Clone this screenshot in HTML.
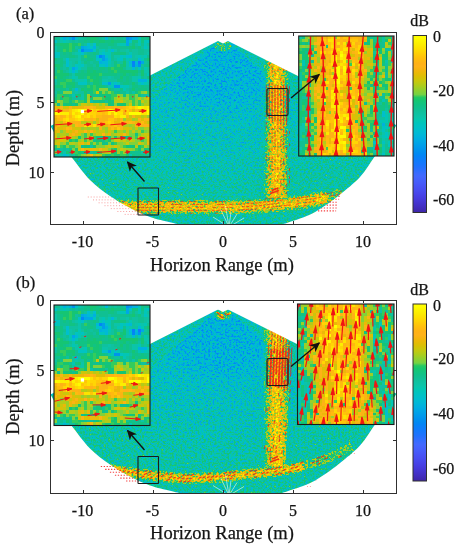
<!DOCTYPE html>
<html lang="en"><head><meta charset="utf-8"><title>Figure</title>
<style>html,body{margin:0;padding:0;background:#fff;}body{width:461px;height:550px;overflow:hidden;}svg{display:block;}text{font-family:"Liberation Serif", "Times New Roman", serif;fill:#141414;stroke:#141414;stroke-width:0.25px;}</style>
</head><body>
<svg width="461" height="550" viewBox="0 0 461 550">
<defs>
<filter id="cmA" x="0" y="0" width="461" height="550" filterUnits="userSpaceOnUse" color-interpolation-filters="sRGB">
<feTurbulence type="fractalNoise" baseFrequency="0.47 0.52" numOctaves="2" seed="7" result="t"/>
<feColorMatrix in="t" type="matrix" values="1 0 0 0 0  1 0 0 0 0  1 0 0 0 0  0 0 0 0 1" result="n0"/>
<feComponentTransfer in="n0" result="n"><feFuncR type="table" tableValues="0 0.02 0.16 0.5 0.8 0.9 0.94"/><feFuncG type="table" tableValues="0 0.02 0.16 0.5 0.8 0.9 0.94"/><feFuncB type="table" tableValues="0 0.02 0.16 0.5 0.8 0.9 0.94"/></feComponentTransfer>
<feComposite in="SourceGraphic" in2="n" operator="arithmetic" k1="0.400" k2="0.800" k3="0.080" k4="-0.040" result="s"/>
<feComponentTransfer in="s"><feFuncR type="table" tableValues="0.242 0.250 0.258 0.265 0.271 0.275 0.278 0.280 0.281 0.281 0.280 0.276 0.270 0.260 0.222 0.176 0.129 0.093 0.066 0.044 0.016 0.000 0.000 0.000 0.000 0.000 0.000 0.000 0.000 0.000 0.000 0.000 0.000 0.018 0.047 0.055 0.063 0.063 0.063 0.071 0.086 0.141 0.459 0.531 0.601 0.670 0.737 0.797 0.845 0.889 0.931 0.967 1.000 1.000 1.000 1.000 1.000 1.000 0.997 0.990 0.988 0.992 0.998 0.992"/><feFuncG type="table" tableValues="0.150 0.165 0.182 0.198 0.215 0.234 0.256 0.278 0.301 0.323 0.345 0.367 0.389 0.412 0.420 0.430 0.443 0.458 0.476 0.493 0.512 0.540 0.568 0.596 0.624 0.652 0.677 0.702 0.725 0.742 0.753 0.763 0.772 0.781 0.769 0.761 0.753 0.753 0.761 0.769 0.776 0.792 0.823 0.818 0.811 0.803 0.793 0.780 0.758 0.738 0.720 0.707 0.700 0.696 0.722 0.752 0.787 0.828 0.868 0.902 0.933 0.961 0.988 1.000"/><feFuncB type="table" tableValues="0.660 0.708 0.751 0.795 0.836 0.871 0.899 0.922 0.941 0.958 0.972 0.983 0.991 0.995 0.999 0.998 0.994 0.991 0.989 0.976 0.964 0.949 0.935 0.924 0.915 0.903 0.886 0.865 0.841 0.815 0.789 0.761 0.728 0.689 0.659 0.635 0.604 0.565 0.525 0.486 0.439 0.384 0.265 0.213 0.161 0.115 0.077 0.044 0.021 0.019 0.033 0.066 0.095 0.086 0.065 0.045 0.029 0.017 0.004 0.000 0.000 0.000 0.000 0.000"/><feFuncA type="linear" slope="0" intercept="1"/></feComponentTransfer><feGaussianBlur stdDeviation="0.5"/>
</filter>
<filter id="cmB" x="0" y="0" width="461" height="550" filterUnits="userSpaceOnUse" color-interpolation-filters="sRGB">
<feTurbulence type="fractalNoise" baseFrequency="0.47 0.52" numOctaves="2" seed="23" result="t"/>
<feColorMatrix in="t" type="matrix" values="1 0 0 0 0  1 0 0 0 0  1 0 0 0 0  0 0 0 0 1" result="n0"/>
<feComponentTransfer in="n0" result="n"><feFuncR type="table" tableValues="0 0.02 0.16 0.5 0.8 0.9 0.94"/><feFuncG type="table" tableValues="0 0.02 0.16 0.5 0.8 0.9 0.94"/><feFuncB type="table" tableValues="0 0.02 0.16 0.5 0.8 0.9 0.94"/></feComponentTransfer>
<feComposite in="SourceGraphic" in2="n" operator="arithmetic" k1="0.400" k2="0.800" k3="0.080" k4="-0.040" result="s"/>
<feComponentTransfer in="s"><feFuncR type="table" tableValues="0.242 0.250 0.258 0.265 0.271 0.275 0.278 0.280 0.281 0.281 0.280 0.276 0.270 0.260 0.222 0.176 0.129 0.093 0.066 0.044 0.016 0.000 0.000 0.000 0.000 0.000 0.000 0.000 0.000 0.000 0.000 0.000 0.000 0.018 0.047 0.055 0.063 0.063 0.063 0.071 0.086 0.141 0.459 0.531 0.601 0.670 0.737 0.797 0.845 0.889 0.931 0.967 1.000 1.000 1.000 1.000 1.000 1.000 0.997 0.990 0.988 0.992 0.998 0.992"/><feFuncG type="table" tableValues="0.150 0.165 0.182 0.198 0.215 0.234 0.256 0.278 0.301 0.323 0.345 0.367 0.389 0.412 0.420 0.430 0.443 0.458 0.476 0.493 0.512 0.540 0.568 0.596 0.624 0.652 0.677 0.702 0.725 0.742 0.753 0.763 0.772 0.781 0.769 0.761 0.753 0.753 0.761 0.769 0.776 0.792 0.823 0.818 0.811 0.803 0.793 0.780 0.758 0.738 0.720 0.707 0.700 0.696 0.722 0.752 0.787 0.828 0.868 0.902 0.933 0.961 0.988 1.000"/><feFuncB type="table" tableValues="0.660 0.708 0.751 0.795 0.836 0.871 0.899 0.922 0.941 0.958 0.972 0.983 0.991 0.995 0.999 0.998 0.994 0.991 0.989 0.976 0.964 0.949 0.935 0.924 0.915 0.903 0.886 0.865 0.841 0.815 0.789 0.761 0.728 0.689 0.659 0.635 0.604 0.565 0.525 0.486 0.439 0.384 0.265 0.213 0.161 0.115 0.077 0.044 0.021 0.019 0.033 0.066 0.095 0.086 0.065 0.045 0.029 0.017 0.004 0.000 0.000 0.000 0.000 0.000"/><feFuncA type="linear" slope="0" intercept="1"/></feComponentTransfer><feGaussianBlur stdDeviation="0.5"/>
</filter>
<linearGradient id="cb" x1="0" y1="0" x2="0" y2="1">
<stop offset="0.0000" stop-color="#fdff00"/>
<stop offset="0.0159" stop-color="#fffc00"/>
<stop offset="0.0317" stop-color="#fdf500"/>
<stop offset="0.0476" stop-color="#fcee00"/>
<stop offset="0.0635" stop-color="#fce600"/>
<stop offset="0.0794" stop-color="#fedd01"/>
<stop offset="0.0952" stop-color="#ffd304"/>
<stop offset="0.1111" stop-color="#ffc907"/>
<stop offset="0.1270" stop-color="#ffc00b"/>
<stop offset="0.1429" stop-color="#ffb810"/>
<stop offset="0.1587" stop-color="#ffb116"/>
<stop offset="0.1746" stop-color="#ffb318"/>
<stop offset="0.1905" stop-color="#f7b411"/>
<stop offset="0.2063" stop-color="#edb808"/>
<stop offset="0.2222" stop-color="#e3bc05"/>
<stop offset="0.2381" stop-color="#d7c105"/>
<stop offset="0.2540" stop-color="#cbc70b"/>
<stop offset="0.2698" stop-color="#bcca14"/>
<stop offset="0.2857" stop-color="#abcd1d"/>
<stop offset="0.3016" stop-color="#99cf29"/>
<stop offset="0.3175" stop-color="#87d136"/>
<stop offset="0.3333" stop-color="#75d244"/>
<stop offset="0.3492" stop-color="#24ca62"/>
<stop offset="0.3651" stop-color="#16c670"/>
<stop offset="0.3810" stop-color="#12c47c"/>
<stop offset="0.3968" stop-color="#10c286"/>
<stop offset="0.4127" stop-color="#10c090"/>
<stop offset="0.4286" stop-color="#10c09a"/>
<stop offset="0.4444" stop-color="#0ec2a2"/>
<stop offset="0.4603" stop-color="#0cc4a8"/>
<stop offset="0.4762" stop-color="#05c7b0"/>
<stop offset="0.4921" stop-color="#00c5ba"/>
<stop offset="0.5079" stop-color="#00c3c2"/>
<stop offset="0.5238" stop-color="#00c0c9"/>
<stop offset="0.5397" stop-color="#00bdd0"/>
<stop offset="0.5556" stop-color="#00b9d6"/>
<stop offset="0.5714" stop-color="#00b3dc"/>
<stop offset="0.5873" stop-color="#00ade2"/>
<stop offset="0.6032" stop-color="#00a6e6"/>
<stop offset="0.6190" stop-color="#009fe9"/>
<stop offset="0.6349" stop-color="#0098ec"/>
<stop offset="0.6508" stop-color="#0091ee"/>
<stop offset="0.6667" stop-color="#008af2"/>
<stop offset="0.6825" stop-color="#0483f6"/>
<stop offset="0.6984" stop-color="#0b7ef9"/>
<stop offset="0.7143" stop-color="#1179fc"/>
<stop offset="0.7302" stop-color="#1875fd"/>
<stop offset="0.7460" stop-color="#2171fd"/>
<stop offset="0.7619" stop-color="#2d6eff"/>
<stop offset="0.7778" stop-color="#396bff"/>
<stop offset="0.7937" stop-color="#4269fe"/>
<stop offset="0.8095" stop-color="#4563fd"/>
<stop offset="0.8254" stop-color="#465efb"/>
<stop offset="0.8413" stop-color="#4758f8"/>
<stop offset="0.8571" stop-color="#4852f4"/>
<stop offset="0.8730" stop-color="#484df0"/>
<stop offset="0.8889" stop-color="#4747eb"/>
<stop offset="0.9048" stop-color="#4741e5"/>
<stop offset="0.9206" stop-color="#463cde"/>
<stop offset="0.9365" stop-color="#4537d5"/>
<stop offset="0.9524" stop-color="#4332cb"/>
<stop offset="0.9683" stop-color="#422ec0"/>
<stop offset="0.9841" stop-color="#402ab4"/>
<stop offset="1.0000" stop-color="#3e26a8"/>
</linearGradient>
<clipPath id="ri0"><rect x="298.5" y="36" width="95.5" height="120"/></clipPath><clipPath id="ri1"><rect x="297.5" y="35.5" width="96.5" height="120.5"/></clipPath>
<clipPath id="secA"><path d="M218 41L223 43.5L228 41L396.5 125.3C394.9 127.6 390.6 133.9 387.0 139.0C383.4 144.1 379.5 149.7 375.0 156.0C370.5 162.3 365.8 170.6 360.0 177.0C354.2 183.4 345.7 189.8 340.0 194.5C334.3 199.2 330.6 201.8 326.0 205.0C321.4 208.2 316.6 211.2 312.3 213.5C308.0 215.8 304.1 217.0 300.0 218.6C295.9 220.2 290.5 221.8 287.5 222.8C284.5 223.8 282.9 224.2 282.0 224.5L179.0 224.5C177.5 224.1 174.8 223.6 170.0 222.3C165.2 221.1 156.7 219.4 150.0 217.0C143.3 214.6 136.7 211.5 130.0 208.0C123.3 204.5 116.7 200.7 110.0 196.0C103.3 191.3 96.4 186.5 90.0 180.0C83.6 173.5 76.4 163.3 71.4 157.0C66.4 150.7 63.5 147.2 60.0 142.0C56.5 136.8 52.1 128.7 50.5 126.0Z"/></clipPath>
<radialGradient id="gBlue" gradientUnits="userSpaceOnUse" cx="223" cy="38" r="200"><stop offset="0.00" stop-color="#6f6f6f"/><stop offset="0.30" stop-color="#707070"/><stop offset="0.40" stop-color="#7c7c7c"/><stop offset="0.60" stop-color="#838383"/><stop offset="0.80" stop-color="#8b8b8b"/><stop offset="1.00" stop-color="#8c8c8c"/></radialGradient>
<linearGradient id="gV" x1="0" y1="0" x2="1" y2="0"><stop offset="0" stop-color="#fff" stop-opacity="0"/><stop offset="0.28" stop-color="#fff" stop-opacity="0.5"/><stop offset="0.5" stop-color="#fff" stop-opacity="0.74"/><stop offset="0.72" stop-color="#fff" stop-opacity="0.5"/><stop offset="1" stop-color="#fff" stop-opacity="0"/></linearGradient>
<linearGradient id="gH" x1="0" y1="0" x2="0" y2="1"><stop offset="0" stop-color="#fff" stop-opacity="0"/><stop offset="0.3" stop-color="#fff" stop-opacity="0.5"/><stop offset="0.5" stop-color="#fff" stop-opacity="0.62"/><stop offset="0.7" stop-color="#fff" stop-opacity="0.5"/><stop offset="1" stop-color="#fff" stop-opacity="0"/></linearGradient>
<marker id="ah" viewBox="0 0 10 10" refX="9" refY="5" markerWidth="11" markerHeight="10" markerUnits="userSpaceOnUse" orient="auto"><path d="M0 0.3L10 5L0 9.7L2.8 5Z" fill="#111"/></marker>
</defs>
<g transform="translate(0 0.0)">
<g stroke="#f03030" fill="none" opacity="0.5">
<path d="M87.8 197.0H150M93.0 199.9H150M98.6 202.8H150M104.5 205.7H150M110.8 208.6H150M117.4 211.5H150M124.7 214.4H150" stroke-width="0.9" stroke-dasharray="1 1.9"/>
</g>
<path d="M318 193.5H340.5M318 196.4H339.8M318 199.3H339.1M318 202.2H338.3M318 205.1H337.6M318 208.0H336.9M318 210.9H336.1" stroke="#f01010" fill="none" stroke-width="1.1" stroke-dasharray="1.3 1.6" opacity="0.8"/>
<g clip-path="url(#secA)"><g filter="url(#cmA)">
<rect x="0" y="0.0" width="461" height="550" fill="#8a8a8a"/>
<circle cx="223" cy="38" r="260" fill="url(#gBlue)"/>
<ellipse cx="223" cy="46" rx="9" ry="5.5" fill="#a1a1a1" opacity="0.75"/>
<path d="M217.5 43.5h1.6M220.5 45.6h1.6M229 46h1.6M224 48.5h1.2" stroke="#c2c2c2" stroke-width="1.2"/>
<path d="M218 41L38 129L40 201Z" fill="#8c8c8c" opacity="0.8"/>
<path d="M228 41L408 129L406 201Z" fill="#8c8c8c" opacity="0.8"/>
<rect x="263" y="50" width="27" height="148" fill="url(#gV)"/>
<path d="M60 207L225 207C250 207 290 205 322 198.5" fill="none" stroke="#fff" stroke-linecap="round" stroke-width="14.5" opacity="0.20"/>
<path d="M60 207L225 207C250 207 290 205 322 198.5" fill="none" stroke="#fff" stroke-linecap="round" stroke-width="10.5" opacity="0.30"/>
<path d="M60 207L225 207C250 207 290 205 322 198.5" fill="none" stroke="#fff" stroke-linecap="round" stroke-width="6.5" opacity="0.28"/>
<path d="M315 200C325 198 333 196 342 193" fill="none" stroke="#fff" stroke-width="10" opacity="0.22"/>
</g></g>
<g clip-path="url(#secA)" stroke="#f01818" fill="none">
<path d="M266.3 85.0v3.6M266.3 89.1v3.6M266.3 93.2v3.6M266.3 97.3v3.6M266.3 109.6v3.6M266.3 113.7v3.6M266.3 121.9v2.4M266.3 126.0v2.5M266.3 138.3v3.2M266.3 154.7v2.8M266.3 158.8v2.2M266.3 175.2v3.0M269.2 62.7v2.8M269.2 132.4v3.0M269.2 148.8v2.7M269.2 157.0v2.9M269.2 165.2v3.0M269.2 173.4v2.3M269.2 181.6v2.5M272.1 66.3v2.2M272.1 70.4v2.4M272.1 82.7v2.6M272.1 119.6v3.0M272.1 127.8v2.4M272.1 131.9v2.3M272.1 136.0v2.8M272.1 140.1v2.3M272.1 148.3v2.7M272.1 156.5v2.7M272.1 160.6v2.8M272.1 164.7v2.3M272.1 168.8v2.6M272.1 189.3v2.9M275.0 68.8v2.5M275.0 72.9v3.1M275.0 126.2v2.9M275.0 130.3v3.2M275.0 134.4v2.8M275.0 138.5v3.0M275.0 142.6v3.1M275.0 146.7v2.9M275.0 159.0v2.6M275.0 167.2v2.4M275.0 179.5v2.8M275.0 187.7v2.8M277.9 60.3v3.1M277.9 68.5v2.6M277.9 121.8v3.2M277.9 125.9v3.0M277.9 130.0v2.4M277.9 142.3v3.1M277.9 146.4v3.0M277.9 154.6v3.1M277.9 166.9v2.9M277.9 175.1v2.2M277.9 179.2v2.7M277.9 187.4v2.8M277.9 191.5v2.7M280.8 61.5v2.2M280.8 77.9v2.7M280.8 123.0v2.5M280.8 127.1v3.1M280.8 139.4v2.3M280.8 143.5v3.0M280.8 159.9v2.5M280.8 164.0v2.5M280.8 180.4v3.1M280.8 184.5v2.9M283.7 68.3v2.7M283.7 80.6v2.4M283.7 121.6v2.9M283.7 125.7v2.6M283.7 129.8v2.8M283.7 133.9v3.0M283.7 138.0v2.6M283.7 142.1v3.0M283.7 146.2v2.7M283.7 158.5v3.1M283.7 162.6v2.8M283.7 174.9v2.6M283.7 179.0v3.1M283.7 187.2v3.0M286.6 64.8v2.4M286.6 68.9v2.3M286.6 122.2v3.1M286.6 130.4v3.2M286.6 134.5v2.2M286.6 146.8v3.0M286.6 155.0v3.0M286.6 171.4v3.0M286.6 183.7v2.9M286.6 191.9v2.3M289.5 86.1v3.6M289.5 90.2v3.6M289.5 98.4v3.6M289.5 131.2v2.6M289.5 143.5v2.4M289.5 168.1v2.8M289.5 176.3v2.6M289.5 180.4v2.8" stroke-width="0.8" opacity="0.85"/>
<path d="M269.2 83.2v3.6M269.2 87.3v3.6M269.2 91.4v3.6M269.2 95.5v3.6M269.2 99.6v3.6M269.2 103.7v3.6M269.2 107.8v3.6M269.2 111.9v3.6M269.2 116.0v3.6M272.1 86.8v3.6M272.1 90.9v3.6M272.1 95.0v3.6M272.1 99.1v3.6M272.1 103.2v3.6M272.1 107.3v3.6M272.1 111.4v3.6M272.1 115.5v3.6M275.0 85.2v3.6M275.0 89.3v3.6M275.0 93.4v3.6M275.0 97.5v3.6M275.0 101.6v3.6M275.0 105.7v3.6M275.0 109.8v3.6M275.0 113.9v3.6M275.0 118.0v3.6M277.9 84.9v3.6M277.9 89.0v3.6M277.9 93.1v3.6M277.9 97.2v3.6M277.9 101.3v3.6M277.9 105.4v3.6M277.9 109.5v3.6M277.9 113.6v3.6M277.9 117.7v3.6M280.8 86.1v3.6M280.8 90.2v3.6M280.8 94.3v3.6M280.8 98.4v3.6M280.8 102.5v3.6M280.8 110.7v3.6M280.8 114.8v3.6M280.8 118.9v3.6M283.7 84.7v3.6M283.7 88.8v3.6M283.7 92.9v3.6M283.7 97.0v3.6M283.7 101.1v3.6M283.7 105.2v3.6M283.7 109.3v3.6M283.7 113.4v3.6M283.7 117.5v3.6M286.6 85.3v3.6M286.6 89.4v3.6M286.6 93.5v3.6M286.6 97.6v3.6M286.6 101.7v3.6M286.6 105.8v3.6M286.6 109.9v3.6M286.6 114.0v3.6M286.6 118.1v3.6" stroke-width="1.1" opacity="0.85"/>
<path d="M121.8 201.6l3.4 0.0M138.6 201.6l2.9 0.0M147.0 201.6l3.0 0.0M159.6 201.6l3.2 0.0M168.0 201.6l3.3 0.0M172.2 201.6l3.0 0.0M180.6 201.6l2.7 0.0M189.0 201.6l3.1 0.0M193.2 201.6l3.2 0.0M214.2 201.6l2.9 0.0M218.4 201.6l3.6 0.0M222.6 201.6l2.9 0.0M247.8 200.6l3.0 0.0M264.6 199.2l2.6 -0.7M268.8 198.8l3.1 -0.8M273.0 198.4l2.8 -0.7M277.2 197.9l2.6 -0.7M128.7 204.5l3.2 0.0M137.1 204.5l2.8 0.0M141.3 204.5l3.0 0.0M145.5 204.5l2.8 0.0M149.7 204.5l2.7 0.0M153.9 204.5l2.7 0.0M158.1 204.5l2.8 0.0M170.7 204.5l3.6 0.0M174.9 204.5l3.5 0.0M179.1 204.5l3.2 0.0M191.7 204.5l3.4 0.0M195.9 204.5l3.2 0.0M200.1 204.5l2.9 0.0M204.3 204.5l3.3 0.0M216.9 204.5l3.6 0.0M221.1 204.5l2.9 0.0M229.5 204.4l3.2 0.0M237.9 204.1l2.7 0.0M242.1 203.9l2.8 0.0M246.3 203.6l3.3 0.0M250.5 203.3l3.1 0.0M254.7 203.0l2.9 0.0M258.9 202.7l2.9 0.0M263.1 202.3l3.1 -0.8M267.3 201.9l3.1 -0.8M271.5 201.4l2.6 -0.7M275.7 201.0l3.5 -0.9M279.9 200.5l3.3 -0.8M292.5 199.0l2.6 -0.7M296.7 198.4l3.2 -0.8M300.9 197.8l3.4 -0.8M305.1 197.2l3.5 -0.9M321.9 194.6l3.2 -0.8M326.1 193.9l3.4 -0.8M330.3 193.2l2.7 -0.7M338.7 191.7l3.2 -0.8M137.0 207.4l3.6 0.0M141.2 207.4l3.1 0.0M145.4 207.4l2.9 0.0M149.6 207.4l2.6 0.0M153.8 207.4l3.2 0.0M158.0 207.4l2.8 0.0M162.2 207.4l2.6 0.0M170.6 207.4l3.5 0.0M179.0 207.4l2.7 0.0M187.4 207.4l2.9 0.0M195.8 207.4l3.3 0.0M200.0 207.4l3.2 0.0M212.6 207.4l3.5 0.0M221.0 207.4l2.9 0.0M225.2 207.4l2.9 0.0M229.4 207.3l3.3 0.0M242.0 206.8l2.9 0.0M246.2 206.5l3.3 0.0M250.4 206.2l2.7 0.0M254.6 205.9l3.2 0.0M258.8 205.6l3.5 0.0M263.0 205.2l2.6 -0.7M267.2 204.8l3.3 -0.8M271.4 204.4l3.2 -0.8M275.6 203.9l3.4 -0.9M288.2 202.4l2.8 -0.7M296.6 201.3l2.8 -0.7M305.0 200.1l3.5 -0.9M309.2 199.5l3.1 -0.8M313.4 198.9l3.4 -0.9M317.6 198.2l3.3 -0.8M330.2 196.1l3.6 -0.9M334.4 195.4l3.4 -0.9M338.6 194.7l3.0 -0.8M132.3 210.3l3.0 0.0M136.5 210.3l3.6 0.0M140.7 210.3l3.6 0.0M144.9 210.3l3.3 0.0M149.1 210.3l2.9 0.0M153.3 210.3l3.2 0.0M161.7 210.3l3.1 0.0M170.1 210.3l3.0 0.0M178.5 210.3l2.6 0.0M186.9 210.3l3.5 0.0M191.1 210.3l2.9 0.0M195.3 210.3l3.0 0.0M199.5 210.3l2.8 0.0M203.7 210.3l3.5 0.0M212.1 210.3l2.7 0.0M216.3 210.3l3.3 0.0M220.5 210.3l3.4 0.0M224.7 210.3l3.4 0.0M237.3 209.9l3.2 0.0M241.5 209.7l3.5 0.0M245.7 209.5l3.2 0.0M249.9 209.2l3.3 0.0M254.1 208.9l3.3 0.0M262.5 208.1l3.0 -0.7M266.7 207.7l2.8 -0.7M270.9 207.3l3.4 -0.9M275.1 206.9l2.9 -0.7M279.3 206.4l3.0 -0.7M283.5 205.9l3.6 -0.9M287.7 205.4l2.9 -0.7M296.1 204.3l3.2 -0.8M304.5 203.1l2.8 -0.7M308.7 202.5l2.8 -0.7M312.9 201.8l2.8 -0.7M342.3 196.9l3.3 -0.8M139.5 213.2l3.0 0.0M147.9 213.2l2.9 0.0M156.3 213.2l3.5 0.0M189.9 213.2l2.7 0.0M215.1 213.2l2.7 0.0M269.7 210.3l3.0 -0.8M294.9 207.3l2.9 -0.7M303.3 206.2l3.2 -0.8M320.1 203.6l2.7 -0.7M328.5 202.2l2.7 -0.7" stroke-width="0.9" opacity="0.70"/>
<path d="M272 190.5l6 -2.5M270 193.5l9 -3" stroke-width="1.6" opacity="0.85"/>
</g>
<g clip-path="url(#secA)" stroke="#fff" stroke-width="0.7" opacity="0.8"><path d="M229 227L221 210M229 227L225.5 206M229 227L231 212M229 227L237 214M229 227L244 218M229 227L213 217"/></g>
<rect x="50.5" y="32.5" width="346.0" height="192.0" fill="none" stroke="#303030" stroke-width="1" shape-rendering="crispEdges"/>
<path d="M83.0 224.5v-3.5M83.0 32.0v3.5M153.0 224.5v-3.5M153.0 32.0v3.5M223.0 224.5v-3.5M223.0 32.0v3.5M293.0 224.5v-3.5M293.0 32.0v3.5M363.0 224.5v-3.5M363.0 32.0v3.5M50.5 102.0h3.5M396.5 102.0h-3.5M50.5 172.0h3.5M396.5 172.0h-3.5" stroke="#303030" stroke-width="1" fill="none" shape-rendering="crispEdges"/>
<text x="82.5" y="247" font-size="16" text-anchor="middle">-10</text>
<text x="152.5" y="247" font-size="16" text-anchor="middle">-5</text>
<text x="223.0" y="247" font-size="16" text-anchor="middle">0</text>
<text x="293.0" y="247" font-size="16" text-anchor="middle">5</text>
<text x="363.0" y="247" font-size="16" text-anchor="middle">10</text>
<text x="44.5" y="37.5" font-size="16" text-anchor="end">0</text>
<text x="44.5" y="107.5" font-size="16" text-anchor="end">5</text>
<text x="44.5" y="177.5" font-size="16" text-anchor="end">10</text>
<text x="222" y="270.6" font-size="18.5" text-anchor="middle">Horizon Range (m)</text>
<text transform="translate(19.3 128) rotate(-90)" font-size="18.5" text-anchor="middle">Depth (m)</text>
<text x="16" y="19" font-size="16.5">(a)</text>
<rect x="413" y="35.5" width="13.5" height="177" fill="url(#cb)" stroke="#303030" stroke-width="1"/>
<text x="419.5" y="26" font-size="16" text-anchor="middle">dB</text>
<text x="433" y="42.0" font-size="16">0</text>
<text x="433" y="95.8" font-size="16">-20</text>
<text x="433" y="150.6" font-size="16">-40</text>
<text x="433" y="205.4" font-size="16">-60</text>
<rect x="267" y="88.5" width="21" height="27" rx="1.5" fill="none" stroke="#1a1a1a" stroke-width="1.1"/>
<rect x="138" y="188" width="20.5" height="27" rx="0.5" fill="none" stroke="#1a1a1a" stroke-width="1.1"/>
<g shape-rendering="crispEdges">
<path fill="#1179fc" d="M138.00 60.60h3.05v3.06h-3.05z"/>
<path fill="#0880f8" d="M132.00 60.60h3.05v3.06h-3.05z"/>
<path fill="#0188f3" d="M81.00 48.55h3.05v3.06h-3.05zM99.00 54.58h3.05v3.06h-3.05zM132.00 63.61h3.05v3.06h-3.05z"/>
<path fill="#0093ee" d="M72.00 36.50h3.05v3.06h-3.05zM126.00 36.50h3.05v3.06h-3.05zM138.00 63.61h3.05v3.06h-3.05zM114.00 84.70h6.05v3.06h-6.05z"/>
<path fill="#009dea" d="M129.00 36.50h3.05v3.06h-3.05zM102.00 54.58h3.05v3.06h-3.05zM102.00 57.59h3.05v3.06h-3.05zM108.00 81.69h3.05v3.06h-3.05z"/>
<path fill="#00a7e5" d="M126.00 39.51h3.05v3.06h-3.05zM126.00 42.52h3.05v3.06h-3.05zM81.00 45.54h3.05v3.06h-3.05zM84.00 48.55h9.05v3.06h-9.05zM141.00 60.60h3.05v3.06h-3.05zM72.00 66.62h3.05v3.06h-3.05z"/>
<path fill="#00b1de" d="M63.00 36.50h3.05v3.06h-3.05zM69.00 36.50h3.05v3.06h-3.05zM132.00 36.50h6.05v3.06h-6.05zM84.00 45.54h3.05v3.06h-3.05zM93.00 45.54h3.05v3.06h-3.05zM105.00 57.59h3.05v3.06h-3.05zM99.00 60.60h3.05v3.06h-3.05zM135.00 63.61h3.05v3.06h-3.05zM138.00 78.68h9.05v3.06h-9.05z"/>
<path fill="#00b9d6" d="M105.00 36.50h3.05v3.06h-3.05zM87.00 45.54h3.05v3.06h-3.05zM111.00 48.55h3.05v3.06h-3.05zM96.00 54.58h3.05v3.06h-3.05zM129.00 54.58h3.05v3.06h-3.05zM138.00 57.59h3.05v3.06h-3.05zM102.00 60.60h6.05v3.06h-6.05zM129.00 60.60h3.05v3.06h-3.05zM135.00 60.60h3.05v3.06h-3.05zM105.00 63.61h3.05v3.06h-3.05zM75.00 66.62h3.05v3.06h-3.05zM132.00 66.62h3.05v3.06h-3.05zM72.00 69.64h3.05v3.06h-3.05zM75.00 87.71h3.05v3.06h-3.05zM63.00 153.99h3.05v3.06h-3.05z"/>
<path fill="#00bfcc" d="M66.00 36.50h3.05v3.06h-3.05zM75.00 36.50h3.05v3.06h-3.05zM87.00 42.52h3.05v3.06h-3.05zM93.00 42.52h3.05v3.06h-3.05zM78.00 48.55h3.05v3.06h-3.05zM81.00 51.56h3.05v3.06h-3.05zM102.00 51.56h3.05v3.06h-3.05zM105.00 54.58h3.05v3.06h-3.05zM126.00 54.58h3.05v3.06h-3.05zM66.00 57.59h3.05v3.06h-3.05zM99.00 57.59h3.05v3.06h-3.05zM66.00 60.60h3.05v3.06h-3.05zM66.00 63.61h3.05v3.06h-3.05zM129.00 63.61h3.05v3.06h-3.05zM102.00 81.69h6.05v3.06h-6.05zM114.00 81.69h3.05v3.06h-3.05zM141.00 81.69h3.05v3.06h-3.05z"/>
<path fill="#00c3c2" d="M60.00 36.50h3.05v3.06h-3.05zM54.00 39.51h3.05v3.06h-3.05zM129.00 39.51h3.05v3.06h-3.05zM147.00 39.51h3.05v3.06h-3.05zM90.00 45.54h3.05v3.06h-3.05zM144.00 45.54h3.05v3.06h-3.05zM93.00 48.55h3.05v3.06h-3.05zM54.00 51.56h6.05v3.06h-6.05zM54.00 54.58h3.05v3.06h-3.05zM120.00 54.58h3.05v3.06h-3.05zM96.00 57.59h3.05v3.06h-3.05zM108.00 57.59h3.05v3.06h-3.05zM120.00 57.59h3.05v3.06h-3.05zM75.00 63.61h3.05v3.06h-3.05zM81.00 63.61h3.05v3.06h-3.05zM99.00 63.61h6.05v3.06h-6.05zM138.00 66.62h3.05v3.06h-3.05zM78.00 81.69h9.05v3.06h-9.05zM120.00 84.70h3.05v3.06h-3.05zM66.00 153.99h3.05v3.06h-3.05z"/>
<path fill="#02c6b5" d="M138.00 36.50h3.05v3.06h-3.05zM63.00 39.51h3.05v3.06h-3.05zM138.00 39.51h3.05v3.06h-3.05zM144.00 39.51h3.05v3.06h-3.05zM120.00 42.52h6.05v3.06h-6.05zM138.00 42.52h3.05v3.06h-3.05zM144.00 42.52h3.05v3.06h-3.05zM102.00 48.55h3.05v3.06h-3.05zM108.00 48.55h3.05v3.06h-3.05zM78.00 51.56h3.05v3.06h-3.05zM99.00 51.56h3.05v3.06h-3.05zM105.00 51.56h6.05v3.06h-6.05zM129.00 51.56h3.05v3.06h-3.05zM57.00 54.58h3.05v3.06h-3.05zM108.00 54.58h3.05v3.06h-3.05zM123.00 54.58h3.05v3.06h-3.05zM138.00 54.58h3.05v3.06h-3.05zM144.00 54.58h3.05v3.06h-3.05zM117.00 57.59h3.05v3.06h-3.05zM126.00 57.59h3.05v3.06h-3.05zM141.00 57.59h3.05v3.06h-3.05zM78.00 60.60h3.05v3.06h-3.05zM108.00 60.60h3.05v3.06h-3.05zM78.00 63.61h3.05v3.06h-3.05zM69.00 66.62h3.05v3.06h-3.05zM78.00 66.62h3.05v3.06h-3.05zM144.00 66.62h3.05v3.06h-3.05zM69.00 69.64h3.05v3.06h-3.05zM75.00 69.64h3.05v3.06h-3.05zM147.00 72.65h3.05v3.06h-3.05zM72.00 75.66h3.05v3.06h-3.05zM138.00 75.66h3.05v3.06h-3.05zM84.00 78.68h3.05v3.06h-3.05zM147.00 78.68h3.05v3.06h-3.05zM111.00 81.69h3.05v3.06h-3.05zM117.00 81.69h3.05v3.06h-3.05zM138.00 81.69h3.05v3.06h-3.05zM144.00 81.69h3.05v3.06h-3.05zM111.00 84.70h3.05v3.06h-3.05zM123.00 84.70h6.05v3.06h-6.05zM123.00 87.71h3.05v3.06h-3.05zM72.00 93.74h3.05v3.06h-3.05zM60.00 153.99h3.05v3.06h-3.05zM129.00 153.99h3.05v3.06h-3.05z"/>
<path fill="#0bc4a9" d="M78.00 36.50h3.05v3.06h-3.05zM60.00 39.51h3.05v3.06h-3.05zM66.00 39.51h3.05v3.06h-3.05zM90.00 42.52h3.05v3.06h-3.05zM117.00 42.52h3.05v3.06h-3.05zM54.00 45.54h3.05v3.06h-3.05zM147.00 45.54h3.05v3.06h-3.05zM54.00 48.55h3.05v3.06h-3.05zM99.00 48.55h3.05v3.06h-3.05zM114.00 48.55h3.05v3.06h-3.05zM126.00 48.55h3.05v3.06h-3.05zM75.00 51.56h3.05v3.06h-3.05zM147.00 51.56h3.05v3.06h-3.05zM78.00 54.58h3.05v3.06h-3.05zM114.00 54.58h6.05v3.06h-6.05zM135.00 54.58h3.05v3.06h-3.05zM141.00 54.58h3.05v3.06h-3.05zM78.00 57.59h3.05v3.06h-3.05zM129.00 57.59h3.05v3.06h-3.05zM69.00 60.60h3.05v3.06h-3.05zM126.00 60.60h3.05v3.06h-3.05zM69.00 63.61h3.05v3.06h-3.05zM108.00 63.61h3.05v3.06h-3.05zM126.00 63.61h3.05v3.06h-3.05zM126.00 66.62h6.05v3.06h-6.05zM144.00 69.64h6.05v3.06h-6.05zM72.00 72.65h3.05v3.06h-3.05zM75.00 75.66h3.05v3.06h-3.05zM108.00 75.66h3.05v3.06h-3.05zM132.00 75.66h6.05v3.06h-6.05zM54.00 78.68h3.05v3.06h-3.05zM75.00 78.68h9.05v3.06h-9.05zM102.00 78.68h6.05v3.06h-6.05zM132.00 78.68h6.05v3.06h-6.05zM147.00 81.69h3.05v3.06h-3.05zM108.00 84.70h3.05v3.06h-3.05zM75.00 90.72h3.05v3.06h-3.05zM126.00 90.72h3.05v3.06h-3.05zM132.00 90.72h3.05v3.06h-3.05zM81.00 93.74h3.05v3.06h-3.05zM81.00 96.75h3.05v3.06h-3.05zM90.00 99.76h3.05v3.06h-3.05zM90.00 144.95h3.05v3.06h-3.05zM63.00 150.98h3.05v3.06h-3.05zM141.00 150.98h3.05v3.06h-3.05zM57.00 153.99h3.05v3.06h-3.05z"/>
<path fill="#0fc19f" d="M81.00 36.50h3.05v3.06h-3.05zM102.00 36.50h3.05v3.06h-3.05zM108.00 36.50h3.05v3.06h-3.05zM114.00 36.50h3.05v3.06h-3.05zM123.00 36.50h3.05v3.06h-3.05zM57.00 39.51h3.05v3.06h-3.05zM69.00 39.51h3.05v3.06h-3.05zM75.00 39.51h3.05v3.06h-3.05zM84.00 42.52h3.05v3.06h-3.05zM129.00 42.52h3.05v3.06h-3.05zM135.00 42.52h3.05v3.06h-3.05zM147.00 42.52h3.05v3.06h-3.05zM75.00 45.54h3.05v3.06h-3.05zM96.00 45.54h3.05v3.06h-3.05zM108.00 45.54h3.05v3.06h-3.05zM141.00 45.54h3.05v3.06h-3.05zM105.00 48.55h3.05v3.06h-3.05zM120.00 48.55h6.05v3.06h-6.05zM132.00 48.55h6.05v3.06h-6.05zM144.00 48.55h6.05v3.06h-6.05zM72.00 51.56h3.05v3.06h-3.05zM84.00 51.56h3.05v3.06h-3.05zM126.00 51.56h3.05v3.06h-3.05zM132.00 51.56h6.05v3.06h-6.05zM144.00 51.56h3.05v3.06h-3.05zM132.00 54.58h3.05v3.06h-3.05zM63.00 57.59h3.05v3.06h-3.05zM69.00 57.59h9.05v3.06h-9.05zM114.00 57.59h3.05v3.06h-3.05zM132.00 57.59h6.05v3.06h-6.05zM72.00 60.60h3.05v3.06h-3.05zM81.00 60.60h3.05v3.06h-3.05zM90.00 60.60h3.05v3.06h-3.05zM111.00 60.60h3.05v3.06h-3.05zM117.00 60.60h6.05v3.06h-6.05zM144.00 60.60h3.05v3.06h-3.05zM63.00 63.61h3.05v3.06h-3.05zM72.00 63.61h3.05v3.06h-3.05zM84.00 63.61h3.05v3.06h-3.05zM93.00 63.61h3.05v3.06h-3.05zM111.00 63.61h3.05v3.06h-3.05zM141.00 63.61h3.05v3.06h-3.05zM63.00 66.62h3.05v3.06h-3.05zM81.00 66.62h6.05v3.06h-6.05zM135.00 66.62h3.05v3.06h-3.05zM147.00 66.62h3.05v3.06h-3.05zM66.00 69.64h3.05v3.06h-3.05zM138.00 72.65h3.05v3.06h-3.05zM144.00 72.65h3.05v3.06h-3.05zM69.00 75.66h3.05v3.06h-3.05zM102.00 75.66h6.05v3.06h-6.05zM111.00 75.66h3.05v3.06h-3.05zM144.00 75.66h3.05v3.06h-3.05zM108.00 78.68h9.05v3.06h-9.05zM54.00 81.69h3.05v3.06h-3.05zM90.00 81.69h3.05v3.06h-3.05zM129.00 84.70h3.05v3.06h-3.05zM66.00 87.71h3.05v3.06h-3.05zM72.00 87.71h3.05v3.06h-3.05zM78.00 87.71h3.05v3.06h-3.05zM114.00 87.71h6.05v3.06h-6.05zM126.00 87.71h3.05v3.06h-3.05zM54.00 90.72h3.05v3.06h-3.05zM72.00 90.72h3.05v3.06h-3.05zM78.00 90.72h6.05v3.06h-6.05zM141.00 93.74h9.05v3.06h-9.05zM72.00 96.75h9.05v3.06h-9.05zM105.00 99.76h3.05v3.06h-3.05zM57.00 147.96h6.05v3.06h-6.05zM66.00 147.96h3.05v3.06h-3.05zM57.00 150.98h3.05v3.06h-3.05zM87.00 150.98h6.05v3.06h-6.05zM126.00 150.98h3.05v3.06h-3.05zM54.00 153.99h3.05v3.06h-3.05zM69.00 153.99h6.05v3.06h-6.05zM147.00 153.99h3.05v3.06h-3.05z"/>
<path fill="#10c092" d="M54.00 36.50h6.05v3.06h-6.05zM84.00 36.50h3.05v3.06h-3.05zM99.00 36.50h3.05v3.06h-3.05zM111.00 36.50h3.05v3.06h-3.05zM117.00 36.50h6.05v3.06h-6.05zM144.00 36.50h3.05v3.06h-3.05zM72.00 39.51h3.05v3.06h-3.05zM78.00 39.51h6.05v3.06h-6.05zM87.00 39.51h3.05v3.06h-3.05zM54.00 42.52h3.05v3.06h-3.05zM81.00 42.52h3.05v3.06h-3.05zM99.00 42.52h9.05v3.06h-9.05zM114.00 42.52h3.05v3.06h-3.05zM141.00 42.52h3.05v3.06h-3.05zM57.00 45.54h3.05v3.06h-3.05zM78.00 45.54h3.05v3.06h-3.05zM99.00 45.54h9.05v3.06h-9.05zM111.00 45.54h18.05v3.06h-18.05zM135.00 45.54h3.05v3.06h-3.05zM57.00 48.55h3.05v3.06h-3.05zM75.00 48.55h3.05v3.06h-3.05zM96.00 48.55h3.05v3.06h-3.05zM117.00 48.55h3.05v3.06h-3.05zM129.00 48.55h3.05v3.06h-3.05zM138.00 48.55h6.05v3.06h-6.05zM60.00 51.56h3.05v3.06h-3.05zM66.00 51.56h3.05v3.06h-3.05zM87.00 51.56h6.05v3.06h-6.05zM96.00 51.56h3.05v3.06h-3.05zM111.00 51.56h3.05v3.06h-3.05zM138.00 51.56h6.05v3.06h-6.05zM60.00 54.58h9.05v3.06h-9.05zM75.00 54.58h3.05v3.06h-3.05zM81.00 54.58h3.05v3.06h-3.05zM90.00 54.58h6.05v3.06h-6.05zM111.00 54.58h3.05v3.06h-3.05zM147.00 54.58h3.05v3.06h-3.05zM57.00 57.59h3.05v3.06h-3.05zM81.00 57.59h6.05v3.06h-6.05zM93.00 57.59h3.05v3.06h-3.05zM111.00 57.59h3.05v3.06h-3.05zM123.00 57.59h3.05v3.06h-3.05zM144.00 57.59h3.05v3.06h-3.05zM54.00 60.60h6.05v3.06h-6.05zM63.00 60.60h3.05v3.06h-3.05zM75.00 60.60h3.05v3.06h-3.05zM87.00 60.60h3.05v3.06h-3.05zM93.00 60.60h6.05v3.06h-6.05zM147.00 60.60h3.05v3.06h-3.05zM87.00 63.61h6.05v3.06h-6.05zM144.00 63.61h3.05v3.06h-3.05zM54.00 66.62h3.05v3.06h-3.05zM60.00 66.62h3.05v3.06h-3.05zM66.00 66.62h3.05v3.06h-3.05zM93.00 66.62h6.05v3.06h-6.05zM105.00 66.62h3.05v3.06h-3.05zM123.00 66.62h3.05v3.06h-3.05zM141.00 66.62h3.05v3.06h-3.05zM54.00 69.64h3.05v3.06h-3.05zM63.00 69.64h3.05v3.06h-3.05zM78.00 69.64h3.05v3.06h-3.05zM84.00 69.64h3.05v3.06h-3.05zM102.00 69.64h6.05v3.06h-6.05zM138.00 69.64h3.05v3.06h-3.05zM69.00 72.65h3.05v3.06h-3.05zM117.00 72.65h3.05v3.06h-3.05zM126.00 72.65h3.05v3.06h-3.05zM66.00 75.66h3.05v3.06h-3.05zM84.00 75.66h3.05v3.06h-3.05zM114.00 75.66h6.05v3.06h-6.05zM123.00 75.66h3.05v3.06h-3.05zM129.00 75.66h3.05v3.06h-3.05zM141.00 75.66h3.05v3.06h-3.05zM72.00 78.68h3.05v3.06h-3.05zM123.00 78.68h3.05v3.06h-3.05zM129.00 78.68h3.05v3.06h-3.05zM75.00 81.69h3.05v3.06h-3.05zM87.00 81.69h3.05v3.06h-3.05zM120.00 81.69h3.05v3.06h-3.05zM129.00 81.69h3.05v3.06h-3.05zM135.00 81.69h3.05v3.06h-3.05zM75.00 84.70h9.05v3.06h-9.05zM105.00 84.70h3.05v3.06h-3.05zM138.00 84.70h3.05v3.06h-3.05zM144.00 84.70h6.05v3.06h-6.05zM54.00 87.71h6.05v3.06h-6.05zM111.00 87.71h3.05v3.06h-3.05zM129.00 87.71h3.05v3.06h-3.05zM135.00 87.71h3.05v3.06h-3.05zM147.00 87.71h3.05v3.06h-3.05zM60.00 90.72h3.05v3.06h-3.05zM87.00 90.72h3.05v3.06h-3.05zM114.00 90.72h3.05v3.06h-3.05zM120.00 90.72h6.05v3.06h-6.05zM129.00 90.72h3.05v3.06h-3.05zM54.00 93.74h3.05v3.06h-3.05zM69.00 93.74h3.05v3.06h-3.05zM93.00 93.74h6.05v3.06h-6.05zM93.00 99.76h6.05v3.06h-6.05zM57.00 102.78h3.05v3.06h-3.05zM72.00 102.78h3.05v3.06h-3.05zM105.00 135.91h3.05v3.06h-3.05zM120.00 135.91h6.05v3.06h-6.05zM93.00 138.93h3.05v3.06h-3.05zM102.00 138.93h3.05v3.06h-3.05zM105.00 141.94h3.05v3.06h-3.05zM81.00 144.95h3.05v3.06h-3.05zM63.00 147.96h3.05v3.06h-3.05zM60.00 150.98h3.05v3.06h-3.05zM69.00 150.98h3.05v3.06h-3.05zM84.00 150.98h3.05v3.06h-3.05zM93.00 150.98h3.05v3.06h-3.05zM132.00 150.98h9.05v3.06h-9.05zM135.00 153.99h3.05v3.06h-3.05zM144.00 153.99h3.05v3.06h-3.05z"/>
<path fill="#11c383" d="M87.00 36.50h3.05v3.06h-3.05zM96.00 36.50h3.05v3.06h-3.05zM141.00 36.50h3.05v3.06h-3.05zM147.00 36.50h3.05v3.06h-3.05zM84.00 39.51h3.05v3.06h-3.05zM93.00 39.51h6.05v3.06h-6.05zM105.00 39.51h6.05v3.06h-6.05zM114.00 39.51h12.05v3.06h-12.05zM132.00 39.51h6.05v3.06h-6.05zM141.00 39.51h3.05v3.06h-3.05zM57.00 42.52h3.05v3.06h-3.05zM96.00 42.52h3.05v3.06h-3.05zM108.00 42.52h6.05v3.06h-6.05zM132.00 42.52h3.05v3.06h-3.05zM60.00 45.54h3.05v3.06h-3.05zM129.00 45.54h3.05v3.06h-3.05zM138.00 45.54h3.05v3.06h-3.05zM60.00 48.55h3.05v3.06h-3.05zM72.00 48.55h3.05v3.06h-3.05zM63.00 51.56h3.05v3.06h-3.05zM69.00 51.56h3.05v3.06h-3.05zM93.00 51.56h3.05v3.06h-3.05zM114.00 51.56h12.05v3.06h-12.05zM69.00 54.58h6.05v3.06h-6.05zM87.00 54.58h3.05v3.06h-3.05zM54.00 57.59h3.05v3.06h-3.05zM60.00 57.59h3.05v3.06h-3.05zM87.00 57.59h6.05v3.06h-6.05zM60.00 60.60h3.05v3.06h-3.05zM84.00 60.60h3.05v3.06h-3.05zM114.00 60.60h3.05v3.06h-3.05zM60.00 63.61h3.05v3.06h-3.05zM96.00 63.61h3.05v3.06h-3.05zM114.00 63.61h3.05v3.06h-3.05zM120.00 63.61h3.05v3.06h-3.05zM147.00 63.61h3.05v3.06h-3.05zM87.00 66.62h6.05v3.06h-6.05zM99.00 66.62h6.05v3.06h-6.05zM81.00 69.64h3.05v3.06h-3.05zM90.00 69.64h3.05v3.06h-3.05zM96.00 69.64h6.05v3.06h-6.05zM108.00 69.64h3.05v3.06h-3.05zM117.00 69.64h3.05v3.06h-3.05zM54.00 72.65h3.05v3.06h-3.05zM75.00 72.65h12.05v3.06h-12.05zM102.00 72.65h15.05v3.06h-15.05zM120.00 72.65h3.05v3.06h-3.05zM129.00 72.65h3.05v3.06h-3.05zM135.00 72.65h3.05v3.06h-3.05zM57.00 75.66h3.05v3.06h-3.05zM63.00 75.66h3.05v3.06h-3.05zM78.00 75.66h6.05v3.06h-6.05zM93.00 75.66h3.05v3.06h-3.05zM99.00 75.66h3.05v3.06h-3.05zM126.00 75.66h3.05v3.06h-3.05zM147.00 75.66h3.05v3.06h-3.05zM57.00 78.68h6.05v3.06h-6.05zM87.00 78.68h3.05v3.06h-3.05zM99.00 78.68h3.05v3.06h-3.05zM117.00 78.68h6.05v3.06h-6.05zM126.00 78.68h3.05v3.06h-3.05zM57.00 81.69h3.05v3.06h-3.05zM99.00 81.69h3.05v3.06h-3.05zM123.00 81.69h6.05v3.06h-6.05zM54.00 84.70h3.05v3.06h-3.05zM66.00 84.70h6.05v3.06h-6.05zM84.00 84.70h3.05v3.06h-3.05zM102.00 84.70h3.05v3.06h-3.05zM132.00 84.70h6.05v3.06h-6.05zM141.00 84.70h3.05v3.06h-3.05zM60.00 87.71h6.05v3.06h-6.05zM84.00 87.71h3.05v3.06h-3.05zM120.00 87.71h3.05v3.06h-3.05zM138.00 87.71h9.05v3.06h-9.05zM90.00 90.72h3.05v3.06h-3.05zM117.00 90.72h3.05v3.06h-3.05zM135.00 90.72h3.05v3.06h-3.05zM75.00 93.74h3.05v3.06h-3.05zM90.00 93.74h3.05v3.06h-3.05zM99.00 93.74h3.05v3.06h-3.05zM105.00 93.74h6.05v3.06h-6.05zM123.00 93.74h3.05v3.06h-3.05zM138.00 93.74h3.05v3.06h-3.05zM60.00 96.75h3.05v3.06h-3.05zM69.00 99.76h3.05v3.06h-3.05zM99.00 99.76h6.05v3.06h-6.05zM111.00 99.76h3.05v3.06h-3.05zM63.00 102.78h3.05v3.06h-3.05zM111.00 102.78h3.05v3.06h-3.05zM135.00 132.90h3.05v3.06h-3.05zM96.00 135.91h6.05v3.06h-6.05zM108.00 135.91h3.05v3.06h-3.05zM126.00 135.91h3.05v3.06h-3.05zM102.00 141.94h3.05v3.06h-3.05zM111.00 141.94h3.05v3.06h-3.05zM87.00 144.95h3.05v3.06h-3.05zM129.00 144.95h3.05v3.06h-3.05zM138.00 144.95h3.05v3.06h-3.05zM54.00 147.96h3.05v3.06h-3.05zM69.00 147.96h3.05v3.06h-3.05zM144.00 147.96h6.05v3.06h-6.05zM81.00 150.98h3.05v3.06h-3.05zM129.00 150.98h3.05v3.06h-3.05zM144.00 150.98h3.05v3.06h-3.05zM108.00 153.99h3.05v3.06h-3.05zM132.00 153.99h3.05v3.06h-3.05zM138.00 153.99h6.05v3.06h-6.05z"/>
<path fill="#15c573" d="M90.00 36.50h6.05v3.06h-6.05zM90.00 39.51h3.05v3.06h-3.05zM99.00 39.51h6.05v3.06h-6.05zM111.00 39.51h3.05v3.06h-3.05zM60.00 42.52h9.05v3.06h-9.05zM72.00 42.52h6.05v3.06h-6.05zM63.00 45.54h6.05v3.06h-6.05zM72.00 45.54h3.05v3.06h-3.05zM132.00 45.54h3.05v3.06h-3.05zM66.00 48.55h3.05v3.06h-3.05zM147.00 57.59h3.05v3.06h-3.05zM123.00 60.60h3.05v3.06h-3.05zM54.00 63.61h6.05v3.06h-6.05zM123.00 63.61h3.05v3.06h-3.05zM57.00 66.62h3.05v3.06h-3.05zM108.00 66.62h3.05v3.06h-3.05zM114.00 66.62h9.05v3.06h-9.05zM60.00 69.64h3.05v3.06h-3.05zM87.00 69.64h3.05v3.06h-3.05zM93.00 69.64h3.05v3.06h-3.05zM111.00 69.64h3.05v3.06h-3.05zM120.00 69.64h18.05v3.06h-18.05zM141.00 69.64h3.05v3.06h-3.05zM57.00 72.65h12.05v3.06h-12.05zM87.00 72.65h12.05v3.06h-12.05zM123.00 72.65h3.05v3.06h-3.05zM132.00 72.65h3.05v3.06h-3.05zM141.00 72.65h3.05v3.06h-3.05zM60.00 75.66h3.05v3.06h-3.05zM90.00 75.66h3.05v3.06h-3.05zM96.00 75.66h3.05v3.06h-3.05zM120.00 75.66h3.05v3.06h-3.05zM63.00 78.68h3.05v3.06h-3.05zM93.00 78.68h6.05v3.06h-6.05zM66.00 81.69h9.05v3.06h-9.05zM93.00 81.69h6.05v3.06h-6.05zM132.00 81.69h3.05v3.06h-3.05zM57.00 84.70h6.05v3.06h-6.05zM72.00 84.70h3.05v3.06h-3.05zM90.00 84.70h3.05v3.06h-3.05zM96.00 84.70h6.05v3.06h-6.05zM69.00 87.71h3.05v3.06h-3.05zM81.00 87.71h3.05v3.06h-3.05zM87.00 87.71h6.05v3.06h-6.05zM96.00 87.71h3.05v3.06h-3.05zM108.00 87.71h3.05v3.06h-3.05zM132.00 87.71h3.05v3.06h-3.05zM57.00 90.72h3.05v3.06h-3.05zM84.00 90.72h3.05v3.06h-3.05zM99.00 90.72h3.05v3.06h-3.05zM63.00 93.74h6.05v3.06h-6.05zM78.00 93.74h3.05v3.06h-3.05zM84.00 93.74h3.05v3.06h-3.05zM102.00 93.74h3.05v3.06h-3.05zM54.00 96.75h3.05v3.06h-3.05zM69.00 96.75h3.05v3.06h-3.05zM84.00 96.75h3.05v3.06h-3.05zM90.00 96.75h3.05v3.06h-3.05zM105.00 96.75h6.05v3.06h-6.05zM54.00 99.76h3.05v3.06h-3.05zM84.00 99.76h3.05v3.06h-3.05zM108.00 99.76h3.05v3.06h-3.05zM66.00 102.78h6.05v3.06h-6.05zM75.00 102.78h3.05v3.06h-3.05zM108.00 102.78h3.05v3.06h-3.05zM117.00 102.78h9.05v3.06h-9.05zM78.00 135.91h3.05v3.06h-3.05zM102.00 135.91h3.05v3.06h-3.05zM114.00 135.91h3.05v3.06h-3.05zM69.00 138.93h3.05v3.06h-3.05zM75.00 138.93h3.05v3.06h-3.05zM96.00 138.93h6.05v3.06h-6.05zM108.00 138.93h3.05v3.06h-3.05zM63.00 144.95h3.05v3.06h-3.05zM84.00 144.95h3.05v3.06h-3.05zM93.00 144.95h3.05v3.06h-3.05zM126.00 144.95h3.05v3.06h-3.05zM132.00 144.95h3.05v3.06h-3.05zM75.00 147.96h3.05v3.06h-3.05zM114.00 147.96h3.05v3.06h-3.05zM138.00 147.96h3.05v3.06h-3.05zM66.00 150.98h3.05v3.06h-3.05zM78.00 150.98h3.05v3.06h-3.05zM96.00 150.98h3.05v3.06h-3.05zM111.00 150.98h6.05v3.06h-6.05zM75.00 153.99h3.05v3.06h-3.05zM105.00 153.99h3.05v3.06h-3.05zM114.00 153.99h6.05v3.06h-6.05zM126.00 153.99h3.05v3.06h-3.05z"/>
<path fill="#34cc5c" d="M69.00 42.52h3.05v3.06h-3.05zM78.00 42.52h3.05v3.06h-3.05zM69.00 45.54h3.05v3.06h-3.05zM63.00 48.55h3.05v3.06h-3.05zM69.00 48.55h3.05v3.06h-3.05zM84.00 54.58h3.05v3.06h-3.05zM117.00 63.61h3.05v3.06h-3.05zM111.00 66.62h3.05v3.06h-3.05zM57.00 69.64h3.05v3.06h-3.05zM114.00 69.64h3.05v3.06h-3.05zM99.00 72.65h3.05v3.06h-3.05zM54.00 75.66h3.05v3.06h-3.05zM87.00 75.66h3.05v3.06h-3.05zM66.00 78.68h6.05v3.06h-6.05zM90.00 78.68h3.05v3.06h-3.05zM60.00 81.69h6.05v3.06h-6.05zM63.00 84.70h3.05v3.06h-3.05zM87.00 84.70h3.05v3.06h-3.05zM93.00 84.70h3.05v3.06h-3.05zM93.00 87.71h3.05v3.06h-3.05zM93.00 90.72h3.05v3.06h-3.05zM105.00 90.72h3.05v3.06h-3.05zM111.00 90.72h3.05v3.06h-3.05zM138.00 90.72h3.05v3.06h-3.05zM147.00 90.72h3.05v3.06h-3.05zM57.00 93.74h6.05v3.06h-6.05zM111.00 93.74h6.05v3.06h-6.05zM129.00 93.74h6.05v3.06h-6.05zM57.00 96.75h3.05v3.06h-3.05zM63.00 96.75h6.05v3.06h-6.05zM102.00 96.75h3.05v3.06h-3.05zM111.00 96.75h3.05v3.06h-3.05zM129.00 96.75h6.05v3.06h-6.05zM63.00 99.76h6.05v3.06h-6.05zM72.00 99.76h3.05v3.06h-3.05zM78.00 99.76h6.05v3.06h-6.05zM132.00 99.76h3.05v3.06h-3.05zM138.00 99.76h3.05v3.06h-3.05zM132.00 102.78h3.05v3.06h-3.05zM138.00 102.78h3.05v3.06h-3.05zM114.00 129.89h3.05v3.06h-3.05zM141.00 129.89h3.05v3.06h-3.05zM84.00 132.90h3.05v3.06h-3.05zM90.00 132.90h3.05v3.06h-3.05zM84.00 135.91h3.05v3.06h-3.05zM93.00 135.91h3.05v3.06h-3.05zM129.00 135.91h3.05v3.06h-3.05zM135.00 135.91h3.05v3.06h-3.05zM72.00 138.93h3.05v3.06h-3.05zM84.00 138.93h3.05v3.06h-3.05zM105.00 138.93h3.05v3.06h-3.05zM141.00 138.93h3.05v3.06h-3.05zM66.00 141.94h3.05v3.06h-3.05zM90.00 141.94h3.05v3.06h-3.05zM96.00 141.94h3.05v3.06h-3.05zM114.00 141.94h3.05v3.06h-3.05zM54.00 144.95h3.05v3.06h-3.05zM60.00 144.95h3.05v3.06h-3.05zM69.00 144.95h6.05v3.06h-6.05zM123.00 144.95h3.05v3.06h-3.05zM141.00 144.95h3.05v3.06h-3.05zM111.00 147.96h3.05v3.06h-3.05zM135.00 147.96h3.05v3.06h-3.05zM72.00 150.98h6.05v3.06h-6.05zM99.00 150.98h3.05v3.06h-3.05zM120.00 150.98h3.05v3.06h-3.05zM147.00 150.98h3.05v3.06h-3.05zM78.00 153.99h3.05v3.06h-3.05zM102.00 153.99h3.05v3.06h-3.05zM111.00 153.99h3.05v3.06h-3.05zM120.00 153.99h6.05v3.06h-6.05z"/>
<path fill="#81d13b" d="M99.00 87.71h9.05v3.06h-9.05zM63.00 90.72h9.05v3.06h-9.05zM102.00 90.72h3.05v3.06h-3.05zM108.00 90.72h3.05v3.06h-3.05zM141.00 90.72h3.05v3.06h-3.05zM120.00 93.74h3.05v3.06h-3.05zM126.00 93.74h3.05v3.06h-3.05zM135.00 93.74h3.05v3.06h-3.05zM93.00 96.75h9.05v3.06h-9.05zM123.00 96.75h3.05v3.06h-3.05zM135.00 96.75h3.05v3.06h-3.05zM141.00 96.75h3.05v3.06h-3.05zM60.00 99.76h3.05v3.06h-3.05zM75.00 99.76h3.05v3.06h-3.05zM126.00 99.76h3.05v3.06h-3.05zM135.00 99.76h3.05v3.06h-3.05zM54.00 102.78h3.05v3.06h-3.05zM60.00 102.78h3.05v3.06h-3.05zM78.00 102.78h3.05v3.06h-3.05zM105.00 102.78h3.05v3.06h-3.05zM114.00 102.78h3.05v3.06h-3.05zM126.00 102.78h3.05v3.06h-3.05zM135.00 102.78h3.05v3.06h-3.05zM141.00 102.78h3.05v3.06h-3.05zM138.00 126.88h6.05v3.06h-6.05zM60.00 129.89h3.05v3.06h-3.05zM123.00 129.89h3.05v3.06h-3.05zM129.00 129.89h3.05v3.06h-3.05zM135.00 129.89h3.05v3.06h-3.05zM144.00 129.89h3.05v3.06h-3.05zM81.00 132.90h3.05v3.06h-3.05zM129.00 132.90h6.05v3.06h-6.05zM138.00 132.90h3.05v3.06h-3.05zM57.00 135.91h3.05v3.06h-3.05zM81.00 135.91h3.05v3.06h-3.05zM111.00 135.91h3.05v3.06h-3.05zM117.00 135.91h3.05v3.06h-3.05zM132.00 135.91h3.05v3.06h-3.05zM90.00 138.93h3.05v3.06h-3.05zM111.00 138.93h3.05v3.06h-3.05zM135.00 138.93h6.05v3.06h-6.05zM144.00 138.93h3.05v3.06h-3.05zM60.00 141.94h3.05v3.06h-3.05zM99.00 141.94h3.05v3.06h-3.05zM108.00 141.94h3.05v3.06h-3.05zM117.00 141.94h6.05v3.06h-6.05zM129.00 141.94h9.05v3.06h-9.05zM144.00 141.94h3.05v3.06h-3.05zM66.00 144.95h3.05v3.06h-3.05zM75.00 144.95h3.05v3.06h-3.05zM96.00 144.95h9.05v3.06h-9.05zM120.00 144.95h3.05v3.06h-3.05zM147.00 144.95h3.05v3.06h-3.05zM72.00 147.96h3.05v3.06h-3.05zM108.00 147.96h3.05v3.06h-3.05zM132.00 147.96h3.05v3.06h-3.05zM141.00 147.96h3.05v3.06h-3.05zM54.00 150.98h3.05v3.06h-3.05zM81.00 153.99h3.05v3.06h-3.05z"/>
<path fill="#9bcf28" d="M144.00 90.72h3.05v3.06h-3.05zM87.00 93.74h3.05v3.06h-3.05zM117.00 93.74h3.05v3.06h-3.05zM87.00 96.75h3.05v3.06h-3.05zM114.00 96.75h3.05v3.06h-3.05zM126.00 96.75h3.05v3.06h-3.05zM123.00 99.76h3.05v3.06h-3.05zM129.00 99.76h3.05v3.06h-3.05zM144.00 99.76h3.05v3.06h-3.05zM99.00 102.78h3.05v3.06h-3.05zM147.00 114.83h3.05v3.06h-3.05zM123.00 117.84h3.05v3.06h-3.05zM132.00 117.84h3.05v3.06h-3.05zM93.00 120.85h3.05v3.06h-3.05zM129.00 123.86h3.05v3.06h-3.05zM81.00 126.88h3.05v3.06h-3.05zM87.00 126.88h3.05v3.06h-3.05zM96.00 126.88h3.05v3.06h-3.05zM105.00 126.88h3.05v3.06h-3.05zM132.00 126.88h3.05v3.06h-3.05zM105.00 129.89h3.05v3.06h-3.05zM117.00 129.89h3.05v3.06h-3.05zM147.00 129.89h3.05v3.06h-3.05zM57.00 132.90h3.05v3.06h-3.05zM66.00 132.90h3.05v3.06h-3.05zM93.00 132.90h3.05v3.06h-3.05zM111.00 132.90h3.05v3.06h-3.05zM66.00 135.91h3.05v3.06h-3.05zM75.00 135.91h3.05v3.06h-3.05zM87.00 135.91h3.05v3.06h-3.05zM66.00 138.93h3.05v3.06h-3.05zM78.00 138.93h3.05v3.06h-3.05zM87.00 138.93h3.05v3.06h-3.05zM126.00 138.93h3.05v3.06h-3.05zM63.00 141.94h3.05v3.06h-3.05zM75.00 141.94h3.05v3.06h-3.05zM93.00 141.94h3.05v3.06h-3.05zM123.00 141.94h3.05v3.06h-3.05zM57.00 144.95h3.05v3.06h-3.05zM117.00 147.96h3.05v3.06h-3.05zM126.00 147.96h6.05v3.06h-6.05zM102.00 150.98h3.05v3.06h-3.05zM117.00 150.98h3.05v3.06h-3.05zM123.00 150.98h3.05v3.06h-3.05zM84.00 153.99h3.05v3.06h-3.05zM93.00 153.99h3.05v3.06h-3.05z"/>
<path fill="#b4cb18" d="M120.00 96.75h3.05v3.06h-3.05zM138.00 96.75h3.05v3.06h-3.05zM144.00 96.75h3.05v3.06h-3.05zM57.00 99.76h3.05v3.06h-3.05zM87.00 99.76h3.05v3.06h-3.05zM114.00 99.76h6.05v3.06h-6.05zM147.00 99.76h3.05v3.06h-3.05zM87.00 102.78h3.05v3.06h-3.05zM93.00 102.78h3.05v3.06h-3.05zM144.00 102.78h6.05v3.06h-6.05zM141.00 114.83h3.05v3.06h-3.05zM135.00 117.84h3.05v3.06h-3.05zM81.00 120.85h6.05v3.06h-6.05zM72.00 123.86h3.05v3.06h-3.05zM123.00 123.86h6.05v3.06h-6.05zM132.00 123.86h3.05v3.06h-3.05zM84.00 126.88h3.05v3.06h-3.05zM90.00 126.88h6.05v3.06h-6.05zM102.00 126.88h3.05v3.06h-3.05zM144.00 126.88h6.05v3.06h-6.05zM63.00 129.89h3.05v3.06h-3.05zM96.00 129.89h3.05v3.06h-3.05zM111.00 129.89h3.05v3.06h-3.05zM120.00 129.89h3.05v3.06h-3.05zM138.00 129.89h3.05v3.06h-3.05zM60.00 132.90h6.05v3.06h-6.05zM87.00 132.90h3.05v3.06h-3.05zM114.00 132.90h3.05v3.06h-3.05zM141.00 132.90h3.05v3.06h-3.05zM72.00 135.91h3.05v3.06h-3.05zM90.00 135.91h3.05v3.06h-3.05zM144.00 135.91h3.05v3.06h-3.05zM54.00 138.93h3.05v3.06h-3.05zM81.00 138.93h3.05v3.06h-3.05zM120.00 138.93h3.05v3.06h-3.05zM132.00 138.93h3.05v3.06h-3.05zM69.00 141.94h6.05v3.06h-6.05zM84.00 141.94h3.05v3.06h-3.05zM141.00 141.94h3.05v3.06h-3.05zM78.00 144.95h3.05v3.06h-3.05zM105.00 144.95h3.05v3.06h-3.05zM111.00 144.95h3.05v3.06h-3.05zM117.00 144.95h3.05v3.06h-3.05zM135.00 144.95h3.05v3.06h-3.05zM144.00 144.95h3.05v3.06h-3.05zM123.00 147.96h3.05v3.06h-3.05zM105.00 150.98h6.05v3.06h-6.05zM99.00 153.99h3.05v3.06h-3.05z"/>
<path fill="#cbc70b" d="M96.00 90.72h3.05v3.06h-3.05zM117.00 96.75h3.05v3.06h-3.05zM141.00 99.76h3.05v3.06h-3.05zM81.00 102.78h6.05v3.06h-6.05zM96.00 102.78h3.05v3.06h-3.05zM102.00 102.78h3.05v3.06h-3.05zM129.00 102.78h3.05v3.06h-3.05zM63.00 105.79h3.05v3.06h-3.05zM129.00 114.83h3.05v3.06h-3.05zM144.00 114.83h3.05v3.06h-3.05zM60.00 120.85h3.05v3.06h-3.05zM87.00 120.85h3.05v3.06h-3.05zM147.00 120.85h3.05v3.06h-3.05zM63.00 123.86h6.05v3.06h-6.05zM102.00 123.86h3.05v3.06h-3.05zM75.00 126.88h6.05v3.06h-6.05zM129.00 126.88h3.05v3.06h-3.05zM135.00 126.88h3.05v3.06h-3.05zM69.00 129.89h3.05v3.06h-3.05zM99.00 129.89h6.05v3.06h-6.05zM108.00 129.89h3.05v3.06h-3.05zM126.00 129.89h3.05v3.06h-3.05zM132.00 129.89h3.05v3.06h-3.05zM54.00 132.90h3.05v3.06h-3.05zM78.00 132.90h3.05v3.06h-3.05zM96.00 132.90h6.05v3.06h-6.05zM105.00 132.90h3.05v3.06h-3.05zM117.00 132.90h3.05v3.06h-3.05zM126.00 132.90h3.05v3.06h-3.05zM144.00 132.90h6.05v3.06h-6.05zM60.00 135.91h3.05v3.06h-3.05zM138.00 135.91h6.05v3.06h-6.05zM57.00 138.93h3.05v3.06h-3.05zM63.00 138.93h3.05v3.06h-3.05zM114.00 138.93h3.05v3.06h-3.05zM123.00 138.93h3.05v3.06h-3.05zM129.00 138.93h3.05v3.06h-3.05zM54.00 141.94h3.05v3.06h-3.05zM126.00 141.94h3.05v3.06h-3.05zM108.00 144.95h3.05v3.06h-3.05zM78.00 147.96h3.05v3.06h-3.05zM105.00 147.96h3.05v3.06h-3.05zM120.00 147.96h3.05v3.06h-3.05zM87.00 153.99h3.05v3.06h-3.05zM96.00 153.99h3.05v3.06h-3.05z"/>
<path fill="#ddbf05" d="M147.00 96.75h3.05v3.06h-3.05zM120.00 99.76h3.05v3.06h-3.05zM90.00 102.78h3.05v3.06h-3.05zM57.00 105.79h3.05v3.06h-3.05zM66.00 105.79h3.05v3.06h-3.05zM72.00 105.79h3.05v3.06h-3.05zM96.00 105.79h9.05v3.06h-9.05zM132.00 108.80h3.05v3.06h-3.05zM141.00 108.80h3.05v3.06h-3.05zM135.00 114.83h6.05v3.06h-6.05zM96.00 117.84h3.05v3.06h-3.05zM126.00 117.84h6.05v3.06h-6.05zM141.00 117.84h3.05v3.06h-3.05zM90.00 120.85h3.05v3.06h-3.05zM96.00 120.85h3.05v3.06h-3.05zM60.00 123.86h3.05v3.06h-3.05zM57.00 126.88h6.05v3.06h-6.05zM72.00 126.88h3.05v3.06h-3.05zM123.00 126.88h6.05v3.06h-6.05zM54.00 129.89h3.05v3.06h-3.05zM78.00 129.89h6.05v3.06h-6.05zM87.00 129.89h3.05v3.06h-3.05zM93.00 129.89h3.05v3.06h-3.05zM120.00 132.90h3.05v3.06h-3.05zM54.00 135.91h3.05v3.06h-3.05zM60.00 138.93h3.05v3.06h-3.05zM117.00 138.93h3.05v3.06h-3.05zM147.00 138.93h3.05v3.06h-3.05zM57.00 141.94h3.05v3.06h-3.05zM78.00 141.94h3.05v3.06h-3.05zM138.00 141.94h3.05v3.06h-3.05zM114.00 144.95h3.05v3.06h-3.05zM84.00 147.96h6.05v3.06h-6.05zM96.00 147.96h3.05v3.06h-3.05zM102.00 147.96h3.05v3.06h-3.05z"/>
<path fill="#ecb808" d="M54.00 105.79h3.05v3.06h-3.05zM75.00 105.79h9.05v3.06h-9.05zM60.00 108.80h3.05v3.06h-3.05zM138.00 108.80h3.05v3.06h-3.05zM54.00 117.84h3.05v3.06h-3.05zM117.00 117.84h3.05v3.06h-3.05zM54.00 120.85h6.05v3.06h-6.05zM114.00 120.85h6.05v3.06h-6.05zM135.00 120.85h6.05v3.06h-6.05zM144.00 120.85h3.05v3.06h-3.05zM54.00 123.86h3.05v3.06h-3.05zM69.00 123.86h3.05v3.06h-3.05zM105.00 123.86h3.05v3.06h-3.05zM63.00 126.88h3.05v3.06h-3.05zM108.00 126.88h3.05v3.06h-3.05zM114.00 126.88h3.05v3.06h-3.05zM57.00 129.89h3.05v3.06h-3.05zM66.00 129.89h3.05v3.06h-3.05zM72.00 129.89h3.05v3.06h-3.05zM69.00 132.90h3.05v3.06h-3.05zM75.00 132.90h3.05v3.06h-3.05zM108.00 132.90h3.05v3.06h-3.05zM63.00 135.91h3.05v3.06h-3.05zM69.00 135.91h3.05v3.06h-3.05zM147.00 135.91h3.05v3.06h-3.05zM81.00 141.94h3.05v3.06h-3.05zM87.00 141.94h3.05v3.06h-3.05zM147.00 141.94h3.05v3.06h-3.05zM90.00 147.96h6.05v3.06h-6.05z"/>
<path fill="#fab414" d="M60.00 105.79h3.05v3.06h-3.05zM69.00 105.79h3.05v3.06h-3.05zM84.00 105.79h3.05v3.06h-3.05zM93.00 105.79h3.05v3.06h-3.05zM105.00 105.79h3.05v3.06h-3.05zM111.00 105.79h3.05v3.06h-3.05zM63.00 108.80h6.05v3.06h-6.05zM123.00 111.81h3.05v3.06h-3.05zM54.00 114.83h3.05v3.06h-3.05zM102.00 114.83h6.05v3.06h-6.05zM126.00 114.83h3.05v3.06h-3.05zM132.00 114.83h3.05v3.06h-3.05zM102.00 117.84h6.05v3.06h-6.05zM114.00 117.84h3.05v3.06h-3.05zM144.00 117.84h6.05v3.06h-6.05zM72.00 120.85h3.05v3.06h-3.05zM78.00 120.85h3.05v3.06h-3.05zM132.00 120.85h3.05v3.06h-3.05zM57.00 123.86h3.05v3.06h-3.05zM99.00 123.86h3.05v3.06h-3.05zM120.00 123.86h3.05v3.06h-3.05zM135.00 123.86h3.05v3.06h-3.05zM141.00 123.86h3.05v3.06h-3.05zM147.00 123.86h3.05v3.06h-3.05zM99.00 126.88h3.05v3.06h-3.05zM120.00 126.88h3.05v3.06h-3.05zM75.00 129.89h3.05v3.06h-3.05zM72.00 132.90h3.05v3.06h-3.05zM123.00 132.90h3.05v3.06h-3.05zM81.00 147.96h3.05v3.06h-3.05zM99.00 147.96h3.05v3.06h-3.05zM90.00 153.99h3.05v3.06h-3.05z"/>
<path fill="#ffb216" d="M87.00 105.79h3.05v3.06h-3.05zM108.00 105.79h3.05v3.06h-3.05zM117.00 105.79h6.05v3.06h-6.05zM54.00 108.80h3.05v3.06h-3.05zM60.00 114.83h3.05v3.06h-3.05zM108.00 114.83h6.05v3.06h-6.05zM90.00 117.84h3.05v3.06h-3.05zM99.00 117.84h3.05v3.06h-3.05zM120.00 117.84h3.05v3.06h-3.05zM138.00 117.84h3.05v3.06h-3.05zM75.00 120.85h3.05v3.06h-3.05zM99.00 120.85h6.05v3.06h-6.05zM123.00 120.85h6.05v3.06h-6.05zM78.00 123.86h6.05v3.06h-6.05zM108.00 123.86h3.05v3.06h-3.05zM117.00 123.86h3.05v3.06h-3.05zM138.00 123.86h3.05v3.06h-3.05zM144.00 123.86h3.05v3.06h-3.05zM54.00 126.88h3.05v3.06h-3.05zM69.00 126.88h3.05v3.06h-3.05zM84.00 129.89h3.05v3.06h-3.05zM90.00 129.89h3.05v3.06h-3.05zM102.00 132.90h3.05v3.06h-3.05z"/>
<path fill="#ffba0f" d="M90.00 105.79h3.05v3.06h-3.05zM114.00 105.79h3.05v3.06h-3.05zM123.00 105.79h3.05v3.06h-3.05zM57.00 108.80h3.05v3.06h-3.05zM123.00 108.80h3.05v3.06h-3.05zM129.00 108.80h3.05v3.06h-3.05zM135.00 108.80h3.05v3.06h-3.05zM102.00 111.81h3.05v3.06h-3.05zM63.00 114.83h3.05v3.06h-3.05zM69.00 114.83h3.05v3.06h-3.05zM96.00 114.83h6.05v3.06h-6.05zM57.00 117.84h6.05v3.06h-6.05zM84.00 117.84h6.05v3.06h-6.05zM93.00 117.84h3.05v3.06h-3.05zM63.00 120.85h3.05v3.06h-3.05zM69.00 120.85h3.05v3.06h-3.05zM120.00 120.85h3.05v3.06h-3.05zM129.00 120.85h3.05v3.06h-3.05zM141.00 120.85h3.05v3.06h-3.05zM75.00 123.86h3.05v3.06h-3.05zM96.00 123.86h3.05v3.06h-3.05zM111.00 123.86h3.05v3.06h-3.05zM66.00 126.88h3.05v3.06h-3.05zM111.00 126.88h3.05v3.06h-3.05z"/>
<path fill="#ffc608" d="M126.00 105.79h3.05v3.06h-3.05zM132.00 105.79h3.05v3.06h-3.05zM69.00 108.80h3.05v3.06h-3.05zM93.00 108.80h3.05v3.06h-3.05zM99.00 108.80h3.05v3.06h-3.05zM69.00 111.81h3.05v3.06h-3.05zM84.00 111.81h3.05v3.06h-3.05zM96.00 111.81h6.05v3.06h-6.05zM105.00 111.81h3.05v3.06h-3.05zM111.00 111.81h3.05v3.06h-3.05zM57.00 114.83h3.05v3.06h-3.05zM81.00 114.83h3.05v3.06h-3.05zM90.00 114.83h3.05v3.06h-3.05zM69.00 117.84h6.05v3.06h-6.05zM108.00 117.84h6.05v3.06h-6.05zM105.00 120.85h3.05v3.06h-3.05zM111.00 120.85h3.05v3.06h-3.05zM90.00 123.86h3.05v3.06h-3.05zM114.00 123.86h3.05v3.06h-3.05zM117.00 126.88h3.05v3.06h-3.05z"/>
<path fill="#ffd504" d="M129.00 105.79h3.05v3.06h-3.05zM96.00 108.80h3.05v3.06h-3.05zM102.00 108.80h6.05v3.06h-6.05zM117.00 108.80h6.05v3.06h-6.05zM126.00 108.80h3.05v3.06h-3.05zM144.00 108.80h3.05v3.06h-3.05zM75.00 111.81h3.05v3.06h-3.05zM90.00 111.81h6.05v3.06h-6.05zM126.00 111.81h3.05v3.06h-3.05zM66.00 114.83h3.05v3.06h-3.05zM72.00 114.83h3.05v3.06h-3.05zM84.00 114.83h3.05v3.06h-3.05zM93.00 114.83h3.05v3.06h-3.05zM117.00 114.83h3.05v3.06h-3.05zM63.00 117.84h3.05v3.06h-3.05zM75.00 117.84h3.05v3.06h-3.05zM81.00 117.84h3.05v3.06h-3.05zM66.00 120.85h3.05v3.06h-3.05zM108.00 120.85h3.05v3.06h-3.05z"/>
<path fill="#fde300" d="M135.00 105.79h3.05v3.06h-3.05zM144.00 105.79h3.05v3.06h-3.05zM72.00 108.80h3.05v3.06h-3.05zM90.00 108.80h3.05v3.06h-3.05zM78.00 111.81h3.05v3.06h-3.05zM87.00 111.81h3.05v3.06h-3.05zM117.00 111.81h6.05v3.06h-6.05zM141.00 111.81h6.05v3.06h-6.05zM87.00 114.83h3.05v3.06h-3.05zM114.00 114.83h3.05v3.06h-3.05zM66.00 117.84h3.05v3.06h-3.05zM78.00 117.84h3.05v3.06h-3.05zM84.00 123.86h6.05v3.06h-6.05zM93.00 123.86h3.05v3.06h-3.05z"/>
<path fill="#fcee00" d="M141.00 105.79h3.05v3.06h-3.05zM147.00 105.79h3.05v3.06h-3.05zM75.00 108.80h3.05v3.06h-3.05zM114.00 108.80h3.05v3.06h-3.05zM60.00 111.81h9.05v3.06h-9.05zM72.00 111.81h3.05v3.06h-3.05zM108.00 111.81h3.05v3.06h-3.05zM75.00 114.83h3.05v3.06h-3.05zM120.00 114.83h6.05v3.06h-6.05z"/>
<path fill="#fef900" d="M138.00 105.79h3.05v3.06h-3.05zM57.00 111.81h3.05v3.06h-3.05zM114.00 111.81h3.05v3.06h-3.05zM78.00 114.83h3.05v3.06h-3.05z"/>
<path fill="#fdff00" d="M111.00 108.80h3.05v3.06h-3.05zM147.00 108.80h3.05v3.06h-3.05zM81.00 111.81h3.05v3.06h-3.05zM138.00 111.81h3.05v3.06h-3.05zM147.00 111.81h3.05v3.06h-3.05z"/>
<path fill="#fdff00" d="M87.00 108.80h3.05v3.06h-3.05zM54.00 111.81h3.05v3.06h-3.05zM132.00 111.81h6.05v3.06h-6.05z"/>
<path fill="#fdff00" d="M81.00 108.80h6.05v3.06h-6.05zM129.00 111.81h3.05v3.06h-3.05z"/>
<path fill="#fdff00" d="M108.00 108.80h3.05v3.06h-3.05z"/>
<path fill="#fdff00" d="M78.00 108.80h3.05v3.06h-3.05z"/>
</g>
<g shape-rendering="crispEdges">
<path fill="#00b1de" d="M382.09 123.00h3.03v3.05h-3.03z"/>
<path fill="#00bfcc" d="M382.09 111.00h3.03v3.05h-3.03zM382.09 114.00h3.03v3.05h-3.03zM373.15 141.00h3.03v3.05h-3.03z"/>
<path fill="#00c3c2" d="M391.02 93.00h3.03v3.05h-3.03zM391.02 111.00h3.03v3.05h-3.03zM382.09 126.00h6.01v3.05h-6.01zM382.09 129.00h3.03v3.05h-3.03zM385.07 132.00h3.03v3.05h-3.03zM385.07 135.00h3.03v3.05h-3.03zM382.09 141.00h3.03v3.05h-3.03zM388.04 144.00h3.03v3.05h-3.03zM373.15 147.00h3.03v3.05h-3.03zM391.02 150.00h3.03v3.05h-3.03zM382.09 153.00h3.03v3.05h-3.03z"/>
<path fill="#02c6b5" d="M301.68 60.00h3.03v3.05h-3.03zM301.68 63.00h3.03v3.05h-3.03zM391.02 78.00h3.03v3.05h-3.03zM298.70 81.00h3.03v3.05h-3.03zM382.09 99.00h3.03v3.05h-3.03zM385.07 114.00h3.03v3.05h-3.03zM385.07 117.00h3.03v3.05h-3.03zM379.11 120.00h8.98v3.05h-8.98zM391.02 120.00h3.03v3.05h-3.03zM301.68 123.00h3.03v3.05h-3.03zM382.09 135.00h3.03v3.05h-3.03zM391.02 135.00h3.03v3.05h-3.03zM298.70 138.00h3.03v3.05h-3.03zM391.02 138.00h3.03v3.05h-3.03zM388.04 141.00h3.03v3.05h-3.03zM382.09 147.00h3.03v3.05h-3.03z"/>
<path fill="#0bc4a9" d="M298.70 36.00h3.03v3.05h-3.03zM307.63 42.00h3.03v3.05h-3.03zM391.02 45.00h3.03v3.05h-3.03zM385.07 60.00h3.03v3.05h-3.03zM391.02 60.00h3.03v3.05h-3.03zM391.02 84.00h3.03v3.05h-3.03zM391.02 105.00h3.03v3.05h-3.03zM385.07 111.00h3.03v3.05h-3.03zM301.68 117.00h3.03v3.05h-3.03zM298.70 126.00h6.01v3.05h-6.01zM298.70 129.00h6.01v3.05h-6.01zM298.70 132.00h3.03v3.05h-3.03zM382.09 132.00h3.03v3.05h-3.03zM307.63 135.00h3.03v3.05h-3.03zM388.04 135.00h3.03v3.05h-3.03zM382.09 138.00h3.03v3.05h-3.03zM382.09 144.00h3.03v3.05h-3.03zM298.70 147.00h3.03v3.05h-3.03zM391.02 147.00h3.03v3.05h-3.03zM373.15 150.00h3.03v3.05h-3.03zM382.09 150.00h3.03v3.05h-3.03z"/>
<path fill="#0fc19f" d="M382.09 36.00h3.03v3.05h-3.03zM391.02 36.00h3.03v3.05h-3.03zM382.09 39.00h3.03v3.05h-3.03zM376.13 42.00h3.03v3.05h-3.03zM376.13 45.00h3.03v3.05h-3.03zM385.07 48.00h6.01v3.05h-6.01zM373.15 51.00h3.03v3.05h-3.03zM391.02 51.00h3.03v3.05h-3.03zM310.61 54.00h3.03v3.05h-3.03zM310.61 60.00h3.03v3.05h-3.03zM385.07 63.00h3.03v3.05h-3.03zM298.70 72.00h3.03v3.05h-3.03zM385.07 72.00h3.03v3.05h-3.03zM298.70 75.00h3.03v3.05h-3.03zM385.07 75.00h3.03v3.05h-3.03zM298.70 78.00h3.03v3.05h-3.03zM307.63 81.00h3.03v3.05h-3.03zM391.02 81.00h3.03v3.05h-3.03zM382.09 93.00h3.03v3.05h-3.03zM301.68 96.00h6.01v3.05h-6.01zM379.11 96.00h3.03v3.05h-3.03zM379.11 102.00h3.03v3.05h-3.03zM304.66 108.00h6.01v3.05h-6.01zM385.07 108.00h3.03v3.05h-3.03zM307.63 111.00h3.03v3.05h-3.03zM376.13 111.00h3.03v3.05h-3.03zM388.04 111.00h3.03v3.05h-3.03zM307.63 114.00h3.03v3.05h-3.03zM388.04 114.00h3.03v3.05h-3.03zM379.11 117.00h6.01v3.05h-6.01zM388.04 117.00h6.01v3.05h-6.01zM304.66 120.00h3.03v3.05h-3.03zM361.24 120.00h3.03v3.05h-3.03zM379.11 123.00h3.03v3.05h-3.03zM385.07 123.00h6.01v3.05h-6.01zM388.04 126.00h3.03v3.05h-3.03zM370.17 129.00h3.03v3.05h-3.03zM379.11 129.00h3.03v3.05h-3.03zM385.07 129.00h3.03v3.05h-3.03zM391.02 129.00h3.03v3.05h-3.03zM304.66 132.00h3.03v3.05h-3.03zM376.13 132.00h3.03v3.05h-3.03zM388.04 132.00h3.03v3.05h-3.03zM298.70 135.00h3.03v3.05h-3.03zM379.11 135.00h3.03v3.05h-3.03zM301.68 138.00h3.03v3.05h-3.03zM385.07 138.00h3.03v3.05h-3.03zM385.07 141.00h3.03v3.05h-3.03zM373.15 144.00h3.03v3.05h-3.03zM391.02 144.00h3.03v3.05h-3.03zM388.04 150.00h3.03v3.05h-3.03z"/>
<path fill="#10c092" d="M370.17 36.00h3.03v3.05h-3.03zM373.15 39.00h3.03v3.05h-3.03zM301.68 42.00h3.03v3.05h-3.03zM364.22 42.00h3.03v3.05h-3.03zM379.11 42.00h6.01v3.05h-6.01zM382.09 45.00h3.03v3.05h-3.03zM304.66 51.00h3.03v3.05h-3.03zM376.13 57.00h3.03v3.05h-3.03zM391.02 57.00h3.03v3.05h-3.03zM304.66 63.00h3.03v3.05h-3.03zM376.13 63.00h3.03v3.05h-3.03zM301.68 66.00h3.03v3.05h-3.03zM385.07 66.00h3.03v3.05h-3.03zM301.68 69.00h3.03v3.05h-3.03zM385.07 69.00h3.03v3.05h-3.03zM373.15 72.00h6.01v3.05h-6.01zM307.63 75.00h3.03v3.05h-3.03zM298.70 84.00h3.03v3.05h-3.03zM391.02 87.00h3.03v3.05h-3.03zM298.70 90.00h3.03v3.05h-3.03zM391.02 90.00h3.03v3.05h-3.03zM304.66 93.00h3.03v3.05h-3.03zM376.13 93.00h3.03v3.05h-3.03zM382.09 96.00h3.03v3.05h-3.03zM391.02 96.00h3.03v3.05h-3.03zM298.70 99.00h3.03v3.05h-3.03zM385.07 99.00h3.03v3.05h-3.03zM391.02 99.00h3.03v3.05h-3.03zM298.70 102.00h3.03v3.05h-3.03zM364.22 102.00h3.03v3.05h-3.03zM376.13 102.00h3.03v3.05h-3.03zM385.07 102.00h3.03v3.05h-3.03zM391.02 102.00h3.03v3.05h-3.03zM298.70 105.00h3.03v3.05h-3.03zM307.63 105.00h3.03v3.05h-3.03zM385.07 105.00h3.03v3.05h-3.03zM298.70 108.00h3.03v3.05h-3.03zM376.13 108.00h3.03v3.05h-3.03zM391.02 108.00h3.03v3.05h-3.03zM304.66 111.00h3.03v3.05h-3.03zM376.13 114.00h6.01v3.05h-6.01zM391.02 114.00h3.03v3.05h-3.03zM376.13 117.00h3.03v3.05h-3.03zM376.13 120.00h3.03v3.05h-3.03zM388.04 120.00h3.03v3.05h-3.03zM298.70 123.00h3.03v3.05h-3.03zM376.13 123.00h3.03v3.05h-3.03zM391.02 123.00h3.03v3.05h-3.03zM379.11 126.00h3.03v3.05h-3.03zM307.63 132.00h3.03v3.05h-3.03zM391.02 132.00h3.03v3.05h-3.03zM310.61 135.00h3.03v3.05h-3.03zM373.15 138.00h3.03v3.05h-3.03zM388.04 138.00h3.03v3.05h-3.03zM298.70 141.00h6.01v3.05h-6.01zM298.70 144.00h6.01v3.05h-6.01zM376.13 144.00h3.03v3.05h-3.03zM385.07 144.00h3.03v3.05h-3.03zM370.17 147.00h3.03v3.05h-3.03zM385.07 147.00h3.03v3.05h-3.03zM298.70 150.00h3.03v3.05h-3.03zM385.07 150.00h3.03v3.05h-3.03zM373.15 153.00h3.03v3.05h-3.03zM379.11 153.00h3.03v3.05h-3.03zM391.02 153.00h3.03v3.05h-3.03z"/>
<path fill="#11c383" d="M301.68 36.00h3.03v3.05h-3.03zM373.15 36.00h3.03v3.05h-3.03zM367.20 39.00h3.03v3.05h-3.03zM376.13 39.00h3.03v3.05h-3.03zM325.50 45.00h3.03v3.05h-3.03zM379.11 45.00h3.03v3.05h-3.03zM301.68 48.00h3.03v3.05h-3.03zM307.63 48.00h3.03v3.05h-3.03zM379.11 51.00h3.03v3.05h-3.03zM301.68 54.00h3.03v3.05h-3.03zM373.15 54.00h3.03v3.05h-3.03zM373.15 57.00h3.03v3.05h-3.03zM382.09 57.00h6.01v3.05h-6.01zM304.66 60.00h3.03v3.05h-3.03zM382.09 63.00h3.03v3.05h-3.03zM304.66 66.00h3.03v3.05h-3.03zM307.63 69.00h3.03v3.05h-3.03zM307.63 72.00h3.03v3.05h-3.03zM301.68 75.00h3.03v3.05h-3.03zM391.02 75.00h3.03v3.05h-3.03zM307.63 78.00h3.03v3.05h-3.03zM307.63 84.00h3.03v3.05h-3.03zM370.17 84.00h3.03v3.05h-3.03zM382.09 84.00h3.03v3.05h-3.03zM298.70 87.00h3.03v3.05h-3.03zM376.13 87.00h3.03v3.05h-3.03zM385.07 87.00h3.03v3.05h-3.03zM373.15 90.00h3.03v3.05h-3.03zM298.70 96.00h3.03v3.05h-3.03zM307.63 96.00h3.03v3.05h-3.03zM301.68 99.00h3.03v3.05h-3.03zM379.11 99.00h3.03v3.05h-3.03zM304.66 102.00h6.01v3.05h-6.01zM304.66 105.00h3.03v3.05h-3.03zM376.13 105.00h8.98v3.05h-8.98zM379.11 108.00h6.01v3.05h-6.01zM388.04 108.00h3.03v3.05h-3.03zM301.68 114.00h3.03v3.05h-3.03zM307.63 117.00h3.03v3.05h-3.03zM301.68 120.00h3.03v3.05h-3.03zM361.24 123.00h3.03v3.05h-3.03zM361.24 126.00h3.03v3.05h-3.03zM370.17 126.00h3.03v3.05h-3.03zM301.68 132.00h3.03v3.05h-3.03zM373.15 132.00h3.03v3.05h-3.03zM379.11 132.00h3.03v3.05h-3.03zM361.24 135.00h3.03v3.05h-3.03zM304.66 138.00h3.03v3.05h-3.03zM379.11 138.00h3.03v3.05h-3.03zM304.66 141.00h3.03v3.05h-3.03zM379.11 141.00h3.03v3.05h-3.03zM391.02 141.00h3.03v3.05h-3.03zM301.68 147.00h3.03v3.05h-3.03zM367.20 147.00h3.03v3.05h-3.03zM388.04 147.00h3.03v3.05h-3.03zM367.20 150.00h3.03v3.05h-3.03zM301.68 153.00h3.03v3.05h-3.03zM385.07 153.00h6.01v3.05h-6.01z"/>
<path fill="#15c573" d="M367.20 36.00h3.03v3.05h-3.03zM376.13 36.00h6.01v3.05h-6.01zM379.11 39.00h3.03v3.05h-3.03zM385.07 39.00h3.03v3.05h-3.03zM391.02 39.00h3.03v3.05h-3.03zM298.70 42.00h3.03v3.05h-3.03zM304.66 42.00h3.03v3.05h-3.03zM367.20 42.00h3.03v3.05h-3.03zM373.15 42.00h3.03v3.05h-3.03zM391.02 42.00h3.03v3.05h-3.03zM373.15 45.00h3.03v3.05h-3.03zM304.66 48.00h3.03v3.05h-3.03zM310.61 48.00h3.03v3.05h-3.03zM373.15 48.00h8.98v3.05h-8.98zM298.70 51.00h6.01v3.05h-6.01zM313.59 51.00h3.03v3.05h-3.03zM385.07 51.00h3.03v3.05h-3.03zM304.66 54.00h3.03v3.05h-3.03zM376.13 54.00h3.03v3.05h-3.03zM382.09 54.00h6.01v3.05h-6.01zM391.02 54.00h3.03v3.05h-3.03zM301.68 57.00h6.01v3.05h-6.01zM307.63 60.00h3.03v3.05h-3.03zM373.15 60.00h6.01v3.05h-6.01zM382.09 60.00h3.03v3.05h-3.03zM373.15 66.00h3.03v3.05h-3.03zM298.70 69.00h3.03v3.05h-3.03zM391.02 69.00h3.03v3.05h-3.03zM304.66 72.00h3.03v3.05h-3.03zM373.15 75.00h3.03v3.05h-3.03zM301.68 78.00h6.01v3.05h-6.01zM322.52 78.00h3.03v3.05h-3.03zM370.17 78.00h3.03v3.05h-3.03zM376.13 78.00h3.03v3.05h-3.03zM385.07 78.00h6.01v3.05h-6.01zM367.20 81.00h3.03v3.05h-3.03zM373.15 81.00h3.03v3.05h-3.03zM379.11 81.00h3.03v3.05h-3.03zM373.15 84.00h6.01v3.05h-6.01zM385.07 84.00h3.03v3.05h-3.03zM367.20 87.00h3.03v3.05h-3.03zM373.15 87.00h3.03v3.05h-3.03zM307.63 90.00h3.03v3.05h-3.03zM298.70 93.00h6.01v3.05h-6.01zM388.04 93.00h3.03v3.05h-3.03zM304.66 99.00h3.03v3.05h-3.03zM301.68 102.00h3.03v3.05h-3.03zM382.09 102.00h3.03v3.05h-3.03zM370.17 105.00h3.03v3.05h-3.03zM388.04 105.00h3.03v3.05h-3.03zM310.61 108.00h3.03v3.05h-3.03zM370.17 108.00h3.03v3.05h-3.03zM298.70 111.00h6.01v3.05h-6.01zM310.61 111.00h3.03v3.05h-3.03zM361.24 111.00h3.03v3.05h-3.03zM370.17 111.00h3.03v3.05h-3.03zM379.11 111.00h3.03v3.05h-3.03zM298.70 114.00h3.03v3.05h-3.03zM304.66 114.00h3.03v3.05h-3.03zM361.24 114.00h3.03v3.05h-3.03zM298.70 117.00h3.03v3.05h-3.03zM313.59 117.00h3.03v3.05h-3.03zM298.70 120.00h3.03v3.05h-3.03zM307.63 120.00h3.03v3.05h-3.03zM313.59 120.00h3.03v3.05h-3.03zM355.28 120.00h3.03v3.05h-3.03zM373.15 120.00h3.03v3.05h-3.03zM307.63 123.00h6.01v3.05h-6.01zM370.17 123.00h6.01v3.05h-6.01zM307.63 126.00h3.03v3.05h-3.03zM364.22 126.00h3.03v3.05h-3.03zM304.66 129.00h3.03v3.05h-3.03zM346.35 129.00h3.03v3.05h-3.03zM361.24 129.00h3.03v3.05h-3.03zM376.13 129.00h3.03v3.05h-3.03zM388.04 129.00h3.03v3.05h-3.03zM304.66 135.00h3.03v3.05h-3.03zM370.17 135.00h3.03v3.05h-3.03zM376.13 135.00h3.03v3.05h-3.03zM310.61 138.00h3.03v3.05h-3.03zM361.24 138.00h3.03v3.05h-3.03zM304.66 147.00h6.01v3.05h-6.01zM376.13 147.00h6.01v3.05h-6.01zM301.68 150.00h3.03v3.05h-3.03zM361.24 150.00h3.03v3.05h-3.03zM370.17 150.00h3.03v3.05h-3.03zM379.11 150.00h3.03v3.05h-3.03zM298.70 153.00h3.03v3.05h-3.03zM313.59 153.00h3.03v3.05h-3.03z"/>
<path fill="#34cc5c" d="M385.07 36.00h6.01v3.05h-6.01zM298.70 39.00h3.03v3.05h-3.03zM307.63 39.00h3.03v3.05h-3.03zM388.04 42.00h3.03v3.05h-3.03zM310.61 45.00h3.03v3.05h-3.03zM298.70 48.00h3.03v3.05h-3.03zM391.02 48.00h3.03v3.05h-3.03zM307.63 51.00h3.03v3.05h-3.03zM307.63 57.00h3.03v3.05h-3.03zM298.70 60.00h3.03v3.05h-3.03zM388.04 60.00h3.03v3.05h-3.03zM349.33 63.00h3.03v3.05h-3.03zM388.04 63.00h3.03v3.05h-3.03zM298.70 66.00h3.03v3.05h-3.03zM307.63 66.00h3.03v3.05h-3.03zM376.13 66.00h3.03v3.05h-3.03zM370.17 69.00h8.98v3.05h-8.98zM382.09 69.00h3.03v3.05h-3.03zM301.68 72.00h3.03v3.05h-3.03zM367.20 72.00h3.03v3.05h-3.03zM379.11 72.00h3.03v3.05h-3.03zM391.02 72.00h3.03v3.05h-3.03zM367.20 75.00h6.01v3.05h-6.01zM376.13 75.00h3.03v3.05h-3.03zM382.09 78.00h3.03v3.05h-3.03zM382.09 81.00h3.03v3.05h-3.03zM364.22 84.00h6.01v3.05h-6.01zM301.68 87.00h3.03v3.05h-3.03zM325.50 87.00h3.03v3.05h-3.03zM349.33 87.00h3.03v3.05h-3.03zM379.11 87.00h6.01v3.05h-6.01zM301.68 90.00h3.03v3.05h-3.03zM373.15 93.00h3.03v3.05h-3.03zM385.07 93.00h3.03v3.05h-3.03zM307.63 99.00h3.03v3.05h-3.03zM373.15 99.00h3.03v3.05h-3.03zM310.61 102.00h3.03v3.05h-3.03zM322.52 102.00h3.03v3.05h-3.03zM373.15 102.00h3.03v3.05h-3.03zM388.04 102.00h3.03v3.05h-3.03zM301.68 105.00h3.03v3.05h-3.03zM301.68 108.00h3.03v3.05h-3.03zM358.26 111.00h3.03v3.05h-3.03zM367.20 114.00h6.01v3.05h-6.01zM361.24 117.00h6.01v3.05h-6.01zM367.20 120.00h6.01v3.05h-6.01zM304.66 126.00h3.03v3.05h-3.03zM313.59 126.00h3.03v3.05h-3.03zM391.02 126.00h3.03v3.05h-3.03zM307.63 129.00h6.01v3.05h-6.01zM364.22 129.00h3.03v3.05h-3.03zM313.59 132.00h3.03v3.05h-3.03zM301.68 135.00h3.03v3.05h-3.03zM307.63 138.00h3.03v3.05h-3.03zM349.33 138.00h3.03v3.05h-3.03zM367.20 138.00h3.03v3.05h-3.03zM307.63 141.00h3.03v3.05h-3.03zM307.63 144.00h6.01v3.05h-6.01zM379.11 144.00h3.03v3.05h-3.03zM325.50 147.00h3.03v3.05h-3.03zM376.13 150.00h3.03v3.05h-3.03zM307.63 153.00h3.03v3.05h-3.03zM367.20 153.00h3.03v3.05h-3.03zM376.13 153.00h3.03v3.05h-3.03z"/>
<path fill="#81d13b" d="M304.66 36.00h3.03v3.05h-3.03zM334.44 36.00h3.03v3.05h-3.03zM301.68 39.00h3.03v3.05h-3.03zM298.70 45.00h3.03v3.05h-3.03zM304.66 45.00h6.01v3.05h-6.01zM376.13 51.00h3.03v3.05h-3.03zM382.09 51.00h3.03v3.05h-3.03zM298.70 54.00h3.03v3.05h-3.03zM298.70 57.00h3.03v3.05h-3.03zM388.04 57.00h3.03v3.05h-3.03zM346.35 60.00h3.03v3.05h-3.03zM298.70 63.00h3.03v3.05h-3.03zM307.63 63.00h3.03v3.05h-3.03zM373.15 63.00h3.03v3.05h-3.03zM391.02 63.00h3.03v3.05h-3.03zM382.09 66.00h3.03v3.05h-3.03zM391.02 66.00h3.03v3.05h-3.03zM304.66 69.00h3.03v3.05h-3.03zM322.52 69.00h3.03v3.05h-3.03zM388.04 69.00h3.03v3.05h-3.03zM388.04 75.00h3.03v3.05h-3.03zM373.15 78.00h3.03v3.05h-3.03zM379.11 78.00h3.03v3.05h-3.03zM376.13 81.00h3.03v3.05h-3.03zM385.07 81.00h3.03v3.05h-3.03zM304.66 90.00h3.03v3.05h-3.03zM367.20 90.00h6.01v3.05h-6.01zM376.13 90.00h3.03v3.05h-3.03zM385.07 90.00h3.03v3.05h-3.03zM364.22 93.00h3.03v3.05h-3.03zM370.17 96.00h3.03v3.05h-3.03zM376.13 96.00h3.03v3.05h-3.03zM385.07 96.00h3.03v3.05h-3.03zM310.61 99.00h3.03v3.05h-3.03zM376.13 99.00h3.03v3.05h-3.03zM367.20 102.00h3.03v3.05h-3.03zM310.61 105.00h3.03v3.05h-3.03zM313.59 108.00h3.03v3.05h-3.03zM313.59 111.00h3.03v3.05h-3.03zM328.48 111.00h3.03v3.05h-3.03zM367.20 111.00h3.03v3.05h-3.03zM310.61 114.00h3.03v3.05h-3.03zM373.15 114.00h3.03v3.05h-3.03zM310.61 117.00h3.03v3.05h-3.03zM367.20 117.00h8.98v3.05h-8.98zM364.22 120.00h3.03v3.05h-3.03zM304.66 123.00h3.03v3.05h-3.03zM358.26 123.00h3.03v3.05h-3.03zM364.22 123.00h3.03v3.05h-3.03zM373.15 126.00h3.03v3.05h-3.03zM349.33 129.00h3.03v3.05h-3.03zM358.26 129.00h3.03v3.05h-3.03zM373.15 129.00h3.03v3.05h-3.03zM310.61 132.00h3.03v3.05h-3.03zM361.24 132.00h3.03v3.05h-3.03zM367.20 132.00h6.01v3.05h-6.01zM364.22 135.00h3.03v3.05h-3.03zM373.15 135.00h3.03v3.05h-3.03zM376.13 138.00h3.03v3.05h-3.03zM367.20 141.00h6.01v3.05h-6.01zM376.13 141.00h3.03v3.05h-3.03zM304.66 144.00h3.03v3.05h-3.03zM346.35 144.00h3.03v3.05h-3.03zM370.17 144.00h3.03v3.05h-3.03zM310.61 147.00h3.03v3.05h-3.03zM361.24 147.00h3.03v3.05h-3.03zM304.66 150.00h6.01v3.05h-6.01zM370.17 153.00h3.03v3.05h-3.03z"/>
<path fill="#9bcf28" d="M310.61 36.00h3.03v3.05h-3.03zM304.66 39.00h3.03v3.05h-3.03zM310.61 39.00h3.03v3.05h-3.03zM370.17 39.00h3.03v3.05h-3.03zM370.17 42.00h3.03v3.05h-3.03zM301.68 45.00h3.03v3.05h-3.03zM313.59 45.00h3.03v3.05h-3.03zM367.20 45.00h6.01v3.05h-6.01zM388.04 45.00h3.03v3.05h-3.03zM382.09 48.00h3.03v3.05h-3.03zM310.61 51.00h3.03v3.05h-3.03zM364.22 51.00h3.03v3.05h-3.03zM379.11 54.00h3.03v3.05h-3.03zM388.04 54.00h3.03v3.05h-3.03zM316.57 57.00h3.03v3.05h-3.03zM322.52 57.00h3.03v3.05h-3.03zM370.17 57.00h3.03v3.05h-3.03zM316.57 60.00h3.03v3.05h-3.03zM349.33 60.00h3.03v3.05h-3.03zM310.61 63.00h3.03v3.05h-3.03zM367.20 66.00h3.03v3.05h-3.03zM379.11 66.00h3.03v3.05h-3.03zM388.04 66.00h3.03v3.05h-3.03zM319.55 69.00h3.03v3.05h-3.03zM367.20 69.00h3.03v3.05h-3.03zM379.11 69.00h3.03v3.05h-3.03zM331.46 72.00h3.03v3.05h-3.03zM370.17 72.00h3.03v3.05h-3.03zM382.09 72.00h3.03v3.05h-3.03zM388.04 72.00h3.03v3.05h-3.03zM304.66 75.00h3.03v3.05h-3.03zM310.61 75.00h3.03v3.05h-3.03zM379.11 75.00h3.03v3.05h-3.03zM364.22 78.00h6.01v3.05h-6.01zM301.68 81.00h6.01v3.05h-6.01zM364.22 81.00h3.03v3.05h-3.03zM301.68 84.00h6.01v3.05h-6.01zM310.61 84.00h3.03v3.05h-3.03zM388.04 84.00h3.03v3.05h-3.03zM358.26 87.00h3.03v3.05h-3.03zM364.22 87.00h3.03v3.05h-3.03zM310.61 90.00h3.03v3.05h-3.03zM364.22 90.00h3.03v3.05h-3.03zM379.11 90.00h6.01v3.05h-6.01zM307.63 93.00h6.01v3.05h-6.01zM310.61 96.00h3.03v3.05h-3.03zM322.52 96.00h3.03v3.05h-3.03zM373.15 96.00h3.03v3.05h-3.03zM388.04 96.00h3.03v3.05h-3.03zM364.22 99.00h3.03v3.05h-3.03zM370.17 99.00h3.03v3.05h-3.03zM355.28 105.00h3.03v3.05h-3.03zM361.24 108.00h3.03v3.05h-3.03zM367.20 108.00h3.03v3.05h-3.03zM373.15 111.00h3.03v3.05h-3.03zM304.66 117.00h3.03v3.05h-3.03zM310.61 126.00h3.03v3.05h-3.03zM319.55 126.00h3.03v3.05h-3.03zM313.59 129.00h3.03v3.05h-3.03zM367.20 129.00h3.03v3.05h-3.03zM364.22 132.00h3.03v3.05h-3.03zM349.33 135.00h3.03v3.05h-3.03zM367.20 135.00h3.03v3.05h-3.03zM370.17 138.00h3.03v3.05h-3.03zM310.61 141.00h3.03v3.05h-3.03zM349.33 144.00h3.03v3.05h-3.03zM367.20 144.00h3.03v3.05h-3.03zM346.35 153.00h3.03v3.05h-3.03z"/>
<path fill="#b4cb18" d="M307.63 36.00h3.03v3.05h-3.03zM310.61 42.00h3.03v3.05h-3.03zM346.35 42.00h3.03v3.05h-3.03zM385.07 42.00h3.03v3.05h-3.03zM385.07 45.00h3.03v3.05h-3.03zM388.04 51.00h3.03v3.05h-3.03zM307.63 54.00h3.03v3.05h-3.03zM313.59 54.00h3.03v3.05h-3.03zM358.26 57.00h3.03v3.05h-3.03zM367.20 60.00h6.01v3.05h-6.01zM379.11 60.00h3.03v3.05h-3.03zM364.22 63.00h3.03v3.05h-3.03zM379.11 63.00h3.03v3.05h-3.03zM313.59 66.00h3.03v3.05h-3.03zM331.46 66.00h3.03v3.05h-3.03zM364.22 66.00h3.03v3.05h-3.03zM370.17 66.00h3.03v3.05h-3.03zM313.59 72.00h3.03v3.05h-3.03zM355.28 72.00h3.03v3.05h-3.03zM355.28 75.00h3.03v3.05h-3.03zM364.22 75.00h3.03v3.05h-3.03zM313.59 78.00h3.03v3.05h-3.03zM310.61 81.00h6.01v3.05h-6.01zM319.55 81.00h3.03v3.05h-3.03zM370.17 81.00h3.03v3.05h-3.03zM388.04 81.00h3.03v3.05h-3.03zM379.11 84.00h3.03v3.05h-3.03zM304.66 87.00h3.03v3.05h-3.03zM310.61 87.00h3.03v3.05h-3.03zM370.17 87.00h3.03v3.05h-3.03zM388.04 87.00h3.03v3.05h-3.03zM388.04 90.00h3.03v3.05h-3.03zM346.35 93.00h3.03v3.05h-3.03zM361.24 93.00h3.03v3.05h-3.03zM379.11 93.00h3.03v3.05h-3.03zM364.22 96.00h6.01v3.05h-6.01zM316.57 99.00h3.03v3.05h-3.03zM388.04 99.00h3.03v3.05h-3.03zM313.59 102.00h3.03v3.05h-3.03zM370.17 102.00h3.03v3.05h-3.03zM313.59 105.00h3.03v3.05h-3.03zM361.24 105.00h3.03v3.05h-3.03zM364.22 114.00h3.03v3.05h-3.03zM358.26 117.00h3.03v3.05h-3.03zM319.55 120.00h3.03v3.05h-3.03zM358.26 120.00h3.03v3.05h-3.03zM313.59 123.00h3.03v3.05h-3.03zM367.20 123.00h3.03v3.05h-3.03zM367.20 126.00h3.03v3.05h-3.03zM364.22 138.00h3.03v3.05h-3.03zM322.52 141.00h3.03v3.05h-3.03zM313.59 144.00h3.03v3.05h-3.03zM361.24 144.00h3.03v3.05h-3.03zM346.35 147.00h3.03v3.05h-3.03zM310.61 150.00h3.03v3.05h-3.03zM310.61 153.00h3.03v3.05h-3.03zM361.24 153.00h3.03v3.05h-3.03z"/>
<path fill="#cbc70b" d="M313.59 39.00h3.03v3.05h-3.03zM388.04 39.00h3.03v3.05h-3.03zM364.22 45.00h3.03v3.05h-3.03zM367.20 48.00h3.03v3.05h-3.03zM370.17 51.00h3.03v3.05h-3.03zM316.57 54.00h3.03v3.05h-3.03zM349.33 54.00h3.03v3.05h-3.03zM367.20 54.00h6.01v3.05h-6.01zM310.61 57.00h3.03v3.05h-3.03zM364.22 60.00h3.03v3.05h-3.03zM367.20 63.00h3.03v3.05h-3.03zM319.55 66.00h3.03v3.05h-3.03zM355.28 66.00h3.03v3.05h-3.03zM310.61 69.00h3.03v3.05h-3.03zM346.35 69.00h3.03v3.05h-3.03zM358.26 69.00h3.03v3.05h-3.03zM310.61 72.00h3.03v3.05h-3.03zM310.61 78.00h3.03v3.05h-3.03zM319.55 78.00h3.03v3.05h-3.03zM349.33 81.00h3.03v3.05h-3.03zM361.24 81.00h3.03v3.05h-3.03zM361.24 84.00h3.03v3.05h-3.03zM307.63 87.00h3.03v3.05h-3.03zM361.24 87.00h3.03v3.05h-3.03zM340.39 90.00h3.03v3.05h-3.03zM346.35 90.00h3.03v3.05h-3.03zM316.57 93.00h3.03v3.05h-3.03zM367.20 93.00h6.01v3.05h-6.01zM325.50 96.00h3.03v3.05h-3.03zM346.35 96.00h3.03v3.05h-3.03zM352.31 99.00h3.03v3.05h-3.03zM361.24 99.00h3.03v3.05h-3.03zM367.20 105.00h3.03v3.05h-3.03zM373.15 105.00h3.03v3.05h-3.03zM355.28 108.00h3.03v3.05h-3.03zM373.15 108.00h3.03v3.05h-3.03zM334.44 111.00h3.03v3.05h-3.03zM364.22 111.00h3.03v3.05h-3.03zM313.59 114.00h3.03v3.05h-3.03zM355.28 114.00h3.03v3.05h-3.03zM349.33 126.00h3.03v3.05h-3.03zM358.26 126.00h3.03v3.05h-3.03zM376.13 126.00h3.03v3.05h-3.03zM322.52 132.00h3.03v3.05h-3.03zM349.33 132.00h3.03v3.05h-3.03zM358.26 132.00h3.03v3.05h-3.03zM313.59 135.00h3.03v3.05h-3.03zM346.35 135.00h3.03v3.05h-3.03zM313.59 138.00h3.03v3.05h-3.03zM349.33 141.00h3.03v3.05h-3.03zM361.24 141.00h6.01v3.05h-6.01zM322.52 144.00h3.03v3.05h-3.03zM364.22 144.00h3.03v3.05h-3.03zM304.66 153.00h3.03v3.05h-3.03zM328.48 153.00h3.03v3.05h-3.03z"/>
<path fill="#ddbf05" d="M313.59 36.00h3.03v3.05h-3.03zM364.22 39.00h3.03v3.05h-3.03zM361.24 45.00h3.03v3.05h-3.03zM352.31 48.00h3.03v3.05h-3.03zM370.17 48.00h3.03v3.05h-3.03zM367.20 51.00h3.03v3.05h-3.03zM322.52 54.00h3.03v3.05h-3.03zM352.31 54.00h3.03v3.05h-3.03zM364.22 54.00h3.03v3.05h-3.03zM364.22 57.00h3.03v3.05h-3.03zM379.11 57.00h3.03v3.05h-3.03zM337.42 60.00h3.03v3.05h-3.03zM370.17 63.00h3.03v3.05h-3.03zM310.61 66.00h3.03v3.05h-3.03zM316.57 72.00h3.03v3.05h-3.03zM322.52 72.00h3.03v3.05h-3.03zM328.48 72.00h3.03v3.05h-3.03zM346.35 72.00h3.03v3.05h-3.03zM364.22 72.00h3.03v3.05h-3.03zM319.55 75.00h6.01v3.05h-6.01zM382.09 75.00h3.03v3.05h-3.03zM325.50 78.00h3.03v3.05h-3.03zM346.35 78.00h3.03v3.05h-3.03zM361.24 78.00h3.03v3.05h-3.03zM313.59 84.00h3.03v3.05h-3.03zM331.46 84.00h3.03v3.05h-3.03zM346.35 84.00h3.03v3.05h-3.03zM355.28 84.00h3.03v3.05h-3.03zM346.35 87.00h3.03v3.05h-3.03zM319.55 90.00h3.03v3.05h-3.03zM343.37 90.00h3.03v3.05h-3.03zM361.24 90.00h3.03v3.05h-3.03zM358.26 96.00h3.03v3.05h-3.03zM340.39 99.00h3.03v3.05h-3.03zM346.35 99.00h3.03v3.05h-3.03zM325.50 102.00h6.01v3.05h-6.01zM352.31 102.00h3.03v3.05h-3.03zM316.57 105.00h6.01v3.05h-6.01zM349.33 105.00h3.03v3.05h-3.03zM364.22 105.00h3.03v3.05h-3.03zM319.55 108.00h3.03v3.05h-3.03zM364.22 108.00h3.03v3.05h-3.03zM325.50 111.00h3.03v3.05h-3.03zM355.28 111.00h3.03v3.05h-3.03zM352.31 114.00h3.03v3.05h-3.03zM358.26 114.00h3.03v3.05h-3.03zM352.31 117.00h6.01v3.05h-6.01zM310.61 120.00h3.03v3.05h-3.03zM349.33 123.00h3.03v3.05h-3.03zM346.35 126.00h3.03v3.05h-3.03zM319.55 132.00h3.03v3.05h-3.03zM322.52 135.00h3.03v3.05h-3.03zM346.35 138.00h3.03v3.05h-3.03zM313.59 141.00h3.03v3.05h-3.03zM334.44 141.00h3.03v3.05h-3.03zM364.22 147.00h3.03v3.05h-3.03zM331.46 150.00h3.03v3.05h-3.03z"/>
<path fill="#ecb808" d="M319.55 36.00h3.03v3.05h-3.03zM325.50 36.00h3.03v3.05h-3.03zM361.24 36.00h3.03v3.05h-3.03zM361.24 39.00h3.03v3.05h-3.03zM349.33 42.00h3.03v3.05h-3.03zM316.57 45.00h3.03v3.05h-3.03zM316.57 48.00h3.03v3.05h-3.03zM364.22 48.00h3.03v3.05h-3.03zM316.57 51.00h3.03v3.05h-3.03zM349.33 51.00h3.03v3.05h-3.03zM358.26 54.00h3.03v3.05h-3.03zM313.59 57.00h3.03v3.05h-3.03zM367.20 57.00h3.03v3.05h-3.03zM313.59 60.00h3.03v3.05h-3.03zM322.52 60.00h3.03v3.05h-3.03zM328.48 60.00h3.03v3.05h-3.03zM361.24 60.00h3.03v3.05h-3.03zM313.59 63.00h6.01v3.05h-6.01zM355.28 63.00h3.03v3.05h-3.03zM361.24 63.00h3.03v3.05h-3.03zM322.52 66.00h3.03v3.05h-3.03zM316.57 69.00h3.03v3.05h-3.03zM328.48 69.00h3.03v3.05h-3.03zM349.33 69.00h3.03v3.05h-3.03zM361.24 69.00h3.03v3.05h-3.03zM361.24 72.00h3.03v3.05h-3.03zM334.44 78.00h3.03v3.05h-3.03zM349.33 78.00h3.03v3.05h-3.03zM316.57 81.00h3.03v3.05h-3.03zM346.35 81.00h3.03v3.05h-3.03zM319.55 84.00h3.03v3.05h-3.03zM319.55 87.00h3.03v3.05h-3.03zM343.37 87.00h3.03v3.05h-3.03zM313.59 90.00h3.03v3.05h-3.03zM313.59 96.00h3.03v3.05h-3.03zM313.59 99.00h3.03v3.05h-3.03zM325.50 99.00h3.03v3.05h-3.03zM343.37 99.00h3.03v3.05h-3.03zM367.20 99.00h3.03v3.05h-3.03zM316.57 102.00h6.01v3.05h-6.01zM361.24 102.00h3.03v3.05h-3.03zM325.50 105.00h6.01v3.05h-6.01zM352.31 105.00h3.03v3.05h-3.03zM316.57 108.00h3.03v3.05h-3.03zM325.50 108.00h3.03v3.05h-3.03zM358.26 108.00h3.03v3.05h-3.03zM319.55 111.00h3.03v3.05h-3.03zM319.55 117.00h3.03v3.05h-3.03zM349.33 120.00h3.03v3.05h-3.03zM328.48 123.00h3.03v3.05h-3.03zM328.48 126.00h3.03v3.05h-3.03zM328.48 129.00h3.03v3.05h-3.03zM346.35 132.00h3.03v3.05h-3.03zM316.57 135.00h3.03v3.05h-3.03zM358.26 135.00h3.03v3.05h-3.03zM322.52 138.00h3.03v3.05h-3.03zM328.48 138.00h3.03v3.05h-3.03zM316.57 141.00h3.03v3.05h-3.03zM328.48 141.00h3.03v3.05h-3.03zM346.35 141.00h3.03v3.05h-3.03zM313.59 150.00h3.03v3.05h-3.03zM322.52 150.00h3.03v3.05h-3.03zM346.35 150.00h6.01v3.05h-6.01z"/>
<path fill="#fab414" d="M349.33 36.00h3.03v3.05h-3.03zM358.26 36.00h3.03v3.05h-3.03zM364.22 36.00h3.03v3.05h-3.03zM319.55 39.00h3.03v3.05h-3.03zM325.50 39.00h3.03v3.05h-3.03zM343.37 39.00h3.03v3.05h-3.03zM358.26 39.00h3.03v3.05h-3.03zM313.59 42.00h3.03v3.05h-3.03zM313.59 48.00h3.03v3.05h-3.03zM322.52 48.00h3.03v3.05h-3.03zM349.33 48.00h3.03v3.05h-3.03zM346.35 51.00h3.03v3.05h-3.03zM352.31 51.00h3.03v3.05h-3.03zM355.28 54.00h3.03v3.05h-3.03zM328.48 57.00h3.03v3.05h-3.03zM349.33 57.00h3.03v3.05h-3.03zM355.28 57.00h3.03v3.05h-3.03zM361.24 57.00h3.03v3.05h-3.03zM319.55 63.00h8.98v3.05h-8.98zM313.59 69.00h3.03v3.05h-3.03zM319.55 72.00h3.03v3.05h-3.03zM325.50 72.00h3.03v3.05h-3.03zM313.59 75.00h3.03v3.05h-3.03zM346.35 75.00h6.01v3.05h-6.01zM361.24 75.00h3.03v3.05h-3.03zM358.26 78.00h3.03v3.05h-3.03zM331.46 81.00h3.03v3.05h-3.03zM340.39 81.00h3.03v3.05h-3.03zM316.57 84.00h3.03v3.05h-3.03zM328.48 84.00h3.03v3.05h-3.03zM328.48 87.00h3.03v3.05h-3.03zM340.39 87.00h3.03v3.05h-3.03zM328.48 93.00h3.03v3.05h-3.03zM343.37 93.00h3.03v3.05h-3.03zM328.48 96.00h3.03v3.05h-3.03zM361.24 96.00h3.03v3.05h-3.03zM319.55 99.00h3.03v3.05h-3.03zM328.48 99.00h3.03v3.05h-3.03zM355.28 99.00h3.03v3.05h-3.03zM346.35 102.00h3.03v3.05h-3.03zM355.28 102.00h3.03v3.05h-3.03zM322.52 105.00h3.03v3.05h-3.03zM328.48 108.00h3.03v3.05h-3.03zM346.35 111.00h3.03v3.05h-3.03zM352.31 111.00h3.03v3.05h-3.03zM316.57 114.00h3.03v3.05h-3.03zM322.52 117.00h3.03v3.05h-3.03zM349.33 117.00h3.03v3.05h-3.03zM346.35 120.00h3.03v3.05h-3.03zM319.55 123.00h3.03v3.05h-3.03zM346.35 123.00h3.03v3.05h-3.03zM355.28 123.00h3.03v3.05h-3.03zM316.57 126.00h3.03v3.05h-3.03zM352.31 126.00h3.03v3.05h-3.03zM316.57 129.00h6.01v3.05h-6.01zM316.57 132.00h3.03v3.05h-3.03zM328.48 132.00h3.03v3.05h-3.03zM355.28 132.00h3.03v3.05h-3.03zM328.48 135.00h3.03v3.05h-3.03zM343.37 138.00h3.03v3.05h-3.03zM355.28 138.00h3.03v3.05h-3.03zM358.26 141.00h3.03v3.05h-3.03zM358.26 144.00h3.03v3.05h-3.03zM313.59 147.00h3.03v3.05h-3.03zM316.57 150.00h3.03v3.05h-3.03zM325.50 150.00h3.03v3.05h-3.03zM316.57 153.00h3.03v3.05h-3.03zM340.39 153.00h3.03v3.05h-3.03zM349.33 153.00h3.03v3.05h-3.03z"/>
<path fill="#ffb216" d="M316.57 36.00h3.03v3.05h-3.03zM322.52 36.00h3.03v3.05h-3.03zM340.39 36.00h3.03v3.05h-3.03zM316.57 39.00h3.03v3.05h-3.03zM334.44 39.00h3.03v3.05h-3.03zM325.50 42.00h3.03v3.05h-3.03zM334.44 42.00h3.03v3.05h-3.03zM355.28 42.00h3.03v3.05h-3.03zM319.55 45.00h3.03v3.05h-3.03zM334.44 45.00h6.01v3.05h-6.01zM349.33 45.00h3.03v3.05h-3.03zM319.55 48.00h3.03v3.05h-3.03zM325.50 48.00h3.03v3.05h-3.03zM361.24 51.00h3.03v3.05h-3.03zM325.50 54.00h6.01v3.05h-6.01zM346.35 54.00h3.03v3.05h-3.03zM361.24 54.00h3.03v3.05h-3.03zM346.35 57.00h3.03v3.05h-3.03zM352.31 57.00h3.03v3.05h-3.03zM325.50 60.00h3.03v3.05h-3.03zM346.35 63.00h3.03v3.05h-3.03zM346.35 66.00h6.01v3.05h-6.01zM361.24 66.00h3.03v3.05h-3.03zM340.39 69.00h3.03v3.05h-3.03zM364.22 69.00h3.03v3.05h-3.03zM349.33 72.00h3.03v3.05h-3.03zM331.46 78.00h3.03v3.05h-3.03zM328.48 81.00h3.03v3.05h-3.03zM349.33 84.00h3.03v3.05h-3.03zM358.26 84.00h3.03v3.05h-3.03zM313.59 87.00h6.01v3.05h-6.01zM328.48 90.00h3.03v3.05h-3.03zM355.28 90.00h3.03v3.05h-3.03zM313.59 93.00h3.03v3.05h-3.03zM319.55 93.00h3.03v3.05h-3.03zM349.33 93.00h3.03v3.05h-3.03zM319.55 96.00h3.03v3.05h-3.03zM343.37 96.00h3.03v3.05h-3.03zM340.39 108.00h3.03v3.05h-3.03zM349.33 108.00h3.03v3.05h-3.03zM319.55 114.00h3.03v3.05h-3.03zM325.50 114.00h3.03v3.05h-3.03zM349.33 114.00h3.03v3.05h-3.03zM316.57 117.00h3.03v3.05h-3.03zM316.57 123.00h3.03v3.05h-3.03zM343.37 123.00h3.03v3.05h-3.03zM322.52 126.00h3.03v3.05h-3.03zM337.42 126.00h3.03v3.05h-3.03zM331.46 132.00h3.03v3.05h-3.03zM325.50 135.00h3.03v3.05h-3.03zM331.46 135.00h3.03v3.05h-3.03zM316.57 138.00h3.03v3.05h-3.03zM316.57 144.00h3.03v3.05h-3.03zM355.28 144.00h3.03v3.05h-3.03zM316.57 147.00h3.03v3.05h-3.03zM322.52 147.00h3.03v3.05h-3.03zM334.44 147.00h3.03v3.05h-3.03zM352.31 147.00h3.03v3.05h-3.03zM340.39 150.00h3.03v3.05h-3.03zM364.22 150.00h3.03v3.05h-3.03z"/>
<path fill="#ffba0f" d="M352.31 36.00h6.01v3.05h-6.01zM337.42 39.00h6.01v3.05h-6.01zM346.35 39.00h3.03v3.05h-3.03zM316.57 42.00h6.01v3.05h-6.01zM340.39 42.00h3.03v3.05h-3.03zM358.26 42.00h6.01v3.05h-6.01zM322.52 45.00h3.03v3.05h-3.03zM355.28 45.00h3.03v3.05h-3.03zM328.48 48.00h3.03v3.05h-3.03zM325.50 51.00h3.03v3.05h-3.03zM355.28 51.00h3.03v3.05h-3.03zM319.55 54.00h3.03v3.05h-3.03zM337.42 54.00h3.03v3.05h-3.03zM319.55 57.00h3.03v3.05h-3.03zM325.50 57.00h3.03v3.05h-3.03zM319.55 60.00h3.03v3.05h-3.03zM355.28 60.00h3.03v3.05h-3.03zM316.57 66.00h3.03v3.05h-3.03zM352.31 66.00h3.03v3.05h-3.03zM358.26 66.00h3.03v3.05h-3.03zM325.50 69.00h3.03v3.05h-3.03zM340.39 72.00h3.03v3.05h-3.03zM316.57 75.00h3.03v3.05h-3.03zM328.48 75.00h3.03v3.05h-3.03zM358.26 75.00h3.03v3.05h-3.03zM328.48 78.00h3.03v3.05h-3.03zM352.31 78.00h3.03v3.05h-3.03zM355.28 81.00h3.03v3.05h-3.03zM325.50 84.00h3.03v3.05h-3.03zM334.44 84.00h3.03v3.05h-3.03zM343.37 84.00h3.03v3.05h-3.03zM352.31 84.00h3.03v3.05h-3.03zM352.31 87.00h6.01v3.05h-6.01zM316.57 90.00h3.03v3.05h-3.03zM325.50 90.00h3.03v3.05h-3.03zM337.42 93.00h3.03v3.05h-3.03zM355.28 93.00h3.03v3.05h-3.03zM337.42 96.00h3.03v3.05h-3.03zM349.33 96.00h3.03v3.05h-3.03zM355.28 96.00h3.03v3.05h-3.03zM337.42 99.00h3.03v3.05h-3.03zM349.33 99.00h3.03v3.05h-3.03zM343.37 102.00h3.03v3.05h-3.03zM343.37 105.00h3.03v3.05h-3.03zM346.35 108.00h3.03v3.05h-3.03zM316.57 111.00h3.03v3.05h-3.03zM349.33 111.00h3.03v3.05h-3.03zM328.48 114.00h6.01v3.05h-6.01zM325.50 117.00h6.01v3.05h-6.01zM343.37 117.00h3.03v3.05h-3.03zM322.52 120.00h3.03v3.05h-3.03zM352.31 120.00h3.03v3.05h-3.03zM331.46 123.00h3.03v3.05h-3.03zM331.46 126.00h3.03v3.05h-3.03zM355.28 126.00h3.03v3.05h-3.03zM322.52 129.00h3.03v3.05h-3.03zM355.28 129.00h3.03v3.05h-3.03zM340.39 132.00h3.03v3.05h-3.03zM319.55 135.00h3.03v3.05h-3.03zM325.50 138.00h3.03v3.05h-3.03zM325.50 141.00h3.03v3.05h-3.03zM331.46 141.00h3.03v3.05h-3.03zM349.33 147.00h3.03v3.05h-3.03zM358.26 147.00h3.03v3.05h-3.03zM358.26 150.00h3.03v3.05h-3.03zM334.44 153.00h6.01v3.05h-6.01zM343.37 153.00h3.03v3.05h-3.03zM352.31 153.00h3.03v3.05h-3.03z"/>
<path fill="#ffc608" d="M328.48 36.00h3.03v3.05h-3.03zM343.37 36.00h6.01v3.05h-6.01zM322.52 39.00h3.03v3.05h-3.03zM349.33 39.00h8.98v3.05h-8.98zM322.52 42.00h3.03v3.05h-3.03zM328.48 42.00h3.03v3.05h-3.03zM328.48 45.00h3.03v3.05h-3.03zM340.39 45.00h3.03v3.05h-3.03zM346.35 45.00h3.03v3.05h-3.03zM352.31 45.00h3.03v3.05h-3.03zM331.46 48.00h6.01v3.05h-6.01zM340.39 48.00h3.03v3.05h-3.03zM355.28 48.00h3.03v3.05h-3.03zM328.48 51.00h3.03v3.05h-3.03zM337.42 51.00h3.03v3.05h-3.03zM343.37 51.00h3.03v3.05h-3.03zM337.42 57.00h3.03v3.05h-3.03zM340.39 60.00h3.03v3.05h-3.03zM352.31 60.00h3.03v3.05h-3.03zM358.26 60.00h3.03v3.05h-3.03zM328.48 63.00h3.03v3.05h-3.03zM337.42 63.00h3.03v3.05h-3.03zM325.50 66.00h6.01v3.05h-6.01zM340.39 66.00h3.03v3.05h-3.03zM334.44 69.00h3.03v3.05h-3.03zM355.28 69.00h3.03v3.05h-3.03zM334.44 72.00h3.03v3.05h-3.03zM325.50 75.00h3.03v3.05h-3.03zM352.31 75.00h3.03v3.05h-3.03zM316.57 78.00h3.03v3.05h-3.03zM340.39 78.00h3.03v3.05h-3.03zM355.28 78.00h3.03v3.05h-3.03zM343.37 81.00h3.03v3.05h-3.03zM358.26 81.00h3.03v3.05h-3.03zM322.52 87.00h3.03v3.05h-3.03zM331.46 87.00h6.01v3.05h-6.01zM337.42 90.00h3.03v3.05h-3.03zM352.31 90.00h3.03v3.05h-3.03zM358.26 90.00h3.03v3.05h-3.03zM322.52 93.00h6.01v3.05h-6.01zM352.31 93.00h3.03v3.05h-3.03zM316.57 96.00h3.03v3.05h-3.03zM334.44 96.00h3.03v3.05h-3.03zM340.39 96.00h3.03v3.05h-3.03zM340.39 105.00h3.03v3.05h-3.03zM346.35 105.00h3.03v3.05h-3.03zM358.26 105.00h3.03v3.05h-3.03zM331.46 108.00h3.03v3.05h-3.03zM352.31 108.00h3.03v3.05h-3.03zM322.52 111.00h3.03v3.05h-3.03zM331.46 111.00h3.03v3.05h-3.03zM340.39 111.00h6.01v3.05h-6.01zM322.52 114.00h3.03v3.05h-3.03zM331.46 117.00h3.03v3.05h-3.03zM316.57 120.00h3.03v3.05h-3.03zM328.48 120.00h6.01v3.05h-6.01zM337.42 120.00h3.03v3.05h-3.03zM343.37 120.00h3.03v3.05h-3.03zM322.52 123.00h3.03v3.05h-3.03zM337.42 123.00h6.01v3.05h-6.01zM352.31 123.00h3.03v3.05h-3.03zM325.50 129.00h3.03v3.05h-3.03zM340.39 129.00h3.03v3.05h-3.03zM352.31 129.00h3.03v3.05h-3.03zM352.31 132.00h3.03v3.05h-3.03zM334.44 135.00h3.03v3.05h-3.03zM355.28 135.00h3.03v3.05h-3.03zM334.44 138.00h3.03v3.05h-3.03zM319.55 141.00h3.03v3.05h-3.03zM325.50 144.00h6.01v3.05h-6.01zM334.44 144.00h3.03v3.05h-3.03zM352.31 144.00h3.03v3.05h-3.03zM331.46 147.00h3.03v3.05h-3.03zM355.28 147.00h3.03v3.05h-3.03zM319.55 150.00h3.03v3.05h-3.03zM337.42 150.00h3.03v3.05h-3.03zM319.55 153.00h3.03v3.05h-3.03zM325.50 153.00h3.03v3.05h-3.03zM331.46 153.00h3.03v3.05h-3.03zM355.28 153.00h6.01v3.05h-6.01zM364.22 153.00h3.03v3.05h-3.03z"/>
<path fill="#ffd504" d="M331.46 36.00h3.03v3.05h-3.03zM337.42 36.00h3.03v3.05h-3.03zM331.46 42.00h3.03v3.05h-3.03zM352.31 42.00h3.03v3.05h-3.03zM343.37 45.00h3.03v3.05h-3.03zM358.26 45.00h3.03v3.05h-3.03zM358.26 48.00h6.01v3.05h-6.01zM322.52 51.00h3.03v3.05h-3.03zM331.46 54.00h3.03v3.05h-3.03zM331.46 57.00h3.03v3.05h-3.03zM331.46 60.00h3.03v3.05h-3.03zM343.37 63.00h3.03v3.05h-3.03zM358.26 63.00h3.03v3.05h-3.03zM331.46 69.00h3.03v3.05h-3.03zM352.31 72.00h3.03v3.05h-3.03zM358.26 72.00h3.03v3.05h-3.03zM340.39 75.00h6.01v3.05h-6.01zM343.37 78.00h3.03v3.05h-3.03zM322.52 81.00h3.03v3.05h-3.03zM340.39 84.00h3.03v3.05h-3.03zM349.33 90.00h3.03v3.05h-3.03zM331.46 99.00h3.03v3.05h-3.03zM340.39 102.00h3.03v3.05h-3.03zM349.33 102.00h3.03v3.05h-3.03zM358.26 102.00h3.03v3.05h-3.03zM322.52 108.00h3.03v3.05h-3.03zM334.44 108.00h3.03v3.05h-3.03zM343.37 108.00h3.03v3.05h-3.03zM334.44 114.00h3.03v3.05h-3.03zM340.39 114.00h3.03v3.05h-3.03zM325.50 126.00h3.03v3.05h-3.03zM319.55 138.00h3.03v3.05h-3.03zM331.46 138.00h3.03v3.05h-3.03zM340.39 138.00h3.03v3.05h-3.03zM352.31 138.00h3.03v3.05h-3.03zM358.26 138.00h3.03v3.05h-3.03zM352.31 141.00h6.01v3.05h-6.01zM319.55 144.00h3.03v3.05h-3.03zM331.46 144.00h3.03v3.05h-3.03zM340.39 144.00h3.03v3.05h-3.03zM328.48 147.00h3.03v3.05h-3.03zM340.39 147.00h3.03v3.05h-3.03zM328.48 150.00h3.03v3.05h-3.03zM334.44 150.00h3.03v3.05h-3.03zM355.28 150.00h3.03v3.05h-3.03zM322.52 153.00h3.03v3.05h-3.03z"/>
<path fill="#fde300" d="M328.48 39.00h6.01v3.05h-6.01zM337.42 42.00h3.03v3.05h-3.03zM343.37 42.00h3.03v3.05h-3.03zM331.46 45.00h3.03v3.05h-3.03zM337.42 48.00h3.03v3.05h-3.03zM343.37 48.00h6.01v3.05h-6.01zM319.55 51.00h3.03v3.05h-3.03zM331.46 51.00h3.03v3.05h-3.03zM358.26 51.00h3.03v3.05h-3.03zM334.44 54.00h3.03v3.05h-3.03zM343.37 54.00h3.03v3.05h-3.03zM343.37 57.00h3.03v3.05h-3.03zM331.46 63.00h3.03v3.05h-3.03zM340.39 63.00h3.03v3.05h-3.03zM352.31 63.00h3.03v3.05h-3.03zM352.31 69.00h3.03v3.05h-3.03zM331.46 75.00h3.03v3.05h-3.03zM325.50 81.00h3.03v3.05h-3.03zM334.44 81.00h3.03v3.05h-3.03zM352.31 81.00h3.03v3.05h-3.03zM322.52 84.00h3.03v3.05h-3.03zM337.42 87.00h3.03v3.05h-3.03zM322.52 90.00h3.03v3.05h-3.03zM331.46 93.00h3.03v3.05h-3.03zM340.39 93.00h3.03v3.05h-3.03zM352.31 96.00h3.03v3.05h-3.03zM331.46 102.00h3.03v3.05h-3.03zM337.42 108.00h3.03v3.05h-3.03zM337.42 111.00h3.03v3.05h-3.03zM346.35 114.00h3.03v3.05h-3.03zM334.44 117.00h3.03v3.05h-3.03zM340.39 117.00h3.03v3.05h-3.03zM325.50 120.00h3.03v3.05h-3.03zM331.46 129.00h3.03v3.05h-3.03zM343.37 129.00h3.03v3.05h-3.03zM325.50 132.00h3.03v3.05h-3.03zM334.44 132.00h3.03v3.05h-3.03zM352.31 135.00h3.03v3.05h-3.03zM337.42 144.00h3.03v3.05h-3.03zM343.37 144.00h3.03v3.05h-3.03zM343.37 150.00h3.03v3.05h-3.03zM352.31 150.00h3.03v3.05h-3.03z"/>
<path fill="#fcee00" d="M334.44 51.00h3.03v3.05h-3.03zM340.39 51.00h3.03v3.05h-3.03zM340.39 57.00h3.03v3.05h-3.03zM334.44 60.00h3.03v3.05h-3.03zM343.37 60.00h3.03v3.05h-3.03zM334.44 63.00h3.03v3.05h-3.03zM334.44 66.00h3.03v3.05h-3.03zM343.37 72.00h3.03v3.05h-3.03zM337.42 84.00h3.03v3.05h-3.03zM331.46 90.00h3.03v3.05h-3.03zM358.26 93.00h3.03v3.05h-3.03zM331.46 96.00h3.03v3.05h-3.03zM334.44 99.00h3.03v3.05h-3.03zM334.44 102.00h6.01v3.05h-6.01zM331.46 105.00h8.98v3.05h-8.98zM337.42 114.00h3.03v3.05h-3.03zM343.37 114.00h3.03v3.05h-3.03zM334.44 120.00h3.03v3.05h-3.03zM340.39 120.00h3.03v3.05h-3.03zM325.50 123.00h3.03v3.05h-3.03zM334.44 129.00h3.03v3.05h-3.03zM343.37 132.00h3.03v3.05h-3.03zM337.42 135.00h3.03v3.05h-3.03zM337.42 138.00h3.03v3.05h-3.03zM337.42 141.00h6.01v3.05h-6.01zM319.55 147.00h3.03v3.05h-3.03zM337.42 147.00h3.03v3.05h-3.03zM343.37 147.00h3.03v3.05h-3.03z"/>
<path fill="#fef900" d="M334.44 57.00h3.03v3.05h-3.03zM343.37 69.00h3.03v3.05h-3.03zM334.44 75.00h3.03v3.05h-3.03zM337.42 78.00h3.03v3.05h-3.03zM334.44 90.00h3.03v3.05h-3.03zM322.52 99.00h3.03v3.05h-3.03zM346.35 117.00h3.03v3.05h-3.03zM334.44 123.00h3.03v3.05h-3.03zM334.44 126.00h3.03v3.05h-3.03zM343.37 126.00h3.03v3.05h-3.03zM337.42 129.00h3.03v3.05h-3.03zM340.39 135.00h6.01v3.05h-6.01zM343.37 141.00h3.03v3.05h-3.03z"/>
<path fill="#fdff00" d="M340.39 54.00h3.03v3.05h-3.03zM337.42 66.00h3.03v3.05h-3.03zM334.44 93.00h3.03v3.05h-3.03zM358.26 99.00h3.03v3.05h-3.03zM337.42 117.00h3.03v3.05h-3.03z"/>
<path fill="#fdff00" d="M343.37 66.00h3.03v3.05h-3.03zM337.42 72.00h3.03v3.05h-3.03zM337.42 75.00h3.03v3.05h-3.03zM340.39 126.00h3.03v3.05h-3.03zM337.42 132.00h3.03v3.05h-3.03z"/>
<path fill="#fdff00" d="M337.42 81.00h3.03v3.05h-3.03z"/>
<path fill="#fdff00" d="M337.42 69.00h3.03v3.05h-3.03z"/>
</g>
<g stroke="#f01414" fill="#f01414" stroke-width="1.4" stroke-linejoin="miter">
<path d="M55.2 111.4L58.0 111.1M62.2 110.7L58.2 112.6L57.9 109.6ZM84.0 111.4L87.5 111.0M92.0 110.6L87.7 112.5L87.4 109.6ZM97.2 111.4L115.7 110.2M120.2 109.8L115.8 111.6L115.6 108.7ZM124.8 111.0h1.6M139.2 111.4L142.0 111.1M146.2 110.7L142.2 112.6L141.9 109.6ZM55.2 124.8L67.7 123.9M72.2 123.6L67.8 125.4L67.6 122.4ZM84.0 124.8L86.8 124.5M91.0 124.1L87.0 126.0L86.7 123.0ZM97.2 124.8L100.7 124.4M105.2 124.0L100.9 125.9L100.6 123.0ZM110.4 124.8L121.9 123.9M126.4 123.6L122.0 125.4L121.8 122.4ZM136.0 124.8L138.0 124.5M141.0 124.2L138.2 126.0L137.8 123.0ZM55.2 138.9L66.7 138.0M71.2 137.7L66.8 139.5L66.6 136.5ZM84.0 138.9L89.5 138.4M94.0 138.0L89.7 139.9L89.4 136.9ZM97.2 138.9L103.7 138.3M108.2 137.9L103.8 139.8L103.6 136.8ZM110.4 138.9L120.9 138.1M125.4 137.8L121.0 139.6L120.8 136.6ZM127.0 138.9L129.0 138.6M132.0 138.2L129.2 140.1L128.8 137.1ZM137.0 138.9L140.0 138.6M144.5 138.1L140.2 140.1L139.9 137.1ZM55.2 152.4L57.6 152.1M61.2 151.7L57.8 153.6L57.5 150.6ZM69.6 152.4L71.6 152.1M74.6 151.8L71.8 153.6L71.4 150.6ZM84.0 152.4L86.4 152.1M90.0 151.7L86.6 153.6L86.3 150.6ZM97.2 152.4L111.7 151.4M116.2 151.1L111.8 152.9L111.6 149.9ZM124.8 152.4L126.8 152.1M129.8 151.8L127.0 153.6L126.6 150.6ZM143.0 152.4L145.4 152.1M149.0 151.7L145.6 153.6L145.3 150.6ZM62.0 96.8h1.5M76.0 96.8h1.5M90.0 96.8h1.5M104.0 96.8h1.5M118.0 96.8h1.5M132.0 96.8h1.5M146.0 96.8h1.5" stroke-width="1.0"/>
<rect x="80.8" y="109.8" width="3.3" height="3.3" fill="#fff" stroke="none"/>
<path d="M309.8 158.4L309.4 149.9M309.2 144.4L311.0 149.9L307.8 150.0ZM309.2 144.4L308.8 135.9M308.6 130.4L310.4 135.9L307.2 136.0ZM308.6 130.4L308.4 121.9M308.3 116.4L310.0 121.9L306.8 122.0ZM308.3 116.4L308.3 109.9M308.3 104.4L309.9 109.9L306.7 109.9ZM308.3 104.4L308.5 95.9M308.6 90.4L310.1 96.0L306.9 95.9ZM308.6 90.4L308.9 81.9M309.2 76.4L310.5 82.0L307.3 81.9ZM309.2 76.4L309.5 67.9M309.8 62.4L311.1 68.0L307.9 67.9ZM309.8 62.4L310.1 53.9M310.3 48.4L311.7 54.0L308.5 53.9ZM310.3 48.4L310.5 36.5M321.4 158.0L321.6 149.5M321.7 144.0L323.2 149.5L320.0 149.5ZM321.7 144.0L322.0 136.5M322.2 131.0L323.5 136.5L320.4 136.4ZM322.2 131.0L322.4 124.5M322.7 119.0L324.0 124.5L320.8 124.4ZM322.7 119.0L323.0 110.5M323.2 105.0L324.6 110.5L321.4 110.4ZM323.2 105.0L323.4 97.5M323.6 92.0L325.0 97.5L321.8 97.4ZM323.6 92.0L323.6 85.5M323.6 80.0L325.2 85.5L322.0 85.5ZM323.6 80.0L323.4 71.5M323.3 66.0L325.0 71.5L321.8 71.5ZM323.3 66.0L323.1 58.5M322.9 53.0L324.7 58.4L321.5 58.5ZM322.9 53.0L322.5 45.5M322.3 40.0L324.1 45.4L320.9 45.5ZM322.3 40.0L322.1 36.5M335.7 161.6L336.0 155.1M336.2 149.6L337.6 155.2L334.4 155.1ZM336.2 149.6L336.4 143.1M336.6 137.6L338.0 143.2L334.8 143.1ZM336.6 137.6L336.7 131.1M336.8 125.6L338.3 131.2L335.1 131.1ZM336.8 125.6L336.8 118.1M336.7 112.6L338.4 118.1L335.2 118.1ZM336.7 112.6L336.5 104.1M336.4 98.6L338.1 104.1L334.9 104.2ZM336.4 98.6L336.1 92.1M335.9 86.6L337.7 92.1L334.5 92.2ZM335.9 86.6L335.5 78.1M335.3 72.6L337.1 78.1L333.9 78.2ZM335.3 72.6L335.0 66.1M334.8 60.6L336.6 66.1L333.4 66.2ZM334.8 60.6L334.7 54.1M334.6 48.6L336.3 54.1L333.1 54.2ZM334.6 48.6L334.6 36.5M350.6 157.7L350.7 151.2M350.7 145.7L352.3 151.3L349.1 151.2ZM350.7 145.7L350.6 137.2M350.5 131.7L352.2 137.2L349.0 137.3ZM350.5 131.7L350.3 124.2M350.1 118.7L351.9 124.2L348.7 124.3ZM350.1 118.7L349.8 112.2M349.5 106.7L351.4 112.2L348.2 112.3ZM349.5 106.7L349.2 98.2M349.0 92.7L350.8 98.2L347.6 98.3ZM349.0 92.7L348.7 85.2M348.6 79.7L350.3 85.2L347.1 85.3ZM348.6 79.7L348.5 72.2M348.5 66.7L350.1 72.2L346.9 72.3ZM348.5 66.7L348.6 58.2M348.7 52.7L350.2 58.3L347.0 58.2ZM348.7 52.7L348.9 46.2M349.1 40.7L350.5 46.3L347.3 46.2ZM349.1 40.7L349.3 36.5M364.5 157.7L364.2 151.2M363.9 145.7L365.8 151.1L362.6 151.2ZM363.9 145.7L363.2 137.1M362.7 131.7L364.8 137.0L361.6 137.3ZM362.7 131.7L362.1 125.1M361.6 119.7L363.7 125.0L360.5 125.3ZM361.6 119.7L361.0 112.1M360.5 106.7L362.6 112.0L359.4 112.3ZM360.5 106.7L360.2 100.2M359.9 94.7L361.8 100.1L358.6 100.2ZM359.9 94.7L359.9 88.2M359.8 82.7L361.5 88.2L358.3 88.2ZM359.8 82.7L360.1 75.2M360.4 69.7L361.7 75.2L358.5 75.1ZM360.4 69.7L360.8 63.2M361.3 57.7L362.4 63.3L359.3 63.0ZM361.3 57.7L361.9 51.1M362.4 45.7L363.5 51.3L360.3 51.0ZM362.4 45.7L363.2 36.5M377.3 156.8L377.0 149.3M376.7 143.8L378.6 149.2L375.4 149.3ZM376.7 143.8L376.4 136.3M376.2 130.8L378.0 136.2L374.8 136.3ZM376.2 130.8L376.0 124.3M375.8 118.8L377.6 124.2L374.4 124.3ZM375.8 118.8L375.7 111.3M375.6 105.8L377.3 111.2L374.1 111.3ZM375.6 105.8L375.7 97.3M375.7 91.8L377.3 97.3L374.1 97.3ZM375.7 91.8L375.9 85.3M376.0 79.8L377.5 85.3L374.3 85.2ZM376.0 79.8L376.4 71.3M376.6 65.8L378.0 71.3L374.8 71.2ZM376.6 65.8L376.9 59.3M377.2 53.8L378.5 59.3L375.3 59.2ZM377.2 53.8L377.4 47.3M377.6 41.8L379.0 47.3L375.8 47.2ZM377.6 41.8L377.7 36.5M391.6 160.3L391.3 151.8M391.2 146.3L392.9 151.8L389.7 151.9ZM391.2 146.3L391.1 138.8M391.0 133.3L392.7 138.8L389.5 138.8ZM391.0 133.3L391.1 125.8M391.1 120.3L392.7 125.8L389.5 125.8ZM391.1 120.3L391.4 111.8M391.5 106.3L393.0 111.9L389.8 111.8ZM391.5 106.3L391.9 97.8M392.1 92.3L393.5 97.9L390.3 97.7ZM392.1 92.3L392.4 85.8M392.6 80.3L394.0 85.9L390.8 85.7ZM392.6 80.3L392.9 72.8M393.1 67.3L394.5 72.9L391.3 72.8ZM393.1 67.3L393.1 60.8M393.2 55.3L394.7 60.8L391.5 60.8ZM393.2 55.3L393.2 48.8M393.1 43.3L394.8 48.8L391.6 48.8ZM393.1 43.3L393.0 36.5" clip-path="url(#ri0)" stroke-width="1.4"/>
</g>
<rect x="54.0" y="36.5" width="96.0" height="120.5" fill="none" stroke="#1a1a1a" stroke-width="1.1"/>
<rect x="298.7" y="36.0" width="95.3" height="120.0" fill="none" stroke="#1a1a1a" stroke-width="1.1"/>
<path d="M291 98L319.3 74.5" stroke="#111" stroke-width="1.4" fill="none" marker-end="url(#ah)"/>
<path d="M144.5 181.5L127.5 162" stroke="#111" stroke-width="1.4" fill="none" marker-end="url(#ah)"/>
</g>
<g transform="translate(0 268.5)">
<g stroke="#f03030" fill="none" opacity="0.5">
<path d="M306.0 215.5h3M307.0 218.0h5M311.5 209.1h3M312.5 211.6h5M317.0 203.0h3M318.0 205.5h5M322.5 197.6h3M323.5 200.1h5M328.0 193.0h3M329.0 195.5h5M333.5 189.3h3M334.5 191.8h5M339.0 186.5h3M340.0 189.0h5M344.5 184.3h3M345.5 186.8h5M350.0 182.5h3M351.0 185.0h5" stroke-width="0.9" stroke-dasharray="1 1.9"/>
</g>
<path d="M100.8 198.0H150M105.2 200.9H150M109.9 203.8H150M114.9 206.7H150M120.3 209.6H150M126.1 212.5H150" stroke="#f01010" fill="none" stroke-width="1.1" stroke-dasharray="1.3 1.6" opacity="0.8"/>
<g clip-path="url(#secA)"><g filter="url(#cmB)">
<rect x="0" y="-268.5" width="461" height="550" fill="#8a8a8a"/>
<circle cx="223" cy="38" r="260" fill="url(#gBlue)"/>
<ellipse cx="223" cy="46" rx="9" ry="5.5" fill="#a8a8a8" opacity="0.75"/>
<path d="M216.5 43.5l4 2.5l3.5 1.5M226 46.5l3.5 -1l1.5 -2.5M218 47.5l5 2.5" stroke="#dbdbdb" stroke-width="1.6" fill="none"/>
<path d="M218 41L38 129L40 201Z" fill="#8c8c8c" opacity="0.8"/>
<path d="M228 41L408 129L406 201Z" fill="#8c8c8c" opacity="0.8"/>
<path d="M262 50L292 50L290 120L285 198L265 198L263 120Z" fill="url(#gV)"/>
<path d="M100 199.5C120 202 150 208 185 210C210 210 235 207 250 205.5C270 204 287 201.5 300 198.5" fill="none" stroke="#fff" stroke-linecap="round" stroke-width="11.0" opacity="0.20"/>
<path d="M100 199.5C120 202 150 208 185 210C210 210 235 207 250 205.5C270 204 287 201.5 300 198.5" fill="none" stroke="#fff" stroke-linecap="round" stroke-width="7.5" opacity="0.30"/>
<path d="M100 199.5C120 202 150 208 185 210C210 210 235 207 250 205.5C270 204 287 201.5 300 198.5" fill="none" stroke="#fff" stroke-linecap="round" stroke-width="4.2" opacity="0.27"/>
<path d="M296 199.5C315 195 335 188 352 178" fill="none" stroke="#fff" stroke-width="9" opacity="0.2"/>
</g></g>
<g clip-path="url(#secA)" stroke="#f01818" fill="none">
<path d="M269.0 61.7l0.7 -4.0M268.4 78.1l0.7 -3.2M268.2 82.2l0.7 -3.7M268.0 86.3l0.7 -4.4M267.7 94.5l0.7 -4.4M267.6 98.6l0.7 -4.4M267.4 102.7l0.7 -4.4M267.1 110.9l0.7 -4.4M266.9 115.0l0.7 -4.4M266.7 119.1l0.7 -4.4M265.8 143.7l0.7 -3.8M264.3 180.6l0.7 -3.5M271.8 64.2l0.7 -3.6M271.7 68.3l0.7 -3.0M271.5 72.4l0.7 -3.1M271.3 76.5l0.7 -3.7M269.5 121.6l0.7 -3.1M269.4 125.7l0.7 -3.3M268.7 142.1l0.7 -3.7M268.1 158.5l0.7 -3.2M267.1 183.1l0.7 -4.0M274.7 64.3l0.7 -3.4M274.6 68.4l0.7 -3.3M274.2 76.6l0.7 -3.9M274.1 80.7l0.7 -3.2M270.0 183.2l0.7 -3.2M269.8 187.3l0.7 -3.1M269.6 191.4l0.7 -3.3M277.8 61.1l0.7 -3.7M277.6 65.2l0.7 -3.7M277.4 69.3l0.7 -3.7M277.3 73.4l0.7 -3.1M277.1 77.5l0.7 -3.3M276.9 81.6l0.7 -3.7M274.0 155.4l0.7 -3.4M273.3 171.8l0.7 -3.7M273.0 180.0l0.7 -3.7M280.3 70.3l0.7 -3.7M280.1 74.4l0.7 -3.7M280.0 78.5l0.7 -3.3M279.8 82.6l0.7 -3.2M278.0 127.7l0.7 -3.2M275.9 181.0l0.7 -3.1M275.7 185.1l0.7 -3.6M283.5 63.0l0.7 -4.0M283.3 67.1l0.7 -3.1M283.2 71.2l0.7 -3.3M283.0 75.3l0.7 -4.0M282.8 79.4l0.7 -3.2M281.2 120.4l0.7 -3.3M280.7 132.7l0.7 -3.2M280.5 136.8l0.7 -3.4M279.7 157.3l0.7 -3.8M279.2 169.6l0.7 -3.9M279.1 173.7l0.7 -3.6M286.2 66.5l0.7 -4.0M285.9 74.7l0.7 -3.7M285.7 78.8l0.7 -3.7M285.6 82.9l0.7 -3.9M283.9 123.9l0.7 -3.7M281.5 185.4l0.7 -3.5M289.2 64.1l0.7 -3.6M289.1 68.2l0.7 -3.1M288.7 76.4l0.7 -3.1M288.6 80.5l0.7 -3.1M286.9 121.5l0.7 -3.8M285.5 158.4l0.7 -3.7M285.1 166.6l0.7 -3.3M291.9 71.1l0.7 -3.1M291.4 83.4l0.7 -4.4M291.2 87.5l0.7 -4.4M291.0 91.6l0.7 -4.4M290.9 95.7l0.7 -4.4M290.7 99.8l0.7 -4.4M290.5 103.9l0.7 -4.4M290.4 108.0l0.7 -4.4M290.1 116.2l0.7 -4.4M289.7 124.4l0.7 -3.3M289.4 132.6l0.7 -3.3" stroke-width="0.9" opacity="0.85"/>
<path d="M271.0 84.7l0.7 -4.4M270.8 88.8l0.7 -4.4M270.7 92.9l0.7 -4.4M270.5 97.0l0.7 -4.4M270.4 101.1l0.7 -4.4M270.2 105.2l0.7 -4.4M270.0 109.3l0.7 -4.4M269.9 113.4l0.7 -4.4M269.7 117.5l0.7 -4.4M273.9 84.8l0.7 -4.4M273.6 93.0l0.7 -4.4M273.4 97.1l0.7 -4.4M273.3 101.2l0.7 -4.4M273.1 105.3l0.7 -4.4M272.9 109.4l0.7 -4.4M272.8 113.5l0.7 -4.4M272.6 117.6l0.7 -4.4M276.8 85.7l0.7 -4.4M276.6 89.8l0.7 -4.4M276.4 93.9l0.7 -4.4M276.3 98.0l0.7 -4.4M276.1 102.1l0.7 -4.4M276.0 106.2l0.7 -4.4M275.6 114.4l0.7 -4.4M275.5 118.5l0.7 -4.4M279.6 86.7l0.7 -4.4M279.5 90.8l0.7 -4.4M279.3 94.9l0.7 -4.4M279.1 99.0l0.7 -4.4M279.0 103.1l0.7 -4.4M278.8 107.2l0.7 -4.4M278.6 111.3l0.7 -4.4M278.5 115.4l0.7 -4.4M278.3 119.5l0.7 -4.4M282.7 83.5l0.7 -4.4M282.5 87.6l0.7 -4.4M282.3 91.7l0.7 -4.4M282.2 95.8l0.7 -4.4M282.0 99.9l0.7 -4.4M281.8 104.0l0.7 -4.4M281.7 108.1l0.7 -4.4M281.5 112.2l0.7 -4.4M281.3 116.3l0.7 -4.4M285.4 87.0l0.7 -4.4M285.3 91.1l0.7 -4.4M285.1 95.2l0.7 -4.4M284.9 99.3l0.7 -4.4M284.8 103.4l0.7 -4.4M284.6 107.5l0.7 -4.4M284.3 115.7l0.7 -4.4M284.1 119.8l0.7 -4.4M288.4 84.6l0.7 -4.4M288.3 88.7l0.7 -4.4M288.1 92.8l0.7 -4.4M287.9 96.9l0.7 -4.4M287.8 101.0l0.7 -4.4M287.6 105.1l0.7 -4.4M287.4 109.2l0.7 -4.4M287.3 113.3l0.7 -4.4M287.1 117.4l0.7 -4.4" stroke-width="1.9" opacity="0.85"/>
<path d="M123.5 200.5l2.9 -1.4M136.1 202.2l3.5 -1.8M144.5 203.3l2.7 -1.4M148.7 203.9l3.5 -1.7M157.1 204.9l3.0 -1.5M165.5 205.9l2.7 -1.4M169.7 206.3l3.3 -1.6M182.3 207.5l2.8 -1.4M186.5 207.6l3.2 -1.6M190.7 207.3l3.5 -1.8M207.5 206.1l3.5 -1.7M224.3 205.0l2.7 -1.3M228.5 204.7l3.3 -1.7M232.7 204.4l3.5 -1.7M249.5 203.2l3.4 -1.7M253.7 203.1l3.1 -1.5M266.3 201.8l3.5 -1.7M270.5 201.2l3.0 -1.5M274.7 200.5l3.3 -1.7M278.9 199.8l3.2 -1.6M291.5 197.1l3.2 -1.6M299.9 195.0l3.4 -1.7M316.7 190.1l3.4 -1.7M320.9 188.8l3.6 -1.8M118.6 202.9l2.6 -1.3M122.8 203.5l3.0 -1.5M127.0 204.1l2.9 -1.4M131.2 204.6l3.3 -1.7M135.4 205.2l3.1 -1.6M143.8 206.3l3.6 -1.8M148.0 206.9l3.0 -1.5M156.4 207.9l2.9 -1.5M160.6 208.4l3.6 -1.8M169.0 209.4l3.1 -1.6M173.2 209.8l2.6 -1.3M177.4 210.2l3.3 -1.7M181.6 210.6l2.9 -1.4M185.8 210.7l2.7 -1.3M190.0 210.5l2.7 -1.3M198.4 209.9l3.3 -1.7M202.6 209.6l3.0 -1.5M206.8 209.3l2.9 -1.4M211.0 209.0l3.4 -1.7M215.2 208.7l2.8 -1.4M219.4 208.4l3.1 -1.5M223.6 208.1l3.1 -1.6M227.8 207.8l3.1 -1.6M232.0 207.5l3.3 -1.7M244.6 206.7l3.5 -1.7M253.0 206.2l3.6 -1.8M261.4 205.5l3.4 -1.7M265.6 205.0l3.2 -1.6M274.0 203.8l3.4 -1.7M282.4 202.2l3.6 -1.8M290.8 200.3l2.6 -1.3M295.0 199.3l3.3 -1.6M311.8 194.7l2.8 -1.4M316.0 193.4l3.0 -1.5M324.4 190.7l3.4 -1.7M120.1 206.2l3.1 -1.6M141.1 209.1l3.2 -1.6M149.5 210.2l2.7 -1.4M166.3 212.2l3.5 -1.8M178.9 213.4l2.9 -1.5M183.1 213.8l3.1 -1.5M187.3 213.7l3.2 -1.6M208.3 212.3l3.4 -1.7M225.1 211.1l2.9 -1.4M229.3 210.8l3.4 -1.7M254.5 209.2l2.7 -1.3M275.5 206.6l3.5 -1.7M279.7 205.8l2.7 -1.3M288.1 204.1l3.3 -1.7M296.5 202.1l3.0 -1.5M317.5 196.1l2.9 -1.5M338.5 188.9l3.2 -1.6" stroke-width="1.1" opacity="0.80"/>
<path d="M217 44l3.5 2.2M226.5 46.8l3 -1.6M219.5 47.6l4 1.8M224.5 45l1.5 1" stroke-width="1.2" opacity="0.8"/>
<path d="M272 190.5l6 -2.5M270 193.5l9 -3" stroke-width="1.6" opacity="0.85"/>
</g>
<g clip-path="url(#secA)" stroke="#fff" stroke-width="0.7" opacity="0.8"><path d="M229 227L221 210M229 227L225.5 206M229 227L231 212M229 227L237 214M229 227L244 218M229 227L213 217"/></g>
<rect x="50.5" y="31.5" width="346.0" height="193.0" fill="none" stroke="#303030" stroke-width="1" shape-rendering="crispEdges"/>
<path d="M83.0 224.5v-3.5M83.0 31.0v3.5M153.0 224.5v-3.5M153.0 31.0v3.5M223.0 224.5v-3.5M223.0 31.0v3.5M293.0 224.5v-3.5M293.0 31.0v3.5M363.0 224.5v-3.5M363.0 31.0v3.5M50.5 102.0h3.5M396.5 102.0h-3.5M50.5 172.0h3.5M396.5 172.0h-3.5" stroke="#303030" stroke-width="1" fill="none" shape-rendering="crispEdges"/>
<text x="82.5" y="247" font-size="16" text-anchor="middle">-10</text>
<text x="152.5" y="247" font-size="16" text-anchor="middle">-5</text>
<text x="223.0" y="247" font-size="16" text-anchor="middle">0</text>
<text x="293.0" y="247" font-size="16" text-anchor="middle">5</text>
<text x="363.0" y="247" font-size="16" text-anchor="middle">10</text>
<text x="44.5" y="37.5" font-size="16" text-anchor="end">0</text>
<text x="44.5" y="107.5" font-size="16" text-anchor="end">5</text>
<text x="44.5" y="177.5" font-size="16" text-anchor="end">10</text>
<text x="222" y="270.6" font-size="18.5" text-anchor="middle">Horizon Range (m)</text>
<text transform="translate(19.3 128) rotate(-90)" font-size="18.5" text-anchor="middle">Depth (m)</text>
<text x="16" y="19" font-size="16.5">(b)</text>
<rect x="413" y="35.5" width="13.5" height="177" fill="url(#cb)" stroke="#303030" stroke-width="1"/>
<text x="419.5" y="26" font-size="16" text-anchor="middle">dB</text>
<text x="433" y="42.0" font-size="16">0</text>
<text x="433" y="95.8" font-size="16">-20</text>
<text x="433" y="150.6" font-size="16">-40</text>
<text x="433" y="205.4" font-size="16">-60</text>
<rect x="267" y="90.0" width="21" height="27" rx="1.5" fill="none" stroke="#1a1a1a" stroke-width="1.1"/>
<rect x="138" y="188" width="20.5" height="27" rx="0.5" fill="none" stroke="#1a1a1a" stroke-width="1.1"/>
<g shape-rendering="crispEdges">
<path fill="#1179fc" d="M138.00 60.60h3.05v3.06h-3.05z"/>
<path fill="#0880f8" d="M132.00 60.60h3.05v3.06h-3.05z"/>
<path fill="#0188f3" d="M81.00 48.55h3.05v3.06h-3.05zM99.00 54.58h3.05v3.06h-3.05zM132.00 63.61h3.05v3.06h-3.05z"/>
<path fill="#0093ee" d="M72.00 36.50h3.05v3.06h-3.05zM126.00 36.50h3.05v3.06h-3.05zM138.00 63.61h3.05v3.06h-3.05zM114.00 84.70h6.05v3.06h-6.05z"/>
<path fill="#009dea" d="M129.00 36.50h3.05v3.06h-3.05zM102.00 54.58h3.05v3.06h-3.05zM102.00 57.59h3.05v3.06h-3.05zM108.00 81.69h3.05v3.06h-3.05z"/>
<path fill="#00a7e5" d="M126.00 39.51h3.05v3.06h-3.05zM126.00 42.52h3.05v3.06h-3.05zM81.00 45.54h3.05v3.06h-3.05zM84.00 48.55h9.05v3.06h-9.05zM141.00 60.60h3.05v3.06h-3.05zM72.00 66.62h3.05v3.06h-3.05z"/>
<path fill="#00b1de" d="M63.00 36.50h3.05v3.06h-3.05zM69.00 36.50h3.05v3.06h-3.05zM132.00 36.50h6.05v3.06h-6.05zM84.00 45.54h3.05v3.06h-3.05zM93.00 45.54h3.05v3.06h-3.05zM105.00 57.59h3.05v3.06h-3.05zM99.00 60.60h3.05v3.06h-3.05zM135.00 63.61h3.05v3.06h-3.05zM138.00 78.68h9.05v3.06h-9.05z"/>
<path fill="#00b9d6" d="M105.00 36.50h3.05v3.06h-3.05zM87.00 45.54h3.05v3.06h-3.05zM111.00 48.55h3.05v3.06h-3.05zM96.00 54.58h3.05v3.06h-3.05zM129.00 54.58h3.05v3.06h-3.05zM138.00 57.59h3.05v3.06h-3.05zM102.00 60.60h6.05v3.06h-6.05zM129.00 60.60h3.05v3.06h-3.05zM135.00 60.60h3.05v3.06h-3.05zM105.00 63.61h3.05v3.06h-3.05zM75.00 66.62h3.05v3.06h-3.05zM132.00 66.62h3.05v3.06h-3.05zM72.00 69.64h3.05v3.06h-3.05zM75.00 87.71h3.05v3.06h-3.05zM63.00 153.99h3.05v3.06h-3.05z"/>
<path fill="#00bfcc" d="M66.00 36.50h3.05v3.06h-3.05zM75.00 36.50h3.05v3.06h-3.05zM87.00 42.52h3.05v3.06h-3.05zM93.00 42.52h3.05v3.06h-3.05zM78.00 48.55h3.05v3.06h-3.05zM81.00 51.56h3.05v3.06h-3.05zM102.00 51.56h3.05v3.06h-3.05zM105.00 54.58h3.05v3.06h-3.05zM126.00 54.58h3.05v3.06h-3.05zM66.00 57.59h3.05v3.06h-3.05zM99.00 57.59h3.05v3.06h-3.05zM66.00 60.60h3.05v3.06h-3.05zM66.00 63.61h3.05v3.06h-3.05zM129.00 63.61h3.05v3.06h-3.05zM102.00 81.69h6.05v3.06h-6.05zM114.00 81.69h3.05v3.06h-3.05zM141.00 81.69h3.05v3.06h-3.05z"/>
<path fill="#00c3c2" d="M60.00 36.50h3.05v3.06h-3.05zM54.00 39.51h3.05v3.06h-3.05zM129.00 39.51h3.05v3.06h-3.05zM147.00 39.51h3.05v3.06h-3.05zM90.00 45.54h3.05v3.06h-3.05zM144.00 45.54h3.05v3.06h-3.05zM93.00 48.55h3.05v3.06h-3.05zM54.00 51.56h6.05v3.06h-6.05zM54.00 54.58h3.05v3.06h-3.05zM120.00 54.58h3.05v3.06h-3.05zM96.00 57.59h3.05v3.06h-3.05zM108.00 57.59h3.05v3.06h-3.05zM120.00 57.59h3.05v3.06h-3.05zM75.00 63.61h3.05v3.06h-3.05zM81.00 63.61h3.05v3.06h-3.05zM99.00 63.61h6.05v3.06h-6.05zM138.00 66.62h3.05v3.06h-3.05zM78.00 81.69h9.05v3.06h-9.05zM120.00 84.70h3.05v3.06h-3.05zM66.00 153.99h3.05v3.06h-3.05z"/>
<path fill="#02c6b5" d="M138.00 36.50h3.05v3.06h-3.05zM63.00 39.51h3.05v3.06h-3.05zM138.00 39.51h3.05v3.06h-3.05zM144.00 39.51h3.05v3.06h-3.05zM120.00 42.52h6.05v3.06h-6.05zM138.00 42.52h3.05v3.06h-3.05zM144.00 42.52h3.05v3.06h-3.05zM102.00 48.55h3.05v3.06h-3.05zM108.00 48.55h3.05v3.06h-3.05zM78.00 51.56h3.05v3.06h-3.05zM99.00 51.56h3.05v3.06h-3.05zM105.00 51.56h6.05v3.06h-6.05zM129.00 51.56h3.05v3.06h-3.05zM57.00 54.58h3.05v3.06h-3.05zM108.00 54.58h3.05v3.06h-3.05zM123.00 54.58h3.05v3.06h-3.05zM138.00 54.58h3.05v3.06h-3.05zM144.00 54.58h3.05v3.06h-3.05zM117.00 57.59h3.05v3.06h-3.05zM126.00 57.59h3.05v3.06h-3.05zM141.00 57.59h3.05v3.06h-3.05zM78.00 60.60h3.05v3.06h-3.05zM108.00 60.60h3.05v3.06h-3.05zM78.00 63.61h3.05v3.06h-3.05zM69.00 66.62h3.05v3.06h-3.05zM78.00 66.62h3.05v3.06h-3.05zM144.00 66.62h3.05v3.06h-3.05zM69.00 69.64h3.05v3.06h-3.05zM75.00 69.64h3.05v3.06h-3.05zM147.00 72.65h3.05v3.06h-3.05zM72.00 75.66h3.05v3.06h-3.05zM138.00 75.66h3.05v3.06h-3.05zM84.00 78.68h3.05v3.06h-3.05zM147.00 78.68h3.05v3.06h-3.05zM111.00 81.69h3.05v3.06h-3.05zM117.00 81.69h3.05v3.06h-3.05zM138.00 81.69h3.05v3.06h-3.05zM144.00 81.69h3.05v3.06h-3.05zM111.00 84.70h3.05v3.06h-3.05zM123.00 84.70h6.05v3.06h-6.05zM123.00 87.71h3.05v3.06h-3.05zM72.00 93.74h3.05v3.06h-3.05zM60.00 153.99h3.05v3.06h-3.05zM129.00 153.99h3.05v3.06h-3.05z"/>
<path fill="#0bc4a9" d="M78.00 36.50h3.05v3.06h-3.05zM60.00 39.51h3.05v3.06h-3.05zM66.00 39.51h3.05v3.06h-3.05zM90.00 42.52h3.05v3.06h-3.05zM117.00 42.52h3.05v3.06h-3.05zM54.00 45.54h3.05v3.06h-3.05zM147.00 45.54h3.05v3.06h-3.05zM54.00 48.55h3.05v3.06h-3.05zM99.00 48.55h3.05v3.06h-3.05zM114.00 48.55h3.05v3.06h-3.05zM126.00 48.55h3.05v3.06h-3.05zM75.00 51.56h3.05v3.06h-3.05zM147.00 51.56h3.05v3.06h-3.05zM78.00 54.58h3.05v3.06h-3.05zM114.00 54.58h6.05v3.06h-6.05zM135.00 54.58h3.05v3.06h-3.05zM141.00 54.58h3.05v3.06h-3.05zM78.00 57.59h3.05v3.06h-3.05zM129.00 57.59h3.05v3.06h-3.05zM69.00 60.60h3.05v3.06h-3.05zM126.00 60.60h3.05v3.06h-3.05zM69.00 63.61h3.05v3.06h-3.05zM108.00 63.61h3.05v3.06h-3.05zM126.00 63.61h3.05v3.06h-3.05zM126.00 66.62h6.05v3.06h-6.05zM144.00 69.64h6.05v3.06h-6.05zM72.00 72.65h3.05v3.06h-3.05zM75.00 75.66h3.05v3.06h-3.05zM108.00 75.66h3.05v3.06h-3.05zM132.00 75.66h6.05v3.06h-6.05zM54.00 78.68h3.05v3.06h-3.05zM75.00 78.68h9.05v3.06h-9.05zM102.00 78.68h6.05v3.06h-6.05zM132.00 78.68h6.05v3.06h-6.05zM147.00 81.69h3.05v3.06h-3.05zM108.00 84.70h3.05v3.06h-3.05zM75.00 90.72h3.05v3.06h-3.05zM126.00 90.72h3.05v3.06h-3.05zM132.00 90.72h3.05v3.06h-3.05zM81.00 93.74h3.05v3.06h-3.05zM81.00 96.75h3.05v3.06h-3.05zM90.00 99.76h3.05v3.06h-3.05zM90.00 144.95h3.05v3.06h-3.05zM63.00 150.98h3.05v3.06h-3.05zM141.00 150.98h3.05v3.06h-3.05zM57.00 153.99h3.05v3.06h-3.05z"/>
<path fill="#0fc19f" d="M81.00 36.50h3.05v3.06h-3.05zM102.00 36.50h3.05v3.06h-3.05zM108.00 36.50h3.05v3.06h-3.05zM114.00 36.50h3.05v3.06h-3.05zM123.00 36.50h3.05v3.06h-3.05zM57.00 39.51h3.05v3.06h-3.05zM69.00 39.51h3.05v3.06h-3.05zM75.00 39.51h3.05v3.06h-3.05zM84.00 42.52h3.05v3.06h-3.05zM129.00 42.52h3.05v3.06h-3.05zM135.00 42.52h3.05v3.06h-3.05zM147.00 42.52h3.05v3.06h-3.05zM75.00 45.54h3.05v3.06h-3.05zM96.00 45.54h3.05v3.06h-3.05zM108.00 45.54h3.05v3.06h-3.05zM141.00 45.54h3.05v3.06h-3.05zM105.00 48.55h3.05v3.06h-3.05zM120.00 48.55h6.05v3.06h-6.05zM132.00 48.55h6.05v3.06h-6.05zM144.00 48.55h6.05v3.06h-6.05zM72.00 51.56h3.05v3.06h-3.05zM84.00 51.56h3.05v3.06h-3.05zM126.00 51.56h3.05v3.06h-3.05zM132.00 51.56h6.05v3.06h-6.05zM144.00 51.56h3.05v3.06h-3.05zM132.00 54.58h3.05v3.06h-3.05zM63.00 57.59h3.05v3.06h-3.05zM69.00 57.59h9.05v3.06h-9.05zM114.00 57.59h3.05v3.06h-3.05zM132.00 57.59h6.05v3.06h-6.05zM72.00 60.60h3.05v3.06h-3.05zM81.00 60.60h3.05v3.06h-3.05zM90.00 60.60h3.05v3.06h-3.05zM111.00 60.60h3.05v3.06h-3.05zM117.00 60.60h6.05v3.06h-6.05zM144.00 60.60h3.05v3.06h-3.05zM63.00 63.61h3.05v3.06h-3.05zM72.00 63.61h3.05v3.06h-3.05zM84.00 63.61h3.05v3.06h-3.05zM93.00 63.61h3.05v3.06h-3.05zM111.00 63.61h3.05v3.06h-3.05zM141.00 63.61h3.05v3.06h-3.05zM63.00 66.62h3.05v3.06h-3.05zM81.00 66.62h6.05v3.06h-6.05zM135.00 66.62h3.05v3.06h-3.05zM147.00 66.62h3.05v3.06h-3.05zM66.00 69.64h3.05v3.06h-3.05zM138.00 72.65h3.05v3.06h-3.05zM144.00 72.65h3.05v3.06h-3.05zM69.00 75.66h3.05v3.06h-3.05zM102.00 75.66h6.05v3.06h-6.05zM111.00 75.66h3.05v3.06h-3.05zM144.00 75.66h3.05v3.06h-3.05zM108.00 78.68h9.05v3.06h-9.05zM54.00 81.69h3.05v3.06h-3.05zM90.00 81.69h3.05v3.06h-3.05zM129.00 84.70h3.05v3.06h-3.05zM66.00 87.71h3.05v3.06h-3.05zM72.00 87.71h3.05v3.06h-3.05zM78.00 87.71h3.05v3.06h-3.05zM114.00 87.71h6.05v3.06h-6.05zM126.00 87.71h3.05v3.06h-3.05zM54.00 90.72h3.05v3.06h-3.05zM72.00 90.72h3.05v3.06h-3.05zM78.00 90.72h6.05v3.06h-6.05zM141.00 93.74h9.05v3.06h-9.05zM72.00 96.75h9.05v3.06h-9.05zM105.00 99.76h3.05v3.06h-3.05zM57.00 147.96h6.05v3.06h-6.05zM66.00 147.96h3.05v3.06h-3.05zM57.00 150.98h3.05v3.06h-3.05zM87.00 150.98h6.05v3.06h-6.05zM126.00 150.98h3.05v3.06h-3.05zM54.00 153.99h3.05v3.06h-3.05zM69.00 153.99h6.05v3.06h-6.05zM147.00 153.99h3.05v3.06h-3.05z"/>
<path fill="#10c092" d="M54.00 36.50h6.05v3.06h-6.05zM84.00 36.50h3.05v3.06h-3.05zM99.00 36.50h3.05v3.06h-3.05zM111.00 36.50h3.05v3.06h-3.05zM117.00 36.50h6.05v3.06h-6.05zM144.00 36.50h3.05v3.06h-3.05zM72.00 39.51h3.05v3.06h-3.05zM78.00 39.51h6.05v3.06h-6.05zM87.00 39.51h3.05v3.06h-3.05zM54.00 42.52h3.05v3.06h-3.05zM81.00 42.52h3.05v3.06h-3.05zM99.00 42.52h9.05v3.06h-9.05zM114.00 42.52h3.05v3.06h-3.05zM141.00 42.52h3.05v3.06h-3.05zM57.00 45.54h3.05v3.06h-3.05zM78.00 45.54h3.05v3.06h-3.05zM99.00 45.54h9.05v3.06h-9.05zM111.00 45.54h18.05v3.06h-18.05zM135.00 45.54h3.05v3.06h-3.05zM57.00 48.55h3.05v3.06h-3.05zM75.00 48.55h3.05v3.06h-3.05zM96.00 48.55h3.05v3.06h-3.05zM117.00 48.55h3.05v3.06h-3.05zM129.00 48.55h3.05v3.06h-3.05zM138.00 48.55h6.05v3.06h-6.05zM60.00 51.56h3.05v3.06h-3.05zM66.00 51.56h3.05v3.06h-3.05zM87.00 51.56h6.05v3.06h-6.05zM96.00 51.56h3.05v3.06h-3.05zM111.00 51.56h3.05v3.06h-3.05zM138.00 51.56h6.05v3.06h-6.05zM60.00 54.58h9.05v3.06h-9.05zM75.00 54.58h3.05v3.06h-3.05zM81.00 54.58h3.05v3.06h-3.05zM90.00 54.58h6.05v3.06h-6.05zM111.00 54.58h3.05v3.06h-3.05zM147.00 54.58h3.05v3.06h-3.05zM57.00 57.59h3.05v3.06h-3.05zM81.00 57.59h6.05v3.06h-6.05zM93.00 57.59h3.05v3.06h-3.05zM111.00 57.59h3.05v3.06h-3.05zM123.00 57.59h3.05v3.06h-3.05zM144.00 57.59h3.05v3.06h-3.05zM54.00 60.60h6.05v3.06h-6.05zM63.00 60.60h3.05v3.06h-3.05zM75.00 60.60h3.05v3.06h-3.05zM87.00 60.60h3.05v3.06h-3.05zM93.00 60.60h6.05v3.06h-6.05zM147.00 60.60h3.05v3.06h-3.05zM87.00 63.61h6.05v3.06h-6.05zM144.00 63.61h3.05v3.06h-3.05zM54.00 66.62h3.05v3.06h-3.05zM60.00 66.62h3.05v3.06h-3.05zM66.00 66.62h3.05v3.06h-3.05zM93.00 66.62h6.05v3.06h-6.05zM105.00 66.62h3.05v3.06h-3.05zM123.00 66.62h3.05v3.06h-3.05zM141.00 66.62h3.05v3.06h-3.05zM54.00 69.64h3.05v3.06h-3.05zM63.00 69.64h3.05v3.06h-3.05zM78.00 69.64h3.05v3.06h-3.05zM84.00 69.64h3.05v3.06h-3.05zM102.00 69.64h6.05v3.06h-6.05zM138.00 69.64h3.05v3.06h-3.05zM69.00 72.65h3.05v3.06h-3.05zM117.00 72.65h3.05v3.06h-3.05zM126.00 72.65h3.05v3.06h-3.05zM66.00 75.66h3.05v3.06h-3.05zM84.00 75.66h3.05v3.06h-3.05zM114.00 75.66h6.05v3.06h-6.05zM123.00 75.66h3.05v3.06h-3.05zM129.00 75.66h3.05v3.06h-3.05zM141.00 75.66h3.05v3.06h-3.05zM72.00 78.68h3.05v3.06h-3.05zM123.00 78.68h3.05v3.06h-3.05zM129.00 78.68h3.05v3.06h-3.05zM75.00 81.69h3.05v3.06h-3.05zM87.00 81.69h3.05v3.06h-3.05zM120.00 81.69h3.05v3.06h-3.05zM129.00 81.69h3.05v3.06h-3.05zM135.00 81.69h3.05v3.06h-3.05zM75.00 84.70h9.05v3.06h-9.05zM105.00 84.70h3.05v3.06h-3.05zM138.00 84.70h3.05v3.06h-3.05zM144.00 84.70h6.05v3.06h-6.05zM54.00 87.71h6.05v3.06h-6.05zM111.00 87.71h3.05v3.06h-3.05zM129.00 87.71h3.05v3.06h-3.05zM135.00 87.71h3.05v3.06h-3.05zM147.00 87.71h3.05v3.06h-3.05zM60.00 90.72h3.05v3.06h-3.05zM87.00 90.72h3.05v3.06h-3.05zM114.00 90.72h3.05v3.06h-3.05zM120.00 90.72h6.05v3.06h-6.05zM129.00 90.72h3.05v3.06h-3.05zM54.00 93.74h3.05v3.06h-3.05zM69.00 93.74h3.05v3.06h-3.05zM93.00 93.74h6.05v3.06h-6.05zM93.00 99.76h6.05v3.06h-6.05zM57.00 102.78h3.05v3.06h-3.05zM72.00 102.78h3.05v3.06h-3.05zM105.00 135.91h3.05v3.06h-3.05zM120.00 135.91h6.05v3.06h-6.05zM93.00 138.93h3.05v3.06h-3.05zM102.00 138.93h3.05v3.06h-3.05zM105.00 141.94h3.05v3.06h-3.05zM81.00 144.95h3.05v3.06h-3.05zM63.00 147.96h3.05v3.06h-3.05zM60.00 150.98h3.05v3.06h-3.05zM69.00 150.98h3.05v3.06h-3.05zM84.00 150.98h3.05v3.06h-3.05zM93.00 150.98h3.05v3.06h-3.05zM132.00 150.98h9.05v3.06h-9.05zM135.00 153.99h3.05v3.06h-3.05zM144.00 153.99h3.05v3.06h-3.05z"/>
<path fill="#11c383" d="M87.00 36.50h3.05v3.06h-3.05zM96.00 36.50h3.05v3.06h-3.05zM141.00 36.50h3.05v3.06h-3.05zM147.00 36.50h3.05v3.06h-3.05zM84.00 39.51h3.05v3.06h-3.05zM93.00 39.51h6.05v3.06h-6.05zM105.00 39.51h6.05v3.06h-6.05zM114.00 39.51h12.05v3.06h-12.05zM132.00 39.51h6.05v3.06h-6.05zM141.00 39.51h3.05v3.06h-3.05zM57.00 42.52h3.05v3.06h-3.05zM96.00 42.52h3.05v3.06h-3.05zM108.00 42.52h6.05v3.06h-6.05zM132.00 42.52h3.05v3.06h-3.05zM60.00 45.54h3.05v3.06h-3.05zM129.00 45.54h3.05v3.06h-3.05zM138.00 45.54h3.05v3.06h-3.05zM60.00 48.55h3.05v3.06h-3.05zM72.00 48.55h3.05v3.06h-3.05zM63.00 51.56h3.05v3.06h-3.05zM69.00 51.56h3.05v3.06h-3.05zM93.00 51.56h3.05v3.06h-3.05zM114.00 51.56h12.05v3.06h-12.05zM69.00 54.58h6.05v3.06h-6.05zM87.00 54.58h3.05v3.06h-3.05zM54.00 57.59h3.05v3.06h-3.05zM60.00 57.59h3.05v3.06h-3.05zM87.00 57.59h6.05v3.06h-6.05zM60.00 60.60h3.05v3.06h-3.05zM84.00 60.60h3.05v3.06h-3.05zM114.00 60.60h3.05v3.06h-3.05zM60.00 63.61h3.05v3.06h-3.05zM96.00 63.61h3.05v3.06h-3.05zM114.00 63.61h3.05v3.06h-3.05zM120.00 63.61h3.05v3.06h-3.05zM147.00 63.61h3.05v3.06h-3.05zM87.00 66.62h6.05v3.06h-6.05zM99.00 66.62h6.05v3.06h-6.05zM81.00 69.64h3.05v3.06h-3.05zM90.00 69.64h3.05v3.06h-3.05zM96.00 69.64h6.05v3.06h-6.05zM108.00 69.64h3.05v3.06h-3.05zM117.00 69.64h3.05v3.06h-3.05zM54.00 72.65h3.05v3.06h-3.05zM75.00 72.65h12.05v3.06h-12.05zM102.00 72.65h15.05v3.06h-15.05zM120.00 72.65h3.05v3.06h-3.05zM129.00 72.65h3.05v3.06h-3.05zM135.00 72.65h3.05v3.06h-3.05zM57.00 75.66h3.05v3.06h-3.05zM63.00 75.66h3.05v3.06h-3.05zM78.00 75.66h6.05v3.06h-6.05zM93.00 75.66h3.05v3.06h-3.05zM99.00 75.66h3.05v3.06h-3.05zM126.00 75.66h3.05v3.06h-3.05zM147.00 75.66h3.05v3.06h-3.05zM57.00 78.68h6.05v3.06h-6.05zM87.00 78.68h3.05v3.06h-3.05zM99.00 78.68h3.05v3.06h-3.05zM117.00 78.68h6.05v3.06h-6.05zM126.00 78.68h3.05v3.06h-3.05zM57.00 81.69h3.05v3.06h-3.05zM99.00 81.69h3.05v3.06h-3.05zM123.00 81.69h6.05v3.06h-6.05zM54.00 84.70h3.05v3.06h-3.05zM66.00 84.70h6.05v3.06h-6.05zM84.00 84.70h3.05v3.06h-3.05zM102.00 84.70h3.05v3.06h-3.05zM132.00 84.70h6.05v3.06h-6.05zM141.00 84.70h3.05v3.06h-3.05zM60.00 87.71h6.05v3.06h-6.05zM84.00 87.71h3.05v3.06h-3.05zM120.00 87.71h3.05v3.06h-3.05zM138.00 87.71h9.05v3.06h-9.05zM90.00 90.72h3.05v3.06h-3.05zM117.00 90.72h3.05v3.06h-3.05zM135.00 90.72h3.05v3.06h-3.05zM75.00 93.74h3.05v3.06h-3.05zM90.00 93.74h3.05v3.06h-3.05zM99.00 93.74h3.05v3.06h-3.05zM105.00 93.74h6.05v3.06h-6.05zM123.00 93.74h3.05v3.06h-3.05zM138.00 93.74h3.05v3.06h-3.05zM60.00 96.75h3.05v3.06h-3.05zM69.00 99.76h3.05v3.06h-3.05zM99.00 99.76h6.05v3.06h-6.05zM111.00 99.76h3.05v3.06h-3.05zM63.00 102.78h3.05v3.06h-3.05zM111.00 102.78h3.05v3.06h-3.05zM135.00 132.90h3.05v3.06h-3.05zM96.00 135.91h6.05v3.06h-6.05zM108.00 135.91h3.05v3.06h-3.05zM126.00 135.91h3.05v3.06h-3.05zM102.00 141.94h3.05v3.06h-3.05zM111.00 141.94h3.05v3.06h-3.05zM87.00 144.95h3.05v3.06h-3.05zM129.00 144.95h3.05v3.06h-3.05zM138.00 144.95h3.05v3.06h-3.05zM54.00 147.96h3.05v3.06h-3.05zM69.00 147.96h3.05v3.06h-3.05zM144.00 147.96h6.05v3.06h-6.05zM81.00 150.98h3.05v3.06h-3.05zM129.00 150.98h3.05v3.06h-3.05zM144.00 150.98h3.05v3.06h-3.05zM108.00 153.99h3.05v3.06h-3.05zM132.00 153.99h3.05v3.06h-3.05zM138.00 153.99h6.05v3.06h-6.05z"/>
<path fill="#15c573" d="M90.00 36.50h6.05v3.06h-6.05zM90.00 39.51h3.05v3.06h-3.05zM99.00 39.51h6.05v3.06h-6.05zM111.00 39.51h3.05v3.06h-3.05zM60.00 42.52h9.05v3.06h-9.05zM72.00 42.52h6.05v3.06h-6.05zM63.00 45.54h6.05v3.06h-6.05zM72.00 45.54h3.05v3.06h-3.05zM132.00 45.54h3.05v3.06h-3.05zM66.00 48.55h3.05v3.06h-3.05zM147.00 57.59h3.05v3.06h-3.05zM123.00 60.60h3.05v3.06h-3.05zM54.00 63.61h6.05v3.06h-6.05zM123.00 63.61h3.05v3.06h-3.05zM57.00 66.62h3.05v3.06h-3.05zM108.00 66.62h3.05v3.06h-3.05zM114.00 66.62h9.05v3.06h-9.05zM60.00 69.64h3.05v3.06h-3.05zM87.00 69.64h3.05v3.06h-3.05zM93.00 69.64h3.05v3.06h-3.05zM111.00 69.64h3.05v3.06h-3.05zM120.00 69.64h18.05v3.06h-18.05zM141.00 69.64h3.05v3.06h-3.05zM57.00 72.65h12.05v3.06h-12.05zM87.00 72.65h12.05v3.06h-12.05zM123.00 72.65h3.05v3.06h-3.05zM132.00 72.65h3.05v3.06h-3.05zM141.00 72.65h3.05v3.06h-3.05zM60.00 75.66h3.05v3.06h-3.05zM90.00 75.66h3.05v3.06h-3.05zM96.00 75.66h3.05v3.06h-3.05zM120.00 75.66h3.05v3.06h-3.05zM63.00 78.68h3.05v3.06h-3.05zM93.00 78.68h6.05v3.06h-6.05zM66.00 81.69h9.05v3.06h-9.05zM93.00 81.69h6.05v3.06h-6.05zM132.00 81.69h3.05v3.06h-3.05zM57.00 84.70h6.05v3.06h-6.05zM72.00 84.70h3.05v3.06h-3.05zM90.00 84.70h3.05v3.06h-3.05zM96.00 84.70h6.05v3.06h-6.05zM69.00 87.71h3.05v3.06h-3.05zM81.00 87.71h3.05v3.06h-3.05zM87.00 87.71h6.05v3.06h-6.05zM96.00 87.71h3.05v3.06h-3.05zM108.00 87.71h3.05v3.06h-3.05zM132.00 87.71h3.05v3.06h-3.05zM57.00 90.72h3.05v3.06h-3.05zM84.00 90.72h3.05v3.06h-3.05zM99.00 90.72h3.05v3.06h-3.05zM63.00 93.74h6.05v3.06h-6.05zM78.00 93.74h3.05v3.06h-3.05zM84.00 93.74h3.05v3.06h-3.05zM102.00 93.74h3.05v3.06h-3.05zM54.00 96.75h3.05v3.06h-3.05zM69.00 96.75h3.05v3.06h-3.05zM84.00 96.75h3.05v3.06h-3.05zM90.00 96.75h3.05v3.06h-3.05zM105.00 96.75h6.05v3.06h-6.05zM54.00 99.76h3.05v3.06h-3.05zM84.00 99.76h3.05v3.06h-3.05zM108.00 99.76h3.05v3.06h-3.05zM66.00 102.78h6.05v3.06h-6.05zM75.00 102.78h3.05v3.06h-3.05zM108.00 102.78h3.05v3.06h-3.05zM117.00 102.78h9.05v3.06h-9.05zM78.00 135.91h3.05v3.06h-3.05zM102.00 135.91h3.05v3.06h-3.05zM114.00 135.91h3.05v3.06h-3.05zM69.00 138.93h3.05v3.06h-3.05zM75.00 138.93h3.05v3.06h-3.05zM96.00 138.93h6.05v3.06h-6.05zM108.00 138.93h3.05v3.06h-3.05zM63.00 144.95h3.05v3.06h-3.05zM84.00 144.95h3.05v3.06h-3.05zM93.00 144.95h3.05v3.06h-3.05zM126.00 144.95h3.05v3.06h-3.05zM132.00 144.95h3.05v3.06h-3.05zM75.00 147.96h3.05v3.06h-3.05zM114.00 147.96h3.05v3.06h-3.05zM138.00 147.96h3.05v3.06h-3.05zM66.00 150.98h3.05v3.06h-3.05zM78.00 150.98h3.05v3.06h-3.05zM96.00 150.98h3.05v3.06h-3.05zM111.00 150.98h6.05v3.06h-6.05zM75.00 153.99h3.05v3.06h-3.05zM105.00 153.99h3.05v3.06h-3.05zM114.00 153.99h6.05v3.06h-6.05zM126.00 153.99h3.05v3.06h-3.05z"/>
<path fill="#34cc5c" d="M69.00 42.52h3.05v3.06h-3.05zM78.00 42.52h3.05v3.06h-3.05zM69.00 45.54h3.05v3.06h-3.05zM63.00 48.55h3.05v3.06h-3.05zM69.00 48.55h3.05v3.06h-3.05zM84.00 54.58h3.05v3.06h-3.05zM117.00 63.61h3.05v3.06h-3.05zM111.00 66.62h3.05v3.06h-3.05zM57.00 69.64h3.05v3.06h-3.05zM114.00 69.64h3.05v3.06h-3.05zM99.00 72.65h3.05v3.06h-3.05zM54.00 75.66h3.05v3.06h-3.05zM87.00 75.66h3.05v3.06h-3.05zM66.00 78.68h6.05v3.06h-6.05zM90.00 78.68h3.05v3.06h-3.05zM60.00 81.69h6.05v3.06h-6.05zM63.00 84.70h3.05v3.06h-3.05zM87.00 84.70h3.05v3.06h-3.05zM93.00 84.70h3.05v3.06h-3.05zM93.00 87.71h3.05v3.06h-3.05zM93.00 90.72h3.05v3.06h-3.05zM105.00 90.72h3.05v3.06h-3.05zM111.00 90.72h3.05v3.06h-3.05zM138.00 90.72h3.05v3.06h-3.05zM147.00 90.72h3.05v3.06h-3.05zM57.00 93.74h6.05v3.06h-6.05zM111.00 93.74h6.05v3.06h-6.05zM129.00 93.74h6.05v3.06h-6.05zM57.00 96.75h3.05v3.06h-3.05zM63.00 96.75h6.05v3.06h-6.05zM102.00 96.75h3.05v3.06h-3.05zM111.00 96.75h3.05v3.06h-3.05zM129.00 96.75h6.05v3.06h-6.05zM63.00 99.76h6.05v3.06h-6.05zM72.00 99.76h3.05v3.06h-3.05zM78.00 99.76h6.05v3.06h-6.05zM132.00 99.76h3.05v3.06h-3.05zM138.00 99.76h3.05v3.06h-3.05zM132.00 102.78h3.05v3.06h-3.05zM138.00 102.78h3.05v3.06h-3.05zM114.00 129.89h3.05v3.06h-3.05zM141.00 129.89h3.05v3.06h-3.05zM84.00 132.90h3.05v3.06h-3.05zM90.00 132.90h3.05v3.06h-3.05zM84.00 135.91h3.05v3.06h-3.05zM93.00 135.91h3.05v3.06h-3.05zM129.00 135.91h3.05v3.06h-3.05zM135.00 135.91h3.05v3.06h-3.05zM72.00 138.93h3.05v3.06h-3.05zM84.00 138.93h3.05v3.06h-3.05zM105.00 138.93h3.05v3.06h-3.05zM141.00 138.93h3.05v3.06h-3.05zM66.00 141.94h3.05v3.06h-3.05zM90.00 141.94h3.05v3.06h-3.05zM96.00 141.94h3.05v3.06h-3.05zM114.00 141.94h3.05v3.06h-3.05zM54.00 144.95h3.05v3.06h-3.05zM60.00 144.95h3.05v3.06h-3.05zM69.00 144.95h6.05v3.06h-6.05zM123.00 144.95h3.05v3.06h-3.05zM141.00 144.95h3.05v3.06h-3.05zM111.00 147.96h3.05v3.06h-3.05zM135.00 147.96h3.05v3.06h-3.05zM72.00 150.98h6.05v3.06h-6.05zM99.00 150.98h3.05v3.06h-3.05zM120.00 150.98h3.05v3.06h-3.05zM147.00 150.98h3.05v3.06h-3.05zM78.00 153.99h3.05v3.06h-3.05zM102.00 153.99h3.05v3.06h-3.05zM111.00 153.99h3.05v3.06h-3.05zM120.00 153.99h6.05v3.06h-6.05z"/>
<path fill="#81d13b" d="M99.00 87.71h9.05v3.06h-9.05zM63.00 90.72h9.05v3.06h-9.05zM102.00 90.72h3.05v3.06h-3.05zM108.00 90.72h3.05v3.06h-3.05zM141.00 90.72h3.05v3.06h-3.05zM120.00 93.74h3.05v3.06h-3.05zM126.00 93.74h3.05v3.06h-3.05zM135.00 93.74h3.05v3.06h-3.05zM93.00 96.75h9.05v3.06h-9.05zM123.00 96.75h3.05v3.06h-3.05zM135.00 96.75h3.05v3.06h-3.05zM141.00 96.75h3.05v3.06h-3.05zM60.00 99.76h3.05v3.06h-3.05zM75.00 99.76h3.05v3.06h-3.05zM126.00 99.76h3.05v3.06h-3.05zM135.00 99.76h3.05v3.06h-3.05zM54.00 102.78h3.05v3.06h-3.05zM60.00 102.78h3.05v3.06h-3.05zM78.00 102.78h3.05v3.06h-3.05zM105.00 102.78h3.05v3.06h-3.05zM114.00 102.78h3.05v3.06h-3.05zM126.00 102.78h3.05v3.06h-3.05zM135.00 102.78h3.05v3.06h-3.05zM141.00 102.78h3.05v3.06h-3.05zM138.00 126.88h6.05v3.06h-6.05zM60.00 129.89h3.05v3.06h-3.05zM123.00 129.89h3.05v3.06h-3.05zM129.00 129.89h3.05v3.06h-3.05zM135.00 129.89h3.05v3.06h-3.05zM144.00 129.89h3.05v3.06h-3.05zM81.00 132.90h3.05v3.06h-3.05zM129.00 132.90h6.05v3.06h-6.05zM138.00 132.90h3.05v3.06h-3.05zM57.00 135.91h3.05v3.06h-3.05zM81.00 135.91h3.05v3.06h-3.05zM111.00 135.91h3.05v3.06h-3.05zM117.00 135.91h3.05v3.06h-3.05zM132.00 135.91h3.05v3.06h-3.05zM90.00 138.93h3.05v3.06h-3.05zM111.00 138.93h3.05v3.06h-3.05zM135.00 138.93h6.05v3.06h-6.05zM144.00 138.93h3.05v3.06h-3.05zM60.00 141.94h3.05v3.06h-3.05zM99.00 141.94h3.05v3.06h-3.05zM108.00 141.94h3.05v3.06h-3.05zM117.00 141.94h6.05v3.06h-6.05zM129.00 141.94h9.05v3.06h-9.05zM144.00 141.94h3.05v3.06h-3.05zM66.00 144.95h3.05v3.06h-3.05zM75.00 144.95h3.05v3.06h-3.05zM96.00 144.95h9.05v3.06h-9.05zM120.00 144.95h3.05v3.06h-3.05zM147.00 144.95h3.05v3.06h-3.05zM72.00 147.96h3.05v3.06h-3.05zM108.00 147.96h3.05v3.06h-3.05zM132.00 147.96h3.05v3.06h-3.05zM141.00 147.96h3.05v3.06h-3.05zM54.00 150.98h3.05v3.06h-3.05zM81.00 153.99h3.05v3.06h-3.05z"/>
<path fill="#9bcf28" d="M144.00 90.72h3.05v3.06h-3.05zM87.00 93.74h3.05v3.06h-3.05zM117.00 93.74h3.05v3.06h-3.05zM87.00 96.75h3.05v3.06h-3.05zM114.00 96.75h3.05v3.06h-3.05zM126.00 96.75h3.05v3.06h-3.05zM123.00 99.76h3.05v3.06h-3.05zM129.00 99.76h3.05v3.06h-3.05zM144.00 99.76h3.05v3.06h-3.05zM99.00 102.78h3.05v3.06h-3.05zM147.00 114.83h3.05v3.06h-3.05zM123.00 117.84h3.05v3.06h-3.05zM132.00 117.84h3.05v3.06h-3.05zM93.00 120.85h3.05v3.06h-3.05zM129.00 123.86h3.05v3.06h-3.05zM81.00 126.88h3.05v3.06h-3.05zM87.00 126.88h3.05v3.06h-3.05zM96.00 126.88h3.05v3.06h-3.05zM105.00 126.88h3.05v3.06h-3.05zM132.00 126.88h3.05v3.06h-3.05zM105.00 129.89h3.05v3.06h-3.05zM117.00 129.89h3.05v3.06h-3.05zM147.00 129.89h3.05v3.06h-3.05zM57.00 132.90h3.05v3.06h-3.05zM66.00 132.90h3.05v3.06h-3.05zM93.00 132.90h3.05v3.06h-3.05zM111.00 132.90h3.05v3.06h-3.05zM66.00 135.91h3.05v3.06h-3.05zM75.00 135.91h3.05v3.06h-3.05zM87.00 135.91h3.05v3.06h-3.05zM66.00 138.93h3.05v3.06h-3.05zM78.00 138.93h3.05v3.06h-3.05zM87.00 138.93h3.05v3.06h-3.05zM126.00 138.93h3.05v3.06h-3.05zM63.00 141.94h3.05v3.06h-3.05zM75.00 141.94h3.05v3.06h-3.05zM93.00 141.94h3.05v3.06h-3.05zM123.00 141.94h3.05v3.06h-3.05zM57.00 144.95h3.05v3.06h-3.05zM117.00 147.96h3.05v3.06h-3.05zM126.00 147.96h6.05v3.06h-6.05zM102.00 150.98h3.05v3.06h-3.05zM117.00 150.98h3.05v3.06h-3.05zM123.00 150.98h3.05v3.06h-3.05zM84.00 153.99h3.05v3.06h-3.05zM93.00 153.99h3.05v3.06h-3.05z"/>
<path fill="#b4cb18" d="M120.00 96.75h3.05v3.06h-3.05zM138.00 96.75h3.05v3.06h-3.05zM144.00 96.75h3.05v3.06h-3.05zM57.00 99.76h3.05v3.06h-3.05zM87.00 99.76h3.05v3.06h-3.05zM114.00 99.76h6.05v3.06h-6.05zM147.00 99.76h3.05v3.06h-3.05zM87.00 102.78h3.05v3.06h-3.05zM93.00 102.78h3.05v3.06h-3.05zM144.00 102.78h6.05v3.06h-6.05zM141.00 114.83h3.05v3.06h-3.05zM135.00 117.84h3.05v3.06h-3.05zM81.00 120.85h6.05v3.06h-6.05zM72.00 123.86h3.05v3.06h-3.05zM123.00 123.86h6.05v3.06h-6.05zM132.00 123.86h3.05v3.06h-3.05zM84.00 126.88h3.05v3.06h-3.05zM90.00 126.88h6.05v3.06h-6.05zM102.00 126.88h3.05v3.06h-3.05zM144.00 126.88h6.05v3.06h-6.05zM63.00 129.89h3.05v3.06h-3.05zM96.00 129.89h3.05v3.06h-3.05zM111.00 129.89h3.05v3.06h-3.05zM120.00 129.89h3.05v3.06h-3.05zM138.00 129.89h3.05v3.06h-3.05zM60.00 132.90h6.05v3.06h-6.05zM87.00 132.90h3.05v3.06h-3.05zM114.00 132.90h3.05v3.06h-3.05zM141.00 132.90h3.05v3.06h-3.05zM72.00 135.91h3.05v3.06h-3.05zM90.00 135.91h3.05v3.06h-3.05zM144.00 135.91h3.05v3.06h-3.05zM54.00 138.93h3.05v3.06h-3.05zM81.00 138.93h3.05v3.06h-3.05zM120.00 138.93h3.05v3.06h-3.05zM132.00 138.93h3.05v3.06h-3.05zM69.00 141.94h6.05v3.06h-6.05zM84.00 141.94h3.05v3.06h-3.05zM141.00 141.94h3.05v3.06h-3.05zM78.00 144.95h3.05v3.06h-3.05zM105.00 144.95h3.05v3.06h-3.05zM111.00 144.95h3.05v3.06h-3.05zM117.00 144.95h3.05v3.06h-3.05zM135.00 144.95h3.05v3.06h-3.05zM144.00 144.95h3.05v3.06h-3.05zM123.00 147.96h3.05v3.06h-3.05zM105.00 150.98h6.05v3.06h-6.05zM99.00 153.99h3.05v3.06h-3.05z"/>
<path fill="#cbc70b" d="M96.00 90.72h3.05v3.06h-3.05zM117.00 96.75h3.05v3.06h-3.05zM141.00 99.76h3.05v3.06h-3.05zM81.00 102.78h6.05v3.06h-6.05zM96.00 102.78h3.05v3.06h-3.05zM102.00 102.78h3.05v3.06h-3.05zM129.00 102.78h3.05v3.06h-3.05zM63.00 105.79h3.05v3.06h-3.05zM129.00 114.83h3.05v3.06h-3.05zM144.00 114.83h3.05v3.06h-3.05zM60.00 120.85h3.05v3.06h-3.05zM87.00 120.85h3.05v3.06h-3.05zM147.00 120.85h3.05v3.06h-3.05zM63.00 123.86h6.05v3.06h-6.05zM102.00 123.86h3.05v3.06h-3.05zM75.00 126.88h6.05v3.06h-6.05zM129.00 126.88h3.05v3.06h-3.05zM135.00 126.88h3.05v3.06h-3.05zM69.00 129.89h3.05v3.06h-3.05zM99.00 129.89h6.05v3.06h-6.05zM108.00 129.89h3.05v3.06h-3.05zM126.00 129.89h3.05v3.06h-3.05zM132.00 129.89h3.05v3.06h-3.05zM54.00 132.90h3.05v3.06h-3.05zM78.00 132.90h3.05v3.06h-3.05zM96.00 132.90h6.05v3.06h-6.05zM105.00 132.90h3.05v3.06h-3.05zM117.00 132.90h3.05v3.06h-3.05zM126.00 132.90h3.05v3.06h-3.05zM144.00 132.90h6.05v3.06h-6.05zM60.00 135.91h3.05v3.06h-3.05zM138.00 135.91h6.05v3.06h-6.05zM57.00 138.93h3.05v3.06h-3.05zM63.00 138.93h3.05v3.06h-3.05zM114.00 138.93h3.05v3.06h-3.05zM123.00 138.93h3.05v3.06h-3.05zM129.00 138.93h3.05v3.06h-3.05zM54.00 141.94h3.05v3.06h-3.05zM126.00 141.94h3.05v3.06h-3.05zM108.00 144.95h3.05v3.06h-3.05zM78.00 147.96h3.05v3.06h-3.05zM105.00 147.96h3.05v3.06h-3.05zM120.00 147.96h3.05v3.06h-3.05zM87.00 153.99h3.05v3.06h-3.05zM96.00 153.99h3.05v3.06h-3.05z"/>
<path fill="#ddbf05" d="M147.00 96.75h3.05v3.06h-3.05zM120.00 99.76h3.05v3.06h-3.05zM90.00 102.78h3.05v3.06h-3.05zM57.00 105.79h3.05v3.06h-3.05zM66.00 105.79h3.05v3.06h-3.05zM72.00 105.79h3.05v3.06h-3.05zM96.00 105.79h9.05v3.06h-9.05zM132.00 108.80h3.05v3.06h-3.05zM141.00 108.80h3.05v3.06h-3.05zM135.00 114.83h6.05v3.06h-6.05zM96.00 117.84h3.05v3.06h-3.05zM126.00 117.84h6.05v3.06h-6.05zM141.00 117.84h3.05v3.06h-3.05zM90.00 120.85h3.05v3.06h-3.05zM96.00 120.85h3.05v3.06h-3.05zM60.00 123.86h3.05v3.06h-3.05zM57.00 126.88h6.05v3.06h-6.05zM72.00 126.88h3.05v3.06h-3.05zM123.00 126.88h6.05v3.06h-6.05zM54.00 129.89h3.05v3.06h-3.05zM78.00 129.89h6.05v3.06h-6.05zM87.00 129.89h3.05v3.06h-3.05zM93.00 129.89h3.05v3.06h-3.05zM120.00 132.90h3.05v3.06h-3.05zM54.00 135.91h3.05v3.06h-3.05zM60.00 138.93h3.05v3.06h-3.05zM117.00 138.93h3.05v3.06h-3.05zM147.00 138.93h3.05v3.06h-3.05zM57.00 141.94h3.05v3.06h-3.05zM78.00 141.94h3.05v3.06h-3.05zM138.00 141.94h3.05v3.06h-3.05zM114.00 144.95h3.05v3.06h-3.05zM84.00 147.96h6.05v3.06h-6.05zM96.00 147.96h3.05v3.06h-3.05zM102.00 147.96h3.05v3.06h-3.05z"/>
<path fill="#ecb808" d="M54.00 105.79h3.05v3.06h-3.05zM75.00 105.79h9.05v3.06h-9.05zM60.00 108.80h3.05v3.06h-3.05zM138.00 108.80h3.05v3.06h-3.05zM54.00 117.84h3.05v3.06h-3.05zM117.00 117.84h3.05v3.06h-3.05zM54.00 120.85h6.05v3.06h-6.05zM114.00 120.85h6.05v3.06h-6.05zM135.00 120.85h6.05v3.06h-6.05zM144.00 120.85h3.05v3.06h-3.05zM54.00 123.86h3.05v3.06h-3.05zM69.00 123.86h3.05v3.06h-3.05zM105.00 123.86h3.05v3.06h-3.05zM63.00 126.88h3.05v3.06h-3.05zM108.00 126.88h3.05v3.06h-3.05zM114.00 126.88h3.05v3.06h-3.05zM57.00 129.89h3.05v3.06h-3.05zM66.00 129.89h3.05v3.06h-3.05zM72.00 129.89h3.05v3.06h-3.05zM69.00 132.90h3.05v3.06h-3.05zM75.00 132.90h3.05v3.06h-3.05zM108.00 132.90h3.05v3.06h-3.05zM63.00 135.91h3.05v3.06h-3.05zM69.00 135.91h3.05v3.06h-3.05zM147.00 135.91h3.05v3.06h-3.05zM81.00 141.94h3.05v3.06h-3.05zM87.00 141.94h3.05v3.06h-3.05zM147.00 141.94h3.05v3.06h-3.05zM90.00 147.96h6.05v3.06h-6.05z"/>
<path fill="#fab414" d="M60.00 105.79h3.05v3.06h-3.05zM69.00 105.79h3.05v3.06h-3.05zM84.00 105.79h3.05v3.06h-3.05zM93.00 105.79h3.05v3.06h-3.05zM105.00 105.79h3.05v3.06h-3.05zM111.00 105.79h3.05v3.06h-3.05zM63.00 108.80h6.05v3.06h-6.05zM123.00 111.81h3.05v3.06h-3.05zM54.00 114.83h3.05v3.06h-3.05zM102.00 114.83h6.05v3.06h-6.05zM126.00 114.83h3.05v3.06h-3.05zM132.00 114.83h3.05v3.06h-3.05zM102.00 117.84h6.05v3.06h-6.05zM114.00 117.84h3.05v3.06h-3.05zM144.00 117.84h6.05v3.06h-6.05zM72.00 120.85h3.05v3.06h-3.05zM78.00 120.85h3.05v3.06h-3.05zM132.00 120.85h3.05v3.06h-3.05zM57.00 123.86h3.05v3.06h-3.05zM99.00 123.86h3.05v3.06h-3.05zM120.00 123.86h3.05v3.06h-3.05zM135.00 123.86h3.05v3.06h-3.05zM141.00 123.86h3.05v3.06h-3.05zM147.00 123.86h3.05v3.06h-3.05zM99.00 126.88h3.05v3.06h-3.05zM120.00 126.88h3.05v3.06h-3.05zM75.00 129.89h3.05v3.06h-3.05zM72.00 132.90h3.05v3.06h-3.05zM123.00 132.90h3.05v3.06h-3.05zM81.00 147.96h3.05v3.06h-3.05zM99.00 147.96h3.05v3.06h-3.05zM90.00 153.99h3.05v3.06h-3.05z"/>
<path fill="#ffb216" d="M87.00 105.79h3.05v3.06h-3.05zM108.00 105.79h3.05v3.06h-3.05zM117.00 105.79h6.05v3.06h-6.05zM54.00 108.80h3.05v3.06h-3.05zM60.00 114.83h3.05v3.06h-3.05zM108.00 114.83h6.05v3.06h-6.05zM90.00 117.84h3.05v3.06h-3.05zM99.00 117.84h3.05v3.06h-3.05zM120.00 117.84h3.05v3.06h-3.05zM138.00 117.84h3.05v3.06h-3.05zM75.00 120.85h3.05v3.06h-3.05zM99.00 120.85h6.05v3.06h-6.05zM123.00 120.85h6.05v3.06h-6.05zM78.00 123.86h6.05v3.06h-6.05zM108.00 123.86h3.05v3.06h-3.05zM117.00 123.86h3.05v3.06h-3.05zM138.00 123.86h3.05v3.06h-3.05zM144.00 123.86h3.05v3.06h-3.05zM54.00 126.88h3.05v3.06h-3.05zM69.00 126.88h3.05v3.06h-3.05zM84.00 129.89h3.05v3.06h-3.05zM90.00 129.89h3.05v3.06h-3.05zM102.00 132.90h3.05v3.06h-3.05z"/>
<path fill="#ffba0f" d="M90.00 105.79h3.05v3.06h-3.05zM114.00 105.79h3.05v3.06h-3.05zM123.00 105.79h3.05v3.06h-3.05zM57.00 108.80h3.05v3.06h-3.05zM123.00 108.80h3.05v3.06h-3.05zM129.00 108.80h3.05v3.06h-3.05zM135.00 108.80h3.05v3.06h-3.05zM102.00 111.81h3.05v3.06h-3.05zM63.00 114.83h3.05v3.06h-3.05zM69.00 114.83h3.05v3.06h-3.05zM96.00 114.83h6.05v3.06h-6.05zM57.00 117.84h6.05v3.06h-6.05zM84.00 117.84h6.05v3.06h-6.05zM93.00 117.84h3.05v3.06h-3.05zM63.00 120.85h3.05v3.06h-3.05zM69.00 120.85h3.05v3.06h-3.05zM120.00 120.85h3.05v3.06h-3.05zM129.00 120.85h3.05v3.06h-3.05zM141.00 120.85h3.05v3.06h-3.05zM75.00 123.86h3.05v3.06h-3.05zM96.00 123.86h3.05v3.06h-3.05zM111.00 123.86h3.05v3.06h-3.05zM66.00 126.88h3.05v3.06h-3.05zM111.00 126.88h3.05v3.06h-3.05z"/>
<path fill="#ffc608" d="M126.00 105.79h3.05v3.06h-3.05zM132.00 105.79h3.05v3.06h-3.05zM69.00 108.80h3.05v3.06h-3.05zM93.00 108.80h3.05v3.06h-3.05zM99.00 108.80h3.05v3.06h-3.05zM69.00 111.81h3.05v3.06h-3.05zM84.00 111.81h3.05v3.06h-3.05zM96.00 111.81h6.05v3.06h-6.05zM105.00 111.81h3.05v3.06h-3.05zM111.00 111.81h3.05v3.06h-3.05zM57.00 114.83h3.05v3.06h-3.05zM81.00 114.83h3.05v3.06h-3.05zM90.00 114.83h3.05v3.06h-3.05zM69.00 117.84h6.05v3.06h-6.05zM108.00 117.84h6.05v3.06h-6.05zM105.00 120.85h3.05v3.06h-3.05zM111.00 120.85h3.05v3.06h-3.05zM90.00 123.86h3.05v3.06h-3.05zM114.00 123.86h3.05v3.06h-3.05zM117.00 126.88h3.05v3.06h-3.05z"/>
<path fill="#ffd504" d="M129.00 105.79h3.05v3.06h-3.05zM96.00 108.80h3.05v3.06h-3.05zM102.00 108.80h6.05v3.06h-6.05zM117.00 108.80h6.05v3.06h-6.05zM126.00 108.80h3.05v3.06h-3.05zM144.00 108.80h3.05v3.06h-3.05zM75.00 111.81h3.05v3.06h-3.05zM90.00 111.81h6.05v3.06h-6.05zM126.00 111.81h3.05v3.06h-3.05zM66.00 114.83h3.05v3.06h-3.05zM72.00 114.83h3.05v3.06h-3.05zM84.00 114.83h3.05v3.06h-3.05zM93.00 114.83h3.05v3.06h-3.05zM117.00 114.83h3.05v3.06h-3.05zM63.00 117.84h3.05v3.06h-3.05zM75.00 117.84h3.05v3.06h-3.05zM81.00 117.84h3.05v3.06h-3.05zM66.00 120.85h3.05v3.06h-3.05zM108.00 120.85h3.05v3.06h-3.05z"/>
<path fill="#fde300" d="M135.00 105.79h3.05v3.06h-3.05zM144.00 105.79h3.05v3.06h-3.05zM72.00 108.80h3.05v3.06h-3.05zM90.00 108.80h3.05v3.06h-3.05zM78.00 111.81h3.05v3.06h-3.05zM87.00 111.81h3.05v3.06h-3.05zM117.00 111.81h6.05v3.06h-6.05zM141.00 111.81h6.05v3.06h-6.05zM87.00 114.83h3.05v3.06h-3.05zM114.00 114.83h3.05v3.06h-3.05zM66.00 117.84h3.05v3.06h-3.05zM78.00 117.84h3.05v3.06h-3.05zM84.00 123.86h6.05v3.06h-6.05zM93.00 123.86h3.05v3.06h-3.05z"/>
<path fill="#fcee00" d="M141.00 105.79h3.05v3.06h-3.05zM147.00 105.79h3.05v3.06h-3.05zM75.00 108.80h3.05v3.06h-3.05zM114.00 108.80h3.05v3.06h-3.05zM60.00 111.81h9.05v3.06h-9.05zM72.00 111.81h3.05v3.06h-3.05zM108.00 111.81h3.05v3.06h-3.05zM75.00 114.83h3.05v3.06h-3.05zM120.00 114.83h6.05v3.06h-6.05z"/>
<path fill="#fef900" d="M138.00 105.79h3.05v3.06h-3.05zM57.00 111.81h3.05v3.06h-3.05zM114.00 111.81h3.05v3.06h-3.05zM78.00 114.83h3.05v3.06h-3.05z"/>
<path fill="#fdff00" d="M111.00 108.80h3.05v3.06h-3.05zM147.00 108.80h3.05v3.06h-3.05zM81.00 111.81h3.05v3.06h-3.05zM138.00 111.81h3.05v3.06h-3.05zM147.00 111.81h3.05v3.06h-3.05z"/>
<path fill="#fdff00" d="M87.00 108.80h3.05v3.06h-3.05zM54.00 111.81h3.05v3.06h-3.05zM132.00 111.81h6.05v3.06h-6.05z"/>
<path fill="#fdff00" d="M81.00 108.80h6.05v3.06h-6.05zM129.00 111.81h3.05v3.06h-3.05z"/>
<path fill="#fdff00" d="M108.00 108.80h3.05v3.06h-3.05z"/>
<path fill="#fdff00" d="M78.00 108.80h3.05v3.06h-3.05z"/>
</g>
<g shape-rendering="crispEdges">
<path fill="#00b9d6" d="M306.55 119.85h3.07v3.06h-3.07zM306.55 122.86h3.07v3.06h-3.07zM297.50 137.93h3.07v3.06h-3.07z"/>
<path fill="#00bfcc" d="M387.97 92.74h3.07v3.06h-3.07zM300.52 110.81h3.07v3.06h-3.07zM387.97 119.85h3.07v3.06h-3.07zM384.95 137.93h3.07v3.06h-3.07zM384.95 140.94h3.07v3.06h-3.07zM384.95 143.95h3.07v3.06h-3.07zM390.98 143.95h3.07v3.06h-3.07z"/>
<path fill="#00c3c2" d="M372.89 68.64h3.07v3.06h-3.07zM372.89 71.65h3.07v3.06h-3.07zM387.97 77.68h3.07v3.06h-3.07zM300.52 98.76h3.07v3.06h-3.07zM378.92 101.78h3.07v3.06h-3.07zM381.94 104.79h3.07v3.06h-3.07zM300.52 113.83h3.07v3.06h-3.07zM387.97 125.88h3.07v3.06h-3.07zM297.50 128.89h3.07v3.06h-3.07zM387.97 128.89h3.07v3.06h-3.07zM303.53 131.90h3.07v3.06h-3.07zM384.95 134.91h3.07v3.06h-3.07zM297.50 149.98h3.07v3.06h-3.07zM390.98 149.98h3.07v3.06h-3.07z"/>
<path fill="#02c6b5" d="M378.92 53.58h3.07v3.06h-3.07zM378.92 56.59h3.07v3.06h-3.07zM372.89 65.62h3.07v3.06h-3.07zM387.97 68.64h3.07v3.06h-3.07zM300.52 74.66h3.07v3.06h-3.07zM300.52 86.71h3.07v3.06h-3.07zM378.92 104.79h3.07v3.06h-3.07zM297.50 116.84h3.07v3.06h-3.07zM306.55 116.84h3.07v3.06h-3.07zM381.94 122.86h3.07v3.06h-3.07zM387.97 122.86h3.07v3.06h-3.07zM306.55 125.88h3.07v3.06h-3.07zM381.94 125.88h3.07v3.06h-3.07zM303.53 128.89h3.07v3.06h-3.07zM297.50 131.90h3.07v3.06h-3.07zM306.55 131.90h3.07v3.06h-3.07zM390.98 131.90h3.07v3.06h-3.07zM297.50 134.91h3.07v3.06h-3.07zM390.98 134.91h3.07v3.06h-3.07zM303.53 137.93h3.07v3.06h-3.07zM303.53 140.94h3.07v3.06h-3.07zM297.50 143.95h3.07v3.06h-3.07zM384.95 146.96h3.07v3.06h-3.07z"/>
<path fill="#0bc4a9" d="M378.92 41.52h3.07v3.06h-3.07zM372.89 47.55h3.07v3.06h-3.07zM303.53 56.59h3.07v3.06h-3.07zM372.89 56.59h3.07v3.06h-3.07zM372.89 59.60h3.07v3.06h-3.07zM387.97 65.62h3.07v3.06h-3.07zM390.98 74.66h3.07v3.06h-3.07zM372.89 77.68h3.07v3.06h-3.07zM387.97 80.69h3.07v3.06h-3.07zM372.89 83.70h3.07v3.06h-3.07zM300.52 89.72h3.07v3.06h-3.07zM387.97 89.72h3.07v3.06h-3.07zM381.94 92.74h3.07v3.06h-3.07zM381.94 98.76h3.07v3.06h-3.07zM300.52 101.78h3.07v3.06h-3.07zM372.89 101.78h3.07v3.06h-3.07zM378.92 107.80h6.08v3.06h-6.08zM378.92 110.81h3.07v3.06h-3.07zM303.53 113.83h3.07v3.06h-3.07zM381.94 113.83h3.07v3.06h-3.07zM297.50 122.86h3.07v3.06h-3.07zM297.50 125.88h3.07v3.06h-3.07zM303.53 125.88h3.07v3.06h-3.07zM300.52 128.89h3.07v3.06h-3.07zM306.55 128.89h3.07v3.06h-3.07zM381.94 134.91h3.07v3.06h-3.07zM387.97 137.93h3.07v3.06h-3.07zM297.50 140.94h3.07v3.06h-3.07zM297.50 146.96h3.07v3.06h-3.07zM390.98 146.96h3.07v3.06h-3.07zM384.95 149.98h3.07v3.06h-3.07zM384.95 152.99h3.07v3.06h-3.07z"/>
<path fill="#0fc19f" d="M297.50 35.50h3.07v3.06h-3.07zM363.84 35.50h3.07v3.06h-3.07zM378.92 38.51h3.07v3.06h-3.07zM390.98 38.51h3.07v3.06h-3.07zM369.88 41.52h3.07v3.06h-3.07zM384.95 41.52h3.07v3.06h-3.07zM390.98 44.54h3.07v3.06h-3.07zM300.52 47.55h3.07v3.06h-3.07zM309.56 65.62h3.07v3.06h-3.07zM384.95 71.65h3.07v3.06h-3.07zM372.89 74.66h3.07v3.06h-3.07zM387.97 74.66h3.07v3.06h-3.07zM375.91 77.68h3.07v3.06h-3.07zM384.95 77.68h3.07v3.06h-3.07zM387.97 83.70h3.07v3.06h-3.07zM297.50 86.71h3.07v3.06h-3.07zM387.97 86.71h3.07v3.06h-3.07zM378.92 89.72h3.07v3.06h-3.07zM378.92 95.75h6.08v3.06h-6.08zM387.97 98.76h3.07v3.06h-3.07zM369.88 101.78h3.07v3.06h-3.07zM387.97 101.78h3.07v3.06h-3.07zM300.52 104.79h3.07v3.06h-3.07zM372.89 104.79h3.07v3.06h-3.07zM300.52 107.80h3.07v3.06h-3.07zM387.97 110.81h3.07v3.06h-3.07zM306.55 113.83h3.07v3.06h-3.07zM303.53 116.84h3.07v3.06h-3.07zM378.92 116.84h6.08v3.06h-6.08zM387.97 116.84h3.07v3.06h-3.07zM297.50 119.85h3.07v3.06h-3.07zM303.53 119.85h3.07v3.06h-3.07zM309.56 119.85h3.07v3.06h-3.07zM378.92 119.85h3.07v3.06h-3.07zM303.53 122.86h3.07v3.06h-3.07zM384.95 125.88h3.07v3.06h-3.07zM384.95 131.90h3.07v3.06h-3.07zM303.53 134.91h3.07v3.06h-3.07zM366.86 134.91h3.07v3.06h-3.07zM381.94 137.93h3.07v3.06h-3.07zM390.98 137.93h3.07v3.06h-3.07zM390.98 140.94h3.07v3.06h-3.07zM303.53 143.95h3.07v3.06h-3.07zM378.92 143.95h3.07v3.06h-3.07zM387.97 143.95h3.07v3.06h-3.07zM378.92 146.96h3.07v3.06h-3.07zM387.97 146.96h3.07v3.06h-3.07zM303.53 149.98h3.07v3.06h-3.07zM297.50 152.99h3.07v3.06h-3.07z"/>
<path fill="#10c092" d="M390.98 35.50h3.07v3.06h-3.07zM297.50 38.51h3.07v3.06h-3.07zM303.53 41.52h3.07v3.06h-3.07zM387.97 44.54h3.07v3.06h-3.07zM297.50 47.55h3.07v3.06h-3.07zM303.53 47.55h3.07v3.06h-3.07zM297.50 50.56h9.10v3.06h-9.10zM372.89 50.56h3.07v3.06h-3.07zM378.92 50.56h3.07v3.06h-3.07zM390.98 50.56h3.07v3.06h-3.07zM303.53 53.58h3.07v3.06h-3.07zM372.89 53.58h3.07v3.06h-3.07zM387.97 56.59h3.07v3.06h-3.07zM378.92 59.60h3.07v3.06h-3.07zM387.97 59.60h3.07v3.06h-3.07zM372.89 62.61h3.07v3.06h-3.07zM381.94 62.61h3.07v3.06h-3.07zM390.98 62.61h3.07v3.06h-3.07zM300.52 65.62h6.08v3.06h-6.08zM384.95 65.62h3.07v3.06h-3.07zM300.52 68.64h3.07v3.06h-3.07zM381.94 68.64h3.07v3.06h-3.07zM300.52 71.65h3.07v3.06h-3.07zM375.91 71.65h3.07v3.06h-3.07zM381.94 71.65h3.07v3.06h-3.07zM387.97 71.65h3.07v3.06h-3.07zM375.91 74.66h3.07v3.06h-3.07zM300.52 77.68h3.07v3.06h-3.07zM372.89 80.69h3.07v3.06h-3.07zM300.52 83.70h3.07v3.06h-3.07zM384.95 95.75h3.07v3.06h-3.07zM375.91 98.76h6.08v3.06h-6.08zM375.91 101.78h3.07v3.06h-3.07zM381.94 101.78h6.08v3.06h-6.08zM303.53 104.79h3.07v3.06h-3.07zM303.53 107.80h3.07v3.06h-3.07zM303.53 110.81h3.07v3.06h-3.07zM372.89 110.81h3.07v3.06h-3.07zM381.94 110.81h3.07v3.06h-3.07zM384.95 116.84h3.07v3.06h-3.07zM381.94 119.85h3.07v3.06h-3.07zM378.92 122.86h3.07v3.06h-3.07zM372.89 128.89h3.07v3.06h-3.07zM381.94 128.89h3.07v3.06h-3.07zM300.52 131.90h3.07v3.06h-3.07zM387.97 131.90h3.07v3.06h-3.07zM306.55 134.91h3.07v3.06h-3.07zM309.56 143.95h3.07v3.06h-3.07zM381.94 152.99h3.07v3.06h-3.07zM390.98 152.99h3.07v3.06h-3.07z"/>
<path fill="#11c383" d="M375.91 35.50h3.07v3.06h-3.07zM384.95 35.50h3.07v3.06h-3.07zM390.98 41.52h3.07v3.06h-3.07zM300.52 44.54h6.08v3.06h-6.08zM390.98 47.55h3.07v3.06h-3.07zM297.50 56.59h3.07v3.06h-3.07zM375.91 56.59h3.07v3.06h-3.07zM381.94 56.59h3.07v3.06h-3.07zM363.84 62.61h3.07v3.06h-3.07zM378.92 62.61h3.07v3.06h-3.07zM378.92 65.62h6.08v3.06h-6.08zM297.50 71.65h3.07v3.06h-3.07zM384.95 74.66h3.07v3.06h-3.07zM390.98 77.68h3.07v3.06h-3.07zM297.50 80.69h6.08v3.06h-6.08zM375.91 80.69h3.07v3.06h-3.07zM381.94 80.69h3.07v3.06h-3.07zM390.98 80.69h3.07v3.06h-3.07zM378.92 83.70h3.07v3.06h-3.07zM384.95 83.70h3.07v3.06h-3.07zM306.55 86.71h3.07v3.06h-3.07zM375.91 86.71h3.07v3.06h-3.07zM372.89 89.72h6.08v3.06h-6.08zM381.94 89.72h3.07v3.06h-3.07zM300.52 92.74h3.07v3.06h-3.07zM384.95 92.74h3.07v3.06h-3.07zM312.58 95.75h3.07v3.06h-3.07zM297.50 98.76h3.07v3.06h-3.07zM372.89 98.76h3.07v3.06h-3.07zM384.95 98.76h3.07v3.06h-3.07zM363.84 101.78h3.07v3.06h-3.07zM375.91 104.79h3.07v3.06h-3.07zM387.97 104.79h3.07v3.06h-3.07zM372.89 107.80h6.08v3.06h-6.08zM306.55 110.81h6.08v3.06h-6.08zM375.91 113.83h3.07v3.06h-3.07zM387.97 113.83h6.08v3.06h-6.08zM309.56 116.84h3.07v3.06h-3.07zM300.52 119.85h3.07v3.06h-3.07zM369.88 119.85h3.07v3.06h-3.07zM300.52 122.86h3.07v3.06h-3.07zM366.86 122.86h3.07v3.06h-3.07zM309.56 128.89h3.07v3.06h-3.07zM351.78 128.89h3.07v3.06h-3.07zM384.95 128.89h3.07v3.06h-3.07zM315.59 131.90h3.07v3.06h-3.07zM381.94 131.90h3.07v3.06h-3.07zM387.97 134.91h3.07v3.06h-3.07zM300.52 137.93h3.07v3.06h-3.07zM306.55 137.93h3.07v3.06h-3.07zM300.52 140.94h3.07v3.06h-3.07zM375.91 140.94h9.10v3.06h-9.10zM300.52 143.95h3.07v3.06h-3.07zM303.53 152.99h3.07v3.06h-3.07zM375.91 152.99h3.07v3.06h-3.07z"/>
<path fill="#15c573" d="M378.92 35.50h3.07v3.06h-3.07zM303.53 38.51h3.07v3.06h-3.07zM297.50 41.52h3.07v3.06h-3.07zM375.91 41.52h3.07v3.06h-3.07zM297.50 44.54h3.07v3.06h-3.07zM378.92 44.54h3.07v3.06h-3.07zM378.92 47.55h6.08v3.06h-6.08zM297.50 53.58h3.07v3.06h-3.07zM375.91 53.58h3.07v3.06h-3.07zM387.97 53.58h3.07v3.06h-3.07zM381.94 59.60h3.07v3.06h-3.07zM303.53 62.61h3.07v3.06h-3.07zM375.91 62.61h3.07v3.06h-3.07zM384.95 62.61h6.08v3.06h-6.08zM303.53 71.65h3.07v3.06h-3.07zM378.92 71.65h3.07v3.06h-3.07zM390.98 71.65h3.07v3.06h-3.07zM297.50 74.66h3.07v3.06h-3.07zM381.94 74.66h3.07v3.06h-3.07zM366.86 77.68h3.07v3.06h-3.07zM366.86 80.69h3.07v3.06h-3.07zM297.50 83.70h3.07v3.06h-3.07zM381.94 86.71h3.07v3.06h-3.07zM297.50 89.72h3.07v3.06h-3.07zM297.50 92.74h3.07v3.06h-3.07zM372.89 92.74h3.07v3.06h-3.07zM327.66 95.75h3.07v3.06h-3.07zM369.88 98.76h3.07v3.06h-3.07zM303.53 101.78h3.07v3.06h-3.07zM297.50 104.79h3.07v3.06h-3.07zM390.98 104.79h3.07v3.06h-3.07zM306.55 107.80h3.07v3.06h-3.07zM384.95 107.80h6.08v3.06h-6.08zM297.50 110.81h3.07v3.06h-3.07zM369.88 110.81h3.07v3.06h-3.07zM375.91 110.81h3.07v3.06h-3.07zM390.98 110.81h3.07v3.06h-3.07zM297.50 113.83h3.07v3.06h-3.07zM363.84 113.83h3.07v3.06h-3.07zM369.88 113.83h6.08v3.06h-6.08zM378.92 113.83h3.07v3.06h-3.07zM300.52 116.84h3.07v3.06h-3.07zM312.58 116.84h3.07v3.06h-3.07zM369.88 116.84h9.10v3.06h-9.10zM390.98 116.84h3.07v3.06h-3.07zM390.98 119.85h3.07v3.06h-3.07zM309.56 122.86h3.07v3.06h-3.07zM369.88 122.86h3.07v3.06h-3.07zM300.52 125.88h3.07v3.06h-3.07zM309.56 125.88h3.07v3.06h-3.07zM390.98 125.88h3.07v3.06h-3.07zM342.73 134.91h3.07v3.06h-3.07zM378.92 134.91h3.07v3.06h-3.07zM306.55 140.94h6.08v3.06h-6.08zM315.59 143.95h3.07v3.06h-3.07zM372.89 143.95h3.07v3.06h-3.07zM381.94 143.95h3.07v3.06h-3.07zM303.53 146.96h3.07v3.06h-3.07zM378.92 149.98h3.07v3.06h-3.07zM300.52 152.99h3.07v3.06h-3.07zM309.56 152.99h3.07v3.06h-3.07zM378.92 152.99h3.07v3.06h-3.07zM387.97 152.99h3.07v3.06h-3.07z"/>
<path fill="#34cc5c" d="M372.89 35.50h3.07v3.06h-3.07zM381.94 38.51h6.08v3.06h-6.08zM339.72 41.52h3.07v3.06h-3.07zM381.94 41.52h3.07v3.06h-3.07zM387.97 41.52h3.07v3.06h-3.07zM372.89 44.54h6.08v3.06h-6.08zM381.94 44.54h3.07v3.06h-3.07zM387.97 47.55h3.07v3.06h-3.07zM309.56 50.56h3.07v3.06h-3.07zM318.61 50.56h3.07v3.06h-3.07zM390.98 53.58h3.07v3.06h-3.07zM300.52 56.59h3.07v3.06h-3.07zM300.52 59.60h3.07v3.06h-3.07zM375.91 59.60h3.07v3.06h-3.07zM297.50 62.61h3.07v3.06h-3.07zM375.91 65.62h3.07v3.06h-3.07zM306.55 68.64h3.07v3.06h-3.07zM375.91 68.64h3.07v3.06h-3.07zM384.95 68.64h3.07v3.06h-3.07zM360.83 74.66h3.07v3.06h-3.07zM297.50 77.68h3.07v3.06h-3.07zM381.94 77.68h3.07v3.06h-3.07zM303.53 80.69h3.07v3.06h-3.07zM384.95 80.69h3.07v3.06h-3.07zM375.91 83.70h3.07v3.06h-3.07zM390.98 83.70h3.07v3.06h-3.07zM366.86 86.71h9.10v3.06h-9.10zM378.92 86.71h3.07v3.06h-3.07zM384.95 89.72h3.07v3.06h-3.07zM369.88 92.74h3.07v3.06h-3.07zM375.91 92.74h6.08v3.06h-6.08zM300.52 95.75h3.07v3.06h-3.07zM309.56 95.75h3.07v3.06h-3.07zM372.89 95.75h3.07v3.06h-3.07zM387.97 95.75h3.07v3.06h-3.07zM363.84 98.76h3.07v3.06h-3.07zM390.98 98.76h3.07v3.06h-3.07zM390.98 101.78h3.07v3.06h-3.07zM309.56 104.79h3.07v3.06h-3.07zM384.95 104.79h3.07v3.06h-3.07zM297.50 107.80h3.07v3.06h-3.07zM309.56 107.80h3.07v3.06h-3.07zM369.88 107.80h3.07v3.06h-3.07zM309.56 113.83h3.07v3.06h-3.07zM312.58 122.86h3.07v3.06h-3.07zM375.91 122.86h3.07v3.06h-3.07zM384.95 122.86h3.07v3.06h-3.07zM372.89 125.88h3.07v3.06h-3.07zM378.92 125.88h3.07v3.06h-3.07zM390.98 128.89h3.07v3.06h-3.07zM333.69 131.90h3.07v3.06h-3.07zM366.86 131.90h3.07v3.06h-3.07zM375.91 131.90h6.08v3.06h-6.08zM300.52 134.91h3.07v3.06h-3.07zM363.84 134.91h3.07v3.06h-3.07zM387.97 140.94h3.07v3.06h-3.07zM300.52 146.96h3.07v3.06h-3.07zM309.56 146.96h3.07v3.06h-3.07zM375.91 146.96h3.07v3.06h-3.07zM300.52 149.98h3.07v3.06h-3.07zM387.97 149.98h3.07v3.06h-3.07zM372.89 152.99h3.07v3.06h-3.07z"/>
<path fill="#81d13b" d="M309.56 35.50h3.07v3.06h-3.07zM381.94 35.50h3.07v3.06h-3.07zM387.97 35.50h3.07v3.06h-3.07zM366.86 38.51h3.07v3.06h-3.07zM372.89 38.51h6.08v3.06h-6.08zM318.61 41.52h3.07v3.06h-3.07zM360.83 44.54h6.08v3.06h-6.08zM384.95 44.54h3.07v3.06h-3.07zM360.83 47.55h3.07v3.06h-3.07zM360.83 50.56h3.07v3.06h-3.07zM387.97 50.56h3.07v3.06h-3.07zM369.88 53.58h3.07v3.06h-3.07zM348.77 56.59h3.07v3.06h-3.07zM297.50 59.60h3.07v3.06h-3.07zM303.53 59.60h6.08v3.06h-6.08zM300.52 62.61h3.07v3.06h-3.07zM369.88 62.61h3.07v3.06h-3.07zM297.50 68.64h3.07v3.06h-3.07zM303.53 68.64h3.07v3.06h-3.07zM348.77 68.64h3.07v3.06h-3.07zM369.88 71.65h3.07v3.06h-3.07zM363.84 74.66h3.07v3.06h-3.07zM369.88 74.66h3.07v3.06h-3.07zM306.55 77.68h3.07v3.06h-3.07zM363.84 77.68h3.07v3.06h-3.07zM369.88 77.68h3.07v3.06h-3.07zM369.88 80.69h3.07v3.06h-3.07zM381.94 83.70h3.07v3.06h-3.07zM366.86 89.72h3.07v3.06h-3.07zM390.98 89.72h3.07v3.06h-3.07zM306.55 92.74h6.08v3.06h-6.08zM345.75 95.75h3.07v3.06h-3.07zM369.88 95.75h3.07v3.06h-3.07zM375.91 95.75h3.07v3.06h-3.07zM303.53 98.76h3.07v3.06h-3.07zM366.86 98.76h3.07v3.06h-3.07zM297.50 101.78h3.07v3.06h-3.07zM309.56 101.78h3.07v3.06h-3.07zM384.95 110.81h3.07v3.06h-3.07zM312.58 119.85h3.07v3.06h-3.07zM321.62 119.85h3.07v3.06h-3.07zM375.91 119.85h3.07v3.06h-3.07zM384.95 119.85h3.07v3.06h-3.07zM372.89 122.86h3.07v3.06h-3.07zM390.98 122.86h3.07v3.06h-3.07zM369.88 125.88h3.07v3.06h-3.07zM369.88 128.89h3.07v3.06h-3.07zM309.56 134.91h3.07v3.06h-3.07zM327.66 134.91h3.07v3.06h-3.07zM309.56 137.93h3.07v3.06h-3.07zM375.91 137.93h3.07v3.06h-3.07zM351.78 143.95h3.07v3.06h-3.07zM381.94 146.96h3.07v3.06h-3.07zM309.56 149.98h3.07v3.06h-3.07zM372.89 149.98h3.07v3.06h-3.07zM381.94 149.98h3.07v3.06h-3.07z"/>
<path fill="#9bcf28" d="M300.52 35.50h6.08v3.06h-6.08zM324.64 35.50h3.07v3.06h-3.07zM369.88 35.50h3.07v3.06h-3.07zM309.56 38.51h3.07v3.06h-3.07zM369.88 38.51h3.07v3.06h-3.07zM300.52 41.52h3.07v3.06h-3.07zM363.84 41.52h3.07v3.06h-3.07zM306.55 44.54h3.07v3.06h-3.07zM309.56 47.55h3.07v3.06h-3.07zM324.64 50.56h3.07v3.06h-3.07zM375.91 50.56h3.07v3.06h-3.07zM300.52 53.58h3.07v3.06h-3.07zM306.55 53.58h3.07v3.06h-3.07zM381.94 53.58h3.07v3.06h-3.07zM369.88 56.59h3.07v3.06h-3.07zM369.88 59.60h3.07v3.06h-3.07zM306.55 62.61h3.07v3.06h-3.07zM363.84 65.62h3.07v3.06h-3.07zM390.98 65.62h3.07v3.06h-3.07zM378.92 68.64h3.07v3.06h-3.07zM390.98 68.64h3.07v3.06h-3.07zM312.58 71.65h3.07v3.06h-3.07zM303.53 74.66h6.08v3.06h-6.08zM378.92 74.66h3.07v3.06h-3.07zM303.53 77.68h3.07v3.06h-3.07zM378.92 77.68h3.07v3.06h-3.07zM306.55 80.69h3.07v3.06h-3.07zM303.53 83.70h3.07v3.06h-3.07zM312.58 83.70h3.07v3.06h-3.07zM357.81 83.70h3.07v3.06h-3.07zM363.84 83.70h3.07v3.06h-3.07zM369.88 83.70h3.07v3.06h-3.07zM384.95 86.71h3.07v3.06h-3.07zM303.53 89.72h3.07v3.06h-3.07zM363.84 89.72h3.07v3.06h-3.07zM369.88 89.72h3.07v3.06h-3.07zM390.98 92.74h3.07v3.06h-3.07zM306.55 101.78h3.07v3.06h-3.07zM339.72 101.78h3.07v3.06h-3.07zM369.88 104.79h3.07v3.06h-3.07zM390.98 107.80h3.07v3.06h-3.07zM312.58 113.83h3.07v3.06h-3.07zM354.80 116.84h3.07v3.06h-3.07zM372.89 119.85h3.07v3.06h-3.07zM375.91 125.88h3.07v3.06h-3.07zM312.58 128.89h3.07v3.06h-3.07zM318.61 128.89h3.07v3.06h-3.07zM375.91 128.89h3.07v3.06h-3.07zM309.56 131.90h6.08v3.06h-6.08zM372.89 131.90h3.07v3.06h-3.07zM372.89 134.91h6.08v3.06h-6.08zM360.83 137.93h3.07v3.06h-3.07zM378.92 137.93h3.07v3.06h-3.07zM351.78 140.94h3.07v3.06h-3.07zM357.81 140.94h3.07v3.06h-3.07zM372.89 140.94h3.07v3.06h-3.07zM375.91 143.95h3.07v3.06h-3.07zM330.67 146.96h3.07v3.06h-3.07zM372.89 146.96h3.07v3.06h-3.07zM306.55 149.98h3.07v3.06h-3.07zM327.66 152.99h3.07v3.06h-3.07z"/>
<path fill="#b4cb18" d="M306.55 35.50h3.07v3.06h-3.07zM300.52 38.51h3.07v3.06h-3.07zM387.97 38.51h3.07v3.06h-3.07zM360.83 41.52h3.07v3.06h-3.07zM366.86 41.52h3.07v3.06h-3.07zM372.89 41.52h3.07v3.06h-3.07zM321.62 47.55h3.07v3.06h-3.07zM339.72 47.55h3.07v3.06h-3.07zM369.88 47.55h3.07v3.06h-3.07zM375.91 47.55h3.07v3.06h-3.07zM306.55 50.56h3.07v3.06h-3.07zM369.88 50.56h3.07v3.06h-3.07zM381.94 50.56h3.07v3.06h-3.07zM309.56 53.58h3.07v3.06h-3.07zM360.83 53.58h3.07v3.06h-3.07zM366.86 53.58h3.07v3.06h-3.07zM324.64 56.59h3.07v3.06h-3.07zM345.75 56.59h3.07v3.06h-3.07zM360.83 56.59h3.07v3.06h-3.07zM390.98 56.59h3.07v3.06h-3.07zM348.77 59.60h3.07v3.06h-3.07zM360.83 59.60h3.07v3.06h-3.07zM366.86 62.61h3.07v3.06h-3.07zM297.50 65.62h3.07v3.06h-3.07zM348.77 65.62h3.07v3.06h-3.07zM360.83 65.62h3.07v3.06h-3.07zM309.56 68.64h6.08v3.06h-6.08zM363.84 68.64h3.07v3.06h-3.07zM369.88 68.64h3.07v3.06h-3.07zM306.55 83.70h3.07v3.06h-3.07zM366.86 83.70h3.07v3.06h-3.07zM342.73 86.71h3.07v3.06h-3.07zM390.98 86.71h3.07v3.06h-3.07zM309.56 89.72h3.07v3.06h-3.07zM348.77 92.74h3.07v3.06h-3.07zM363.84 92.74h6.08v3.06h-6.08zM297.50 95.75h3.07v3.06h-3.07zM303.53 95.75h6.08v3.06h-6.08zM306.55 98.76h6.08v3.06h-6.08zM312.58 101.78h3.07v3.06h-3.07zM351.78 101.78h3.07v3.06h-3.07zM306.55 104.79h3.07v3.06h-3.07zM363.84 104.79h6.08v3.06h-6.08zM312.58 107.80h3.07v3.06h-3.07zM363.84 107.80h3.07v3.06h-3.07zM312.58 110.81h3.07v3.06h-3.07zM363.84 110.81h3.07v3.06h-3.07zM345.75 113.83h3.07v3.06h-3.07zM366.86 113.83h3.07v3.06h-3.07zM384.95 113.83h3.07v3.06h-3.07zM366.86 116.84h3.07v3.06h-3.07zM366.86 119.85h3.07v3.06h-3.07zM327.66 122.86h3.07v3.06h-3.07zM339.72 128.89h3.07v3.06h-3.07zM369.88 131.90h3.07v3.06h-3.07zM330.67 137.93h3.07v3.06h-3.07zM366.86 140.94h3.07v3.06h-3.07zM306.55 143.95h3.07v3.06h-3.07zM363.84 146.96h3.07v3.06h-3.07zM306.55 152.99h3.07v3.06h-3.07zM315.59 152.99h3.07v3.06h-3.07z"/>
<path fill="#cbc70b" d="M360.83 35.50h3.07v3.06h-3.07zM366.86 35.50h3.07v3.06h-3.07zM306.55 38.51h3.07v3.06h-3.07zM360.83 38.51h6.08v3.06h-6.08zM357.81 41.52h3.07v3.06h-3.07zM312.58 44.54h3.07v3.06h-3.07zM366.86 44.54h6.08v3.06h-6.08zM306.55 47.55h3.07v3.06h-3.07zM363.84 47.55h3.07v3.06h-3.07zM348.77 50.56h3.07v3.06h-3.07zM363.84 50.56h3.07v3.06h-3.07zM384.95 50.56h3.07v3.06h-3.07zM345.75 53.58h3.07v3.06h-3.07zM309.56 56.59h3.07v3.06h-3.07zM384.95 56.59h3.07v3.06h-3.07zM315.59 59.60h3.07v3.06h-3.07zM384.95 59.60h3.07v3.06h-3.07zM309.56 62.61h3.07v3.06h-3.07zM348.77 62.61h3.07v3.06h-3.07zM360.83 62.61h3.07v3.06h-3.07zM315.59 68.64h3.07v3.06h-3.07zM366.86 68.64h3.07v3.06h-3.07zM309.56 71.65h3.07v3.06h-3.07zM315.59 71.65h3.07v3.06h-3.07zM336.70 71.65h3.07v3.06h-3.07zM366.86 71.65h3.07v3.06h-3.07zM315.59 74.66h3.07v3.06h-3.07zM315.59 77.68h6.08v3.06h-6.08zM360.83 80.69h6.08v3.06h-6.08zM378.92 80.69h3.07v3.06h-3.07zM309.56 83.70h3.07v3.06h-3.07zM318.61 86.71h3.07v3.06h-3.07zM360.83 86.71h6.08v3.06h-6.08zM303.53 92.74h3.07v3.06h-3.07zM318.61 95.75h3.07v3.06h-3.07zM333.69 95.75h3.07v3.06h-3.07zM363.84 95.75h3.07v3.06h-3.07zM390.98 95.75h3.07v3.06h-3.07zM333.69 98.76h3.07v3.06h-3.07zM366.86 101.78h3.07v3.06h-3.07zM312.58 104.79h6.08v3.06h-6.08zM315.59 107.80h3.07v3.06h-3.07zM348.77 107.80h3.07v3.06h-3.07zM366.86 107.80h3.07v3.06h-3.07zM351.78 110.81h3.07v3.06h-3.07zM366.86 110.81h3.07v3.06h-3.07zM315.59 113.83h3.07v3.06h-3.07zM351.78 113.83h3.07v3.06h-3.07zM315.59 116.84h9.10v3.06h-9.10zM351.78 116.84h3.07v3.06h-3.07zM357.81 119.85h6.08v3.06h-6.08zM321.62 122.86h3.07v3.06h-3.07zM312.58 125.88h3.07v3.06h-3.07zM318.61 125.88h3.07v3.06h-3.07zM315.59 128.89h3.07v3.06h-3.07zM327.66 128.89h3.07v3.06h-3.07zM357.81 128.89h3.07v3.06h-3.07zM378.92 128.89h3.07v3.06h-3.07zM363.84 131.90h3.07v3.06h-3.07zM315.59 137.93h3.07v3.06h-3.07zM327.66 137.93h3.07v3.06h-3.07zM363.84 137.93h6.08v3.06h-6.08zM372.89 137.93h3.07v3.06h-3.07zM354.80 143.95h3.07v3.06h-3.07zM366.86 143.95h3.07v3.06h-3.07zM306.55 146.96h3.07v3.06h-3.07zM357.81 146.96h6.08v3.06h-6.08zM375.91 149.98h3.07v3.06h-3.07zM312.58 152.99h3.07v3.06h-3.07zM360.83 152.99h6.08v3.06h-6.08z"/>
<path fill="#ddbf05" d="M312.58 38.51h3.07v3.06h-3.07zM306.55 41.52h6.08v3.06h-6.08zM315.59 41.52h3.07v3.06h-3.07zM345.75 41.52h3.07v3.06h-3.07zM318.61 44.54h3.07v3.06h-3.07zM348.77 44.54h3.07v3.06h-3.07zM312.58 47.55h3.07v3.06h-3.07zM345.75 47.55h3.07v3.06h-3.07zM384.95 47.55h3.07v3.06h-3.07zM312.58 50.56h3.07v3.06h-3.07zM345.75 50.56h3.07v3.06h-3.07zM366.86 50.56h3.07v3.06h-3.07zM348.77 53.58h3.07v3.06h-3.07zM384.95 53.58h3.07v3.06h-3.07zM351.78 56.59h3.07v3.06h-3.07zM390.98 59.60h3.07v3.06h-3.07zM306.55 65.62h3.07v3.06h-3.07zM312.58 65.62h3.07v3.06h-3.07zM369.88 65.62h3.07v3.06h-3.07zM360.83 68.64h3.07v3.06h-3.07zM306.55 71.65h3.07v3.06h-3.07zM363.84 71.65h3.07v3.06h-3.07zM309.56 77.68h6.08v3.06h-6.08zM309.56 80.69h3.07v3.06h-3.07zM315.59 80.69h3.07v3.06h-3.07zM303.53 86.71h3.07v3.06h-3.07zM309.56 86.71h3.07v3.06h-3.07zM330.67 86.71h3.07v3.06h-3.07zM327.66 89.72h3.07v3.06h-3.07zM360.83 89.72h3.07v3.06h-3.07zM315.59 92.74h3.07v3.06h-3.07zM327.66 92.74h3.07v3.06h-3.07zM366.86 95.75h3.07v3.06h-3.07zM312.58 98.76h3.07v3.06h-3.07zM321.62 98.76h6.08v3.06h-6.08zM324.64 101.78h3.07v3.06h-3.07zM327.66 104.79h3.07v3.06h-3.07zM351.78 104.79h3.07v3.06h-3.07zM321.62 107.80h3.07v3.06h-3.07zM351.78 107.80h3.07v3.06h-3.07zM318.61 110.81h6.08v3.06h-6.08zM327.66 113.83h6.08v3.06h-6.08zM357.81 113.83h3.07v3.06h-3.07zM327.66 116.84h3.07v3.06h-3.07zM363.84 116.84h3.07v3.06h-3.07zM318.61 119.85h3.07v3.06h-3.07zM327.66 119.85h3.07v3.06h-3.07zM330.67 122.86h3.07v3.06h-3.07zM357.81 122.86h3.07v3.06h-3.07zM363.84 122.86h3.07v3.06h-3.07zM321.62 125.88h3.07v3.06h-3.07zM327.66 125.88h3.07v3.06h-3.07zM351.78 125.88h3.07v3.06h-3.07zM366.86 125.88h3.07v3.06h-3.07zM318.61 131.90h3.07v3.06h-3.07zM357.81 131.90h3.07v3.06h-3.07zM315.59 134.91h3.07v3.06h-3.07zM351.78 134.91h3.07v3.06h-3.07zM354.80 140.94h3.07v3.06h-3.07zM369.88 140.94h3.07v3.06h-3.07zM363.84 143.95h3.07v3.06h-3.07zM318.61 146.96h3.07v3.06h-3.07zM327.66 146.96h3.07v3.06h-3.07zM369.88 146.96h3.07v3.06h-3.07zM315.59 149.98h3.07v3.06h-3.07zM351.78 149.98h6.08v3.06h-6.08zM360.83 149.98h3.07v3.06h-3.07zM351.78 152.99h3.07v3.06h-3.07z"/>
<path fill="#ecb808" d="M312.58 35.50h3.07v3.06h-3.07zM321.62 35.50h3.07v3.06h-3.07zM312.58 41.52h3.07v3.06h-3.07zM348.77 47.55h3.07v3.06h-3.07zM315.59 50.56h3.07v3.06h-3.07zM351.78 50.56h3.07v3.06h-3.07zM312.58 53.58h3.07v3.06h-3.07zM318.61 53.58h3.07v3.06h-3.07zM333.69 53.58h3.07v3.06h-3.07zM351.78 53.58h3.07v3.06h-3.07zM363.84 53.58h3.07v3.06h-3.07zM312.58 56.59h6.08v3.06h-6.08zM366.86 56.59h3.07v3.06h-3.07zM309.56 59.60h6.08v3.06h-6.08zM324.64 59.60h3.07v3.06h-3.07zM357.81 59.60h3.07v3.06h-3.07zM312.58 62.61h6.08v3.06h-6.08zM321.62 62.61h3.07v3.06h-3.07zM342.73 65.62h3.07v3.06h-3.07zM321.62 68.64h3.07v3.06h-3.07zM327.66 68.64h3.07v3.06h-3.07zM345.75 68.64h3.07v3.06h-3.07zM309.56 74.66h6.08v3.06h-6.08zM321.62 74.66h3.07v3.06h-3.07zM366.86 74.66h3.07v3.06h-3.07zM318.61 80.69h3.07v3.06h-3.07zM315.59 83.70h3.07v3.06h-3.07zM327.66 83.70h3.07v3.06h-3.07zM315.59 89.72h3.07v3.06h-3.07zM312.58 92.74h3.07v3.06h-3.07zM324.64 92.74h3.07v3.06h-3.07zM333.69 92.74h3.07v3.06h-3.07zM339.72 92.74h3.07v3.06h-3.07zM360.83 92.74h3.07v3.06h-3.07zM324.64 95.75h3.07v3.06h-3.07zM360.83 95.75h3.07v3.06h-3.07zM348.77 98.76h6.08v3.06h-6.08zM315.59 101.78h3.07v3.06h-3.07zM321.62 101.78h3.07v3.06h-3.07zM342.73 101.78h3.07v3.06h-3.07zM321.62 104.79h3.07v3.06h-3.07zM348.77 104.79h3.07v3.06h-3.07zM324.64 107.80h3.07v3.06h-3.07zM315.59 110.81h3.07v3.06h-3.07zM327.66 110.81h3.07v3.06h-3.07zM357.81 110.81h3.07v3.06h-3.07zM348.77 113.83h3.07v3.06h-3.07zM330.67 116.84h3.07v3.06h-3.07zM348.77 116.84h3.07v3.06h-3.07zM315.59 119.85h3.07v3.06h-3.07zM330.67 119.85h3.07v3.06h-3.07zM351.78 119.85h3.07v3.06h-3.07zM318.61 122.86h3.07v3.06h-3.07zM351.78 122.86h3.07v3.06h-3.07zM315.59 125.88h3.07v3.06h-3.07zM357.81 125.88h3.07v3.06h-3.07zM366.86 128.89h3.07v3.06h-3.07zM330.67 131.90h3.07v3.06h-3.07zM351.78 131.90h3.07v3.06h-3.07zM312.58 134.91h3.07v3.06h-3.07zM318.61 134.91h3.07v3.06h-3.07zM360.83 134.91h3.07v3.06h-3.07zM369.88 134.91h3.07v3.06h-3.07zM321.62 137.93h3.07v3.06h-3.07zM342.73 137.93h3.07v3.06h-3.07zM318.61 140.94h3.07v3.06h-3.07zM321.62 143.95h6.08v3.06h-6.08zM333.69 143.95h3.07v3.06h-3.07zM333.69 146.96h3.07v3.06h-3.07zM351.78 146.96h3.07v3.06h-3.07zM327.66 149.98h3.07v3.06h-3.07zM333.69 149.98h3.07v3.06h-3.07zM363.84 149.98h3.07v3.06h-3.07zM345.75 152.99h3.07v3.06h-3.07z"/>
<path fill="#fab414" d="M330.67 35.50h3.07v3.06h-3.07zM324.64 38.51h3.07v3.06h-3.07zM339.72 38.51h3.07v3.06h-3.07zM315.59 44.54h3.07v3.06h-3.07zM345.75 44.54h3.07v3.06h-3.07zM357.81 44.54h3.07v3.06h-3.07zM315.59 47.55h3.07v3.06h-3.07zM366.86 47.55h3.07v3.06h-3.07zM357.81 50.56h3.07v3.06h-3.07zM357.81 53.58h3.07v3.06h-3.07zM306.55 56.59h3.07v3.06h-3.07zM318.61 56.59h3.07v3.06h-3.07zM363.84 56.59h3.07v3.06h-3.07zM336.70 59.60h6.08v3.06h-6.08zM363.84 59.60h3.07v3.06h-3.07zM315.59 65.62h3.07v3.06h-3.07zM366.86 65.62h3.07v3.06h-3.07zM324.64 68.64h3.07v3.06h-3.07zM321.62 71.65h3.07v3.06h-3.07zM360.83 71.65h3.07v3.06h-3.07zM348.77 74.66h3.07v3.06h-3.07zM312.58 80.69h3.07v3.06h-3.07zM318.61 83.70h3.07v3.06h-3.07zM351.78 83.70h3.07v3.06h-3.07zM315.59 86.71h3.07v3.06h-3.07zM327.66 86.71h3.07v3.06h-3.07zM333.69 86.71h3.07v3.06h-3.07zM339.72 86.71h3.07v3.06h-3.07zM306.55 89.72h3.07v3.06h-3.07zM321.62 89.72h3.07v3.06h-3.07zM333.69 89.72h3.07v3.06h-3.07zM351.78 89.72h3.07v3.06h-3.07zM315.59 95.75h3.07v3.06h-3.07zM321.62 95.75h3.07v3.06h-3.07zM339.72 95.75h3.07v3.06h-3.07zM315.59 98.76h3.07v3.06h-3.07zM327.66 98.76h3.07v3.06h-3.07zM357.81 98.76h6.08v3.06h-6.08zM354.80 101.78h3.07v3.06h-3.07zM324.64 104.79h3.07v3.06h-3.07zM360.83 104.79h3.07v3.06h-3.07zM360.83 107.80h3.07v3.06h-3.07zM324.64 110.81h3.07v3.06h-3.07zM339.72 110.81h3.07v3.06h-3.07zM360.83 110.81h3.07v3.06h-3.07zM318.61 113.83h6.08v3.06h-6.08zM363.84 119.85h3.07v3.06h-3.07zM315.59 122.86h3.07v3.06h-3.07zM360.83 122.86h3.07v3.06h-3.07zM348.77 125.88h3.07v3.06h-3.07zM321.62 128.89h3.07v3.06h-3.07zM330.67 128.89h6.08v3.06h-6.08zM348.77 128.89h3.07v3.06h-3.07zM363.84 128.89h3.07v3.06h-3.07zM321.62 131.90h3.07v3.06h-3.07zM354.80 131.90h3.07v3.06h-3.07zM360.83 131.90h3.07v3.06h-3.07zM357.81 134.91h3.07v3.06h-3.07zM336.70 137.93h3.07v3.06h-3.07zM351.78 137.93h3.07v3.06h-3.07zM369.88 137.93h3.07v3.06h-3.07zM315.59 140.94h3.07v3.06h-3.07zM321.62 140.94h3.07v3.06h-3.07zM327.66 140.94h6.08v3.06h-6.08zM360.83 140.94h6.08v3.06h-6.08zM318.61 143.95h3.07v3.06h-3.07zM327.66 143.95h3.07v3.06h-3.07zM360.83 143.95h3.07v3.06h-3.07zM315.59 146.96h3.07v3.06h-3.07zM321.62 146.96h3.07v3.06h-3.07zM312.58 149.98h3.07v3.06h-3.07zM330.67 149.98h3.07v3.06h-3.07zM318.61 152.99h3.07v3.06h-3.07zM330.67 152.99h3.07v3.06h-3.07zM354.80 152.99h6.08v3.06h-6.08zM369.88 152.99h3.07v3.06h-3.07z"/>
<path fill="#ffb216" d="M336.70 35.50h3.07v3.06h-3.07zM357.81 35.50h3.07v3.06h-3.07zM333.69 38.51h3.07v3.06h-3.07zM351.78 38.51h3.07v3.06h-3.07zM321.62 41.52h3.07v3.06h-3.07zM309.56 44.54h3.07v3.06h-3.07zM330.67 44.54h3.07v3.06h-3.07zM339.72 44.54h3.07v3.06h-3.07zM351.78 44.54h3.07v3.06h-3.07zM336.70 47.55h3.07v3.06h-3.07zM351.78 47.55h3.07v3.06h-3.07zM321.62 50.56h3.07v3.06h-3.07zM339.72 50.56h3.07v3.06h-3.07zM315.59 53.58h3.07v3.06h-3.07zM330.67 56.59h3.07v3.06h-3.07zM342.73 56.59h3.07v3.06h-3.07zM342.73 59.60h6.08v3.06h-6.08zM351.78 59.60h3.07v3.06h-3.07zM327.66 62.61h3.07v3.06h-3.07zM342.73 62.61h3.07v3.06h-3.07zM345.75 65.62h3.07v3.06h-3.07zM339.72 68.64h3.07v3.06h-3.07zM339.72 71.65h3.07v3.06h-3.07zM342.73 74.66h3.07v3.06h-3.07zM321.62 77.68h3.07v3.06h-3.07zM360.83 77.68h3.07v3.06h-3.07zM342.73 80.69h3.07v3.06h-3.07zM333.69 83.70h3.07v3.06h-3.07zM360.83 83.70h3.07v3.06h-3.07zM312.58 89.72h3.07v3.06h-3.07zM318.61 89.72h3.07v3.06h-3.07zM357.81 89.72h3.07v3.06h-3.07zM318.61 92.74h3.07v3.06h-3.07zM351.78 92.74h6.08v3.06h-6.08zM351.78 95.75h3.07v3.06h-3.07zM318.61 98.76h3.07v3.06h-3.07zM342.73 98.76h3.07v3.06h-3.07zM318.61 101.78h3.07v3.06h-3.07zM327.66 101.78h3.07v3.06h-3.07zM345.75 101.78h3.07v3.06h-3.07zM357.81 101.78h6.08v3.06h-6.08zM318.61 104.79h3.07v3.06h-3.07zM318.61 107.80h3.07v3.06h-3.07zM327.66 107.80h3.07v3.06h-3.07zM324.64 113.83h3.07v3.06h-3.07zM324.64 116.84h3.07v3.06h-3.07zM357.81 116.84h3.07v3.06h-3.07zM324.64 119.85h3.07v3.06h-3.07zM345.75 119.85h3.07v3.06h-3.07zM345.75 122.86h3.07v3.06h-3.07zM330.67 125.88h3.07v3.06h-3.07zM363.84 125.88h3.07v3.06h-3.07zM345.75 128.89h3.07v3.06h-3.07zM327.66 131.90h3.07v3.06h-3.07zM321.62 134.91h3.07v3.06h-3.07zM330.67 134.91h3.07v3.06h-3.07zM354.80 134.91h3.07v3.06h-3.07zM312.58 137.93h3.07v3.06h-3.07zM318.61 137.93h3.07v3.06h-3.07zM348.77 137.93h3.07v3.06h-3.07zM354.80 137.93h3.07v3.06h-3.07zM336.70 140.94h3.07v3.06h-3.07zM342.73 140.94h3.07v3.06h-3.07zM369.88 143.95h3.07v3.06h-3.07zM312.58 146.96h3.07v3.06h-3.07zM324.64 146.96h3.07v3.06h-3.07zM366.86 146.96h3.07v3.06h-3.07zM342.73 149.98h6.08v3.06h-6.08zM366.86 149.98h3.07v3.06h-3.07zM366.86 152.99h3.07v3.06h-3.07z"/>
<path fill="#ffba0f" d="M318.61 35.50h3.07v3.06h-3.07zM339.72 35.50h3.07v3.06h-3.07zM345.75 35.50h3.07v3.06h-3.07zM315.59 38.51h3.07v3.06h-3.07zM330.67 38.51h3.07v3.06h-3.07zM336.70 38.51h3.07v3.06h-3.07zM345.75 38.51h3.07v3.06h-3.07zM354.80 38.51h6.08v3.06h-6.08zM348.77 41.52h3.07v3.06h-3.07zM321.62 44.54h3.07v3.06h-3.07zM318.61 47.55h3.07v3.06h-3.07zM330.67 47.55h3.07v3.06h-3.07zM342.73 47.55h3.07v3.06h-3.07zM357.81 47.55h3.07v3.06h-3.07zM330.67 50.56h3.07v3.06h-3.07zM336.70 50.56h3.07v3.06h-3.07zM342.73 50.56h3.07v3.06h-3.07zM336.70 53.58h9.10v3.06h-9.10zM339.72 56.59h3.07v3.06h-3.07zM357.81 56.59h3.07v3.06h-3.07zM321.62 59.60h3.07v3.06h-3.07zM330.67 59.60h3.07v3.06h-3.07zM366.86 59.60h3.07v3.06h-3.07zM318.61 62.61h3.07v3.06h-3.07zM345.75 62.61h3.07v3.06h-3.07zM354.80 62.61h3.07v3.06h-3.07zM321.62 65.62h3.07v3.06h-3.07zM330.67 65.62h3.07v3.06h-3.07zM339.72 65.62h3.07v3.06h-3.07zM330.67 68.64h6.08v3.06h-6.08zM345.75 71.65h6.08v3.06h-6.08zM357.81 71.65h3.07v3.06h-3.07zM318.61 74.66h3.07v3.06h-3.07zM333.69 74.66h3.07v3.06h-3.07zM345.75 74.66h3.07v3.06h-3.07zM351.78 74.66h3.07v3.06h-3.07zM333.69 77.68h3.07v3.06h-3.07zM342.73 77.68h3.07v3.06h-3.07zM333.69 80.69h3.07v3.06h-3.07zM348.77 80.69h3.07v3.06h-3.07zM354.80 80.69h3.07v3.06h-3.07zM321.62 83.70h3.07v3.06h-3.07zM342.73 83.70h6.08v3.06h-6.08zM354.80 83.70h3.07v3.06h-3.07zM312.58 86.71h3.07v3.06h-3.07zM321.62 86.71h3.07v3.06h-3.07zM339.72 89.72h6.08v3.06h-6.08zM348.77 95.75h3.07v3.06h-3.07zM330.67 101.78h3.07v3.06h-3.07zM348.77 101.78h3.07v3.06h-3.07zM330.67 104.79h6.08v3.06h-6.08zM342.73 104.79h3.07v3.06h-3.07zM333.69 107.80h6.08v3.06h-6.08zM330.67 110.81h3.07v3.06h-3.07zM342.73 110.81h3.07v3.06h-3.07zM339.72 113.83h3.07v3.06h-3.07zM360.83 113.83h3.07v3.06h-3.07zM339.72 116.84h3.07v3.06h-3.07zM360.83 116.84h3.07v3.06h-3.07zM348.77 119.85h3.07v3.06h-3.07zM333.69 122.86h3.07v3.06h-3.07zM360.83 125.88h3.07v3.06h-3.07zM342.73 131.90h6.08v3.06h-6.08zM324.64 134.91h3.07v3.06h-3.07zM333.69 137.93h3.07v3.06h-3.07zM345.75 137.93h3.07v3.06h-3.07zM357.81 137.93h3.07v3.06h-3.07zM324.64 140.94h3.07v3.06h-3.07zM312.58 143.95h3.07v3.06h-3.07zM330.67 143.95h3.07v3.06h-3.07zM345.75 143.95h3.07v3.06h-3.07zM357.81 143.95h3.07v3.06h-3.07zM354.80 146.96h3.07v3.06h-3.07zM318.61 149.98h6.08v3.06h-6.08zM357.81 149.98h3.07v3.06h-3.07zM369.88 149.98h3.07v3.06h-3.07zM321.62 152.99h6.08v3.06h-6.08z"/>
<path fill="#ffc608" d="M333.69 35.50h3.07v3.06h-3.07zM348.77 35.50h3.07v3.06h-3.07zM354.80 35.50h3.07v3.06h-3.07zM318.61 38.51h6.08v3.06h-6.08zM327.66 38.51h3.07v3.06h-3.07zM327.66 41.52h3.07v3.06h-3.07zM351.78 41.52h3.07v3.06h-3.07zM324.64 44.54h3.07v3.06h-3.07zM342.73 44.54h3.07v3.06h-3.07zM321.62 56.59h3.07v3.06h-3.07zM318.61 59.60h3.07v3.06h-3.07zM330.67 62.61h6.08v3.06h-6.08zM339.72 62.61h3.07v3.06h-3.07zM351.78 62.61h3.07v3.06h-3.07zM357.81 62.61h3.07v3.06h-3.07zM351.78 65.62h3.07v3.06h-3.07zM351.78 68.64h3.07v3.06h-3.07zM318.61 71.65h3.07v3.06h-3.07zM330.67 71.65h6.08v3.06h-6.08zM327.66 74.66h3.07v3.06h-3.07zM336.70 74.66h3.07v3.06h-3.07zM327.66 77.68h3.07v3.06h-3.07zM345.75 77.68h9.10v3.06h-9.10zM357.81 77.68h3.07v3.06h-3.07zM327.66 80.69h3.07v3.06h-3.07zM345.75 80.69h3.07v3.06h-3.07zM357.81 80.69h3.07v3.06h-3.07zM336.70 83.70h3.07v3.06h-3.07zM324.64 86.71h3.07v3.06h-3.07zM336.70 86.71h3.07v3.06h-3.07zM345.75 86.71h12.11v3.06h-12.11zM345.75 89.72h6.08v3.06h-6.08zM342.73 92.74h6.08v3.06h-6.08zM339.72 98.76h3.07v3.06h-3.07zM339.72 104.79h3.07v3.06h-3.07zM357.81 104.79h3.07v3.06h-3.07zM339.72 107.80h3.07v3.06h-3.07zM357.81 107.80h3.07v3.06h-3.07zM333.69 110.81h6.08v3.06h-6.08zM345.75 110.81h6.08v3.06h-6.08zM333.69 113.83h3.07v3.06h-3.07zM354.80 113.83h3.07v3.06h-3.07zM324.64 122.86h3.07v3.06h-3.07zM339.72 122.86h3.07v3.06h-3.07zM354.80 122.86h3.07v3.06h-3.07zM333.69 125.88h3.07v3.06h-3.07zM339.72 125.88h3.07v3.06h-3.07zM345.75 125.88h3.07v3.06h-3.07zM324.64 128.89h3.07v3.06h-3.07zM354.80 128.89h3.07v3.06h-3.07zM360.83 128.89h3.07v3.06h-3.07zM339.72 131.90h3.07v3.06h-3.07zM336.70 134.91h3.07v3.06h-3.07zM345.75 134.91h3.07v3.06h-3.07zM324.64 137.93h3.07v3.06h-3.07zM312.58 140.94h3.07v3.06h-3.07zM345.75 140.94h3.07v3.06h-3.07zM342.73 143.95h3.07v3.06h-3.07zM339.72 146.96h3.07v3.06h-3.07zM324.64 149.98h3.07v3.06h-3.07zM339.72 149.98h3.07v3.06h-3.07zM339.72 152.99h6.08v3.06h-6.08zM348.77 152.99h3.07v3.06h-3.07z"/>
<path fill="#ffd504" d="M315.59 35.50h3.07v3.06h-3.07zM327.66 35.50h3.07v3.06h-3.07zM342.73 35.50h3.07v3.06h-3.07zM324.64 41.52h3.07v3.06h-3.07zM330.67 41.52h3.07v3.06h-3.07zM336.70 41.52h3.07v3.06h-3.07zM342.73 41.52h3.07v3.06h-3.07zM333.69 44.54h3.07v3.06h-3.07zM324.64 47.55h3.07v3.06h-3.07zM321.62 53.58h6.08v3.06h-6.08zM336.70 56.59h3.07v3.06h-3.07zM354.80 59.60h3.07v3.06h-3.07zM324.64 62.61h3.07v3.06h-3.07zM318.61 65.62h3.07v3.06h-3.07zM324.64 65.62h3.07v3.06h-3.07zM333.69 65.62h6.08v3.06h-6.08zM336.70 68.64h3.07v3.06h-3.07zM342.73 68.64h3.07v3.06h-3.07zM351.78 71.65h6.08v3.06h-6.08zM330.67 74.66h3.07v3.06h-3.07zM354.80 74.66h3.07v3.06h-3.07zM324.64 77.68h3.07v3.06h-3.07zM339.72 77.68h3.07v3.06h-3.07zM354.80 77.68h3.07v3.06h-3.07zM321.62 80.69h6.08v3.06h-6.08zM351.78 80.69h3.07v3.06h-3.07zM324.64 83.70h3.07v3.06h-3.07zM339.72 83.70h3.07v3.06h-3.07zM348.77 83.70h3.07v3.06h-3.07zM357.81 86.71h3.07v3.06h-3.07zM336.70 89.72h3.07v3.06h-3.07zM354.80 89.72h3.07v3.06h-3.07zM321.62 92.74h3.07v3.06h-3.07zM336.70 92.74h3.07v3.06h-3.07zM330.67 95.75h3.07v3.06h-3.07zM336.70 95.75h3.07v3.06h-3.07zM342.73 95.75h3.07v3.06h-3.07zM354.80 95.75h6.08v3.06h-6.08zM336.70 98.76h3.07v3.06h-3.07zM345.75 98.76h3.07v3.06h-3.07zM333.69 101.78h3.07v3.06h-3.07zM345.75 104.79h3.07v3.06h-3.07zM342.73 107.80h3.07v3.06h-3.07zM354.80 107.80h3.07v3.06h-3.07zM333.69 116.84h3.07v3.06h-3.07zM354.80 119.85h3.07v3.06h-3.07zM348.77 122.86h3.07v3.06h-3.07zM336.70 125.88h3.07v3.06h-3.07zM342.73 128.89h3.07v3.06h-3.07zM324.64 131.90h3.07v3.06h-3.07zM348.77 131.90h3.07v3.06h-3.07zM333.69 134.91h3.07v3.06h-3.07zM339.72 134.91h3.07v3.06h-3.07zM348.77 134.91h3.07v3.06h-3.07zM339.72 137.93h3.07v3.06h-3.07zM333.69 140.94h3.07v3.06h-3.07zM339.72 140.94h3.07v3.06h-3.07zM348.77 140.94h3.07v3.06h-3.07zM336.70 143.95h6.08v3.06h-6.08zM348.77 143.95h3.07v3.06h-3.07zM345.75 146.96h3.07v3.06h-3.07zM336.70 149.98h3.07v3.06h-3.07zM348.77 149.98h3.07v3.06h-3.07zM333.69 152.99h6.08v3.06h-6.08z"/>
<path fill="#fde300" d="M351.78 35.50h3.07v3.06h-3.07zM333.69 41.52h3.07v3.06h-3.07zM354.80 41.52h3.07v3.06h-3.07zM333.69 50.56h3.07v3.06h-3.07zM330.67 53.58h3.07v3.06h-3.07zM354.80 56.59h3.07v3.06h-3.07zM333.69 59.60h3.07v3.06h-3.07zM336.70 62.61h3.07v3.06h-3.07zM357.81 65.62h3.07v3.06h-3.07zM342.73 71.65h3.07v3.06h-3.07zM357.81 74.66h3.07v3.06h-3.07zM330.67 77.68h3.07v3.06h-3.07zM336.70 77.68h3.07v3.06h-3.07zM330.67 80.69h3.07v3.06h-3.07zM339.72 80.69h3.07v3.06h-3.07zM330.67 98.76h3.07v3.06h-3.07zM354.80 98.76h3.07v3.06h-3.07zM336.70 104.79h3.07v3.06h-3.07zM354.80 104.79h3.07v3.06h-3.07zM330.67 107.80h3.07v3.06h-3.07zM354.80 110.81h3.07v3.06h-3.07zM336.70 113.83h3.07v3.06h-3.07zM342.73 113.83h3.07v3.06h-3.07zM336.70 116.84h3.07v3.06h-3.07zM345.75 116.84h3.07v3.06h-3.07zM333.69 119.85h3.07v3.06h-3.07zM339.72 119.85h3.07v3.06h-3.07zM354.80 125.88h3.07v3.06h-3.07zM336.70 131.90h3.07v3.06h-3.07zM336.70 146.96h3.07v3.06h-3.07zM342.73 146.96h3.07v3.06h-3.07zM348.77 146.96h3.07v3.06h-3.07z"/>
<path fill="#fcee00" d="M342.73 38.51h3.07v3.06h-3.07zM348.77 38.51h3.07v3.06h-3.07zM327.66 44.54h3.07v3.06h-3.07zM336.70 44.54h3.07v3.06h-3.07zM333.69 47.55h3.07v3.06h-3.07zM354.80 47.55h3.07v3.06h-3.07zM327.66 53.58h3.07v3.06h-3.07zM354.80 65.62h3.07v3.06h-3.07zM354.80 68.64h6.08v3.06h-6.08zM324.64 71.65h3.07v3.06h-3.07zM339.72 74.66h3.07v3.06h-3.07zM336.70 80.69h3.07v3.06h-3.07zM324.64 89.72h3.07v3.06h-3.07zM330.67 89.72h3.07v3.06h-3.07zM357.81 92.74h3.07v3.06h-3.07zM345.75 107.80h3.07v3.06h-3.07zM342.73 116.84h3.07v3.06h-3.07zM336.70 119.85h3.07v3.06h-3.07zM342.73 119.85h3.07v3.06h-3.07zM324.64 125.88h3.07v3.06h-3.07zM342.73 125.88h3.07v3.06h-3.07zM336.70 128.89h3.07v3.06h-3.07z"/>
<path fill="#fef900" d="M354.80 44.54h3.07v3.06h-3.07zM327.66 47.55h3.07v3.06h-3.07zM354.80 53.58h3.07v3.06h-3.07zM327.66 65.62h3.07v3.06h-3.07zM318.61 68.64h3.07v3.06h-3.07zM327.66 71.65h3.07v3.06h-3.07zM324.64 74.66h3.07v3.06h-3.07zM330.67 83.70h3.07v3.06h-3.07zM336.70 122.86h3.07v3.06h-3.07z"/>
<path fill="#fdff00" d="M327.66 50.56h3.07v3.06h-3.07zM354.80 50.56h3.07v3.06h-3.07zM327.66 56.59h3.07v3.06h-3.07zM333.69 56.59h3.07v3.06h-3.07zM336.70 101.78h3.07v3.06h-3.07zM342.73 122.86h3.07v3.06h-3.07z"/>
<path fill="#fdff00" d="M327.66 59.60h3.07v3.06h-3.07z"/>
<path fill="#fdff00" d="M330.67 92.74h3.07v3.06h-3.07z"/>
</g>
<g stroke="#f01414" fill="#f01414" stroke-width="1.4" stroke-linejoin="miter">
<path d="M69.6 100.3L74.7 100.1M79.2 99.9L74.8 101.6L74.6 98.6ZM64.8 111.2L69.9 110.5M74.4 109.9L70.1 112.0L69.7 109.0ZM58.8 122.0L67.5 120.9M72.0 120.3L67.7 122.4L67.3 119.4ZM54.5 132.8L65.2 130.2M69.6 129.2L65.6 131.7L64.9 128.8ZM54.5 143.5L57.9 143.8M62.4 144.3L57.8 145.3L58.1 142.4ZM100.8 114.8L106.4 114.1M110.9 113.5L106.6 115.6L106.2 112.6ZM96.0 125.5L102.3 124.9M106.8 124.4L102.5 126.3L102.2 123.4ZM92.4 136.4L101.1 136.4M105.6 136.4L101.1 137.9L101.1 134.9ZM87.6 147.2L95.2 146.0M99.6 145.3L95.4 147.5L94.9 144.5ZM130.9 114.8L133.6 115.3M138.0 116.0L133.3 116.7L133.8 113.8ZM133.3 126.8L139.5 126.0M144.0 125.5L139.7 127.5L139.4 124.6ZM129.7 138.8L133.7 137.6M138.0 136.4L134.1 139.1L133.3 136.2ZM124.8 149.5L136.0 150.4M140.5 150.8L135.9 151.9L136.1 148.9ZM84.2 68.2l2 -0.6M79.4 79.0l2 -0.6M74.6 89.1l2 -0.6M119.0 70.6l2 -0.6M115.4 81.4l2 -0.6M110.6 92.7l2 -0.6M104.6 103.0l2 -0.6M146.7 94.6l2 -0.6M140.7 104.7l2 -0.6M53.5 53.8l2 -0.6" stroke-width="1.0"/>
<rect x="80.8" y="109.8" width="3.3" height="3.3" fill="#fff" stroke="none"/>
<path d="M296.0 166.0L297.3 159.3M298.3 153.8L298.8 159.6L295.8 159.0ZM309.4 166.0L310.4 158.2M311.3 151.8L312.0 158.4L308.9 158.0ZM322.8 166.0L323.4 155.4M323.8 148.6L325.0 155.5L321.9 155.3ZM336.2 166.0L336.5 152.8M336.6 146.0L338.0 152.8L334.9 152.7ZM349.6 166.0L349.9 151.9M350.1 145.1L351.5 152.0L348.4 151.9ZM363.0 166.0L362.3 155.2M361.9 148.4L363.9 155.1L360.8 155.3ZM376.4 166.0L375.8 158.6M375.3 152.5L377.4 158.5L374.3 158.7ZM389.8 166.0L389.1 159.4M388.6 154.1L390.7 159.3L387.6 159.6ZM300.6 152.5L301.4 145.5M302.1 139.8L303.0 145.7L299.9 145.3ZM314.0 152.5L315.4 143.8M316.5 137.1L316.9 144.0L313.9 143.5ZM327.4 152.5L327.8 142.2M328.1 135.4L329.4 142.3L326.3 142.1ZM340.8 152.5L341.2 138.2M341.4 131.4L342.8 138.3L339.7 138.2ZM354.2 152.5L354.5 139.0M354.7 132.2L356.1 139.0L353.0 139.0ZM367.6 152.5L367.2 141.4M367.0 134.6L368.8 141.3L365.7 141.4ZM381.0 152.5L380.8 144.7M380.7 138.3L382.4 144.6L379.3 144.7ZM394.4 152.5L393.5 145.6M392.7 139.9L395.0 145.4L391.9 145.8ZM305.2 139.0L305.9 131.3M306.5 125.0L307.4 131.4L304.3 131.1ZM318.6 139.0L319.8 129.2M320.6 122.4L321.3 129.4L318.3 129.0ZM332.0 139.0L332.7 126.0M333.1 119.2L334.3 126.1L331.2 125.9ZM345.4 139.0L345.4 123.5M345.4 116.7L347.0 123.5L343.9 123.5ZM358.8 139.0L358.3 128.3M358.1 121.5L359.9 128.3L356.8 128.4ZM372.2 139.0L371.6 130.1M371.1 123.3L373.1 130.0L370.0 130.2ZM385.6 139.0L385.0 131.6M384.5 125.5L386.6 131.4L383.5 131.7ZM296.4 125.5L297.7 118.6M298.7 112.9L299.2 118.8L296.1 118.3ZM309.8 125.5L310.9 118.9M311.9 113.5L312.5 119.2L309.4 118.6ZM323.2 125.5L323.6 116.3M324.0 109.5L325.2 116.3L322.1 116.2ZM336.6 125.5L336.8 112.0M336.9 105.2L338.3 112.0L335.2 111.9ZM350.0 125.5L350.5 112.6M350.8 105.8L352.0 112.6L348.9 112.5ZM363.4 125.5L363.2 115.4M363.0 108.6L364.7 115.4L361.6 115.4ZM376.8 125.5L376.0 118.2M375.3 112.2L377.5 118.0L374.5 118.3ZM390.2 125.5L389.4 118.5M388.7 112.8L390.9 118.3L387.8 118.7ZM301.0 112.0L302.2 106.1M303.2 101.2L303.7 106.4L300.7 105.8ZM314.4 112.0L315.3 104.2M316.0 97.8L316.8 104.4L313.7 104.0ZM327.8 112.0L328.7 101.9M329.3 95.1L330.2 102.0L327.2 101.7ZM341.2 112.0L342.4 98.7M343.0 91.9L343.9 98.8L340.8 98.6ZM354.6 112.0L354.7 99.1M354.8 92.3L356.3 99.1L353.2 99.1ZM368.0 112.0L367.7 101.3M367.5 94.5L369.3 101.3L366.2 101.4ZM381.4 112.0L381.0 105.0M380.7 99.2L382.5 104.9L379.4 105.1ZM394.8 112.0L394.4 106.0M394.1 101.1L396.0 105.9L392.9 106.1ZM305.6 98.5L306.9 91.3M308.0 85.4L308.5 91.6L305.4 91.0ZM319.0 98.5L319.7 88.4M320.2 81.6L321.3 88.5L318.2 88.2ZM332.4 98.5L333.7 86.1M334.4 79.3L335.2 86.2L332.1 85.9ZM345.8 98.5L346.6 85.5M347.0 78.8L348.1 85.6L345.0 85.5ZM359.2 98.5L358.8 86.5M358.6 79.7L360.3 86.5L357.3 86.6ZM372.6 98.5L372.6 90.4M372.6 83.8L374.2 90.4L371.1 90.4ZM386.0 98.5L385.8 91.4M385.6 85.7L387.3 91.4L384.2 91.5ZM296.8 85.0L298.1 78.1M299.1 72.4L299.6 78.3L296.6 77.8ZM310.2 85.0L310.9 76.9M311.5 70.3L312.4 77.0L309.3 76.8ZM323.6 85.0L324.5 76.2M325.1 69.4L326.0 76.3L322.9 76.0ZM337.0 85.0L337.2 70.6M337.3 63.8L338.8 70.7L335.7 70.6ZM350.4 85.0L350.7 69.9M350.9 63.1L352.3 69.9L349.2 69.8ZM363.8 85.0L364.0 74.1M364.1 67.3L365.5 74.1L362.4 74.1ZM377.2 85.0L376.7 76.9M376.2 70.2L378.2 76.8L375.1 77.0ZM390.6 85.0L390.3 78.6M390.1 73.4L391.9 78.6L388.8 78.7ZM301.4 71.5L302.3 65.4M303.1 60.4L303.9 65.6L300.8 65.2ZM314.8 71.5L315.3 64.3M315.6 58.4L316.8 64.4L313.7 64.2ZM328.2 71.5L328.9 59.8M329.3 53.1L330.5 59.9L327.4 59.7ZM341.6 71.5L342.7 56.7M343.2 50.0L344.3 56.8L341.2 56.6ZM355.0 71.5L355.6 59.2M356.0 52.4L357.2 59.3L354.1 59.1ZM368.4 71.5L368.4 62.6M368.4 55.8L370.0 62.6L366.9 62.6ZM381.8 71.5L381.2 64.2M380.7 58.2L382.7 64.1L379.6 64.3ZM395.2 71.5L394.8 65.0M394.5 59.7L396.4 64.9L393.3 65.1ZM306.0 58.0L306.6 51.2M307.1 45.6L308.2 51.3L305.1 51.0ZM319.4 58.0L320.4 48.7M321.1 41.9L321.9 48.8L318.8 48.5ZM332.8 58.0L333.1 46.1M333.3 39.3L334.7 46.1L331.6 46.1ZM346.2 58.0L346.1 43.8M346.0 37.0L347.6 43.8L344.5 43.8ZM359.6 58.0L359.3 46.6M359.2 39.8L360.9 46.6L357.8 46.6ZM373.0 58.0L372.6 49.1M372.3 42.3L374.1 49.0L371.0 49.1ZM386.4 58.0L385.9 50.7M385.4 44.8L387.4 50.6L384.3 50.8ZM297.2 44.5L298.3 37.3M299.2 31.4L299.8 37.5L296.8 37.0ZM310.6 44.5L311.2 37.7M311.6 32.2L312.7 37.9L309.6 37.6ZM324.0 44.5L324.4 34.5M324.7 27.7L326.0 34.5L322.9 34.4ZM337.4 44.5L337.8 31.9M338.0 25.1L339.3 31.9L336.2 31.8ZM350.8 44.5L350.2 29.8M350.0 23.1L351.8 29.8L348.7 29.9ZM364.2 44.5L363.4 33.5M363.0 26.7L365.0 33.4L361.9 33.6ZM377.6 44.5L377.5 37.2M377.5 31.3L379.1 37.2L376.0 37.3ZM391.0 44.5L390.4 37.2M389.8 31.3L391.9 37.1L388.8 37.4Z" clip-path="url(#ri1)" stroke-width="1.2"/>
</g>
<rect x="54.0" y="36.5" width="96.0" height="120.5" fill="none" stroke="#1a1a1a" stroke-width="1.1"/>
<rect x="297.5" y="35.5" width="96.5" height="120.5" fill="none" stroke="#1a1a1a" stroke-width="1.1"/>
<path d="M291 98L319.3 74.5" stroke="#111" stroke-width="1.4" fill="none" marker-end="url(#ah)"/>
<path d="M144.5 181.5L127.5 162" stroke="#111" stroke-width="1.4" fill="none" marker-end="url(#ah)"/>
</g>
</svg></body></html>
